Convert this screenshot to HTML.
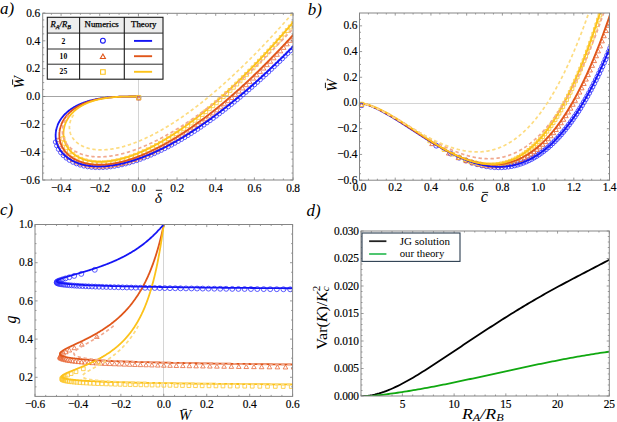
<!DOCTYPE html>
<html><head><meta charset="utf-8"><style>html,body{margin:0;padding:0;background:#fff;overflow:hidden}svg{display:block}</style></head><body>
<svg width="617" height="422" viewBox="0 0 617 422">
<rect width="617" height="422" fill="#fff"/>
<defs>
<clipPath id="ca"><rect x="42.7" y="13.3" width="250.3" height="166.7"/></clipPath>
<clipPath id="cb"><rect x="359.5" y="13" width="250" height="167.2"/></clipPath>
<clipPath id="cc"><rect x="35" y="224.5" width="257.6" height="171.9"/></clipPath>
<clipPath id="cd"><rect x="361" y="231" width="248.3" height="165"/></clipPath>
</defs>
<g clip-path="url(#ca)">
<path d="M42.7,96.5H293" stroke="#a4a4a4" stroke-width="1"/>
<path d="M138.5,13.3V180" stroke="#d4d4d4" stroke-width="1"/>
<path d="M53.28,142.02a2.1,2.1 0 1,0 4.2,0a2.1,2.1 0 1,0 -4.2,0M54.53,145.77a2.1,2.1 0 1,0 4.2,0a2.1,2.1 0 1,0 -4.2,0M56.3,149.3a2.1,2.1 0 1,0 4.2,0a2.1,2.1 0 1,0 -4.2,0M58.54,152.55a2.1,2.1 0 1,0 4.2,0a2.1,2.1 0 1,0 -4.2,0M61.16,155.48a2.1,2.1 0 1,0 4.2,0a2.1,2.1 0 1,0 -4.2,0M64.12,158.07a2.1,2.1 0 1,0 4.2,0a2.1,2.1 0 1,0 -4.2,0M67.33,160.3a2.1,2.1 0 1,0 4.2,0a2.1,2.1 0 1,0 -4.2,0M70.75,162.2a2.1,2.1 0 1,0 4.2,0a2.1,2.1 0 1,0 -4.2,0M74.31,163.77a2.1,2.1 0 1,0 4.2,0a2.1,2.1 0 1,0 -4.2,0M77.99,165.03a2.1,2.1 0 1,0 4.2,0a2.1,2.1 0 1,0 -4.2,0M81.74,166.01a2.1,2.1 0 1,0 4.2,0a2.1,2.1 0 1,0 -4.2,0M85.54,166.73a2.1,2.1 0 1,0 4.2,0a2.1,2.1 0 1,0 -4.2,0M89.37,167.22a2.1,2.1 0 1,0 4.2,0a2.1,2.1 0 1,0 -4.2,0M93.22,167.49a2.1,2.1 0 1,0 4.2,0a2.1,2.1 0 1,0 -4.2,0M97.08,167.57a2.1,2.1 0 1,0 4.2,0a2.1,2.1 0 1,0 -4.2,0M100.92,167.46a2.1,2.1 0 1,0 4.2,0a2.1,2.1 0 1,0 -4.2,0M104.76,167.2a2.1,2.1 0 1,0 4.2,0a2.1,2.1 0 1,0 -4.2,0M108.58,166.78a2.1,2.1 0 1,0 4.2,0a2.1,2.1 0 1,0 -4.2,0M112.37,166.22a2.1,2.1 0 1,0 4.2,0a2.1,2.1 0 1,0 -4.2,0M116.15,165.54a2.1,2.1 0 1,0 4.2,0a2.1,2.1 0 1,0 -4.2,0M119.9,164.74a2.1,2.1 0 1,0 4.2,0a2.1,2.1 0 1,0 -4.2,0M123.62,163.84a2.1,2.1 0 1,0 4.2,0a2.1,2.1 0 1,0 -4.2,0M127.31,162.83a2.1,2.1 0 1,0 4.2,0a2.1,2.1 0 1,0 -4.2,0M130.98,161.73a2.1,2.1 0 1,0 4.2,0a2.1,2.1 0 1,0 -4.2,0M134.62,160.55a2.1,2.1 0 1,0 4.2,0a2.1,2.1 0 1,0 -4.2,0M138.23,159.29a2.1,2.1 0 1,0 4.2,0a2.1,2.1 0 1,0 -4.2,0M141.81,157.95a2.1,2.1 0 1,0 4.2,0a2.1,2.1 0 1,0 -4.2,0M145.36,156.54a2.1,2.1 0 1,0 4.2,0a2.1,2.1 0 1,0 -4.2,0M148.88,155.06a2.1,2.1 0 1,0 4.2,0a2.1,2.1 0 1,0 -4.2,0M152.38,153.53a2.1,2.1 0 1,0 4.2,0a2.1,2.1 0 1,0 -4.2,0M155.85,151.93a2.1,2.1 0 1,0 4.2,0a2.1,2.1 0 1,0 -4.2,0M159.29,150.28a2.1,2.1 0 1,0 4.2,0a2.1,2.1 0 1,0 -4.2,0M162.71,148.58a2.1,2.1 0 1,0 4.2,0a2.1,2.1 0 1,0 -4.2,0M166.1,146.83a2.1,2.1 0 1,0 4.2,0a2.1,2.1 0 1,0 -4.2,0M169.46,145.03a2.1,2.1 0 1,0 4.2,0a2.1,2.1 0 1,0 -4.2,0M172.8,143.19a2.1,2.1 0 1,0 4.2,0a2.1,2.1 0 1,0 -4.2,0M176.12,141.31a2.1,2.1 0 1,0 4.2,0a2.1,2.1 0 1,0 -4.2,0M179.41,139.39a2.1,2.1 0 1,0 4.2,0a2.1,2.1 0 1,0 -4.2,0M182.68,137.43a2.1,2.1 0 1,0 4.2,0a2.1,2.1 0 1,0 -4.2,0M185.93,135.43a2.1,2.1 0 1,0 4.2,0a2.1,2.1 0 1,0 -4.2,0M189.15,133.4a2.1,2.1 0 1,0 4.2,0a2.1,2.1 0 1,0 -4.2,0M192.35,131.33a2.1,2.1 0 1,0 4.2,0a2.1,2.1 0 1,0 -4.2,0M195.54,129.23a2.1,2.1 0 1,0 4.2,0a2.1,2.1 0 1,0 -4.2,0M198.7,127.1a2.1,2.1 0 1,0 4.2,0a2.1,2.1 0 1,0 -4.2,0M201.84,124.95a2.1,2.1 0 1,0 4.2,0a2.1,2.1 0 1,0 -4.2,0M204.96,122.76a2.1,2.1 0 1,0 4.2,0a2.1,2.1 0 1,0 -4.2,0M208.06,120.55a2.1,2.1 0 1,0 4.2,0a2.1,2.1 0 1,0 -4.2,0M211.14,118.31a2.1,2.1 0 1,0 4.2,0a2.1,2.1 0 1,0 -4.2,0M214.21,116.05a2.1,2.1 0 1,0 4.2,0a2.1,2.1 0 1,0 -4.2,0M217.25,113.76a2.1,2.1 0 1,0 4.2,0a2.1,2.1 0 1,0 -4.2,0M220.28,111.46a2.1,2.1 0 1,0 4.2,0a2.1,2.1 0 1,0 -4.2,0M223.29,109.12a2.1,2.1 0 1,0 4.2,0a2.1,2.1 0 1,0 -4.2,0M226.28,106.77a2.1,2.1 0 1,0 4.2,0a2.1,2.1 0 1,0 -4.2,0M229.26,104.4a2.1,2.1 0 1,0 4.2,0a2.1,2.1 0 1,0 -4.2,0M232.22,102a2.1,2.1 0 1,0 4.2,0a2.1,2.1 0 1,0 -4.2,0M235.17,99.59a2.1,2.1 0 1,0 4.2,0a2.1,2.1 0 1,0 -4.2,0M238.09,97.16a2.1,2.1 0 1,0 4.2,0a2.1,2.1 0 1,0 -4.2,0M241.01,94.7a2.1,2.1 0 1,0 4.2,0a2.1,2.1 0 1,0 -4.2,0M243.9,92.24a2.1,2.1 0 1,0 4.2,0a2.1,2.1 0 1,0 -4.2,0M246.79,89.75a2.1,2.1 0 1,0 4.2,0a2.1,2.1 0 1,0 -4.2,0M249.66,87.25a2.1,2.1 0 1,0 4.2,0a2.1,2.1 0 1,0 -4.2,0M252.51,84.73a2.1,2.1 0 1,0 4.2,0a2.1,2.1 0 1,0 -4.2,0M255.35,82.2a2.1,2.1 0 1,0 4.2,0a2.1,2.1 0 1,0 -4.2,0M258.18,79.65a2.1,2.1 0 1,0 4.2,0a2.1,2.1 0 1,0 -4.2,0M260.99,77.08a2.1,2.1 0 1,0 4.2,0a2.1,2.1 0 1,0 -4.2,0M263.79,74.51a2.1,2.1 0 1,0 4.2,0a2.1,2.1 0 1,0 -4.2,0M266.58,71.92a2.1,2.1 0 1,0 4.2,0a2.1,2.1 0 1,0 -4.2,0M269.35,69.31a2.1,2.1 0 1,0 4.2,0a2.1,2.1 0 1,0 -4.2,0M272.11,66.69a2.1,2.1 0 1,0 4.2,0a2.1,2.1 0 1,0 -4.2,0M274.86,64.06a2.1,2.1 0 1,0 4.2,0a2.1,2.1 0 1,0 -4.2,0M277.59,61.42a2.1,2.1 0 1,0 4.2,0a2.1,2.1 0 1,0 -4.2,0M280.32,58.76a2.1,2.1 0 1,0 4.2,0a2.1,2.1 0 1,0 -4.2,0M283.03,56.09a2.1,2.1 0 1,0 4.2,0a2.1,2.1 0 1,0 -4.2,0M285.73,53.41a2.1,2.1 0 1,0 4.2,0a2.1,2.1 0 1,0 -4.2,0M288.42,50.72a2.1,2.1 0 1,0 4.2,0a2.1,2.1 0 1,0 -4.2,0M291.1,48.02a2.1,2.1 0 1,0 4.2,0a2.1,2.1 0 1,0 -4.2,0M293.77,45.31a2.1,2.1 0 1,0 4.2,0a2.1,2.1 0 1,0 -4.2,0" fill="none" stroke="#3434ff" stroke-width="0.8"/>
<path d="M58.15,137.73L60.46,141.78L55.84,141.78ZM59.58,142.64L61.89,146.68L57.27,146.68ZM61.87,147.19L64.18,151.23L59.56,151.23ZM64.92,151.26L67.23,155.3L62.61,155.3ZM68.58,154.76L70.89,158.81L66.27,158.81ZM72.7,157.66L75.01,161.7L70.39,161.7ZM77.16,159.96L79.47,164L74.85,164ZM81.83,161.7L84.14,165.74L79.52,165.74ZM86.64,162.93L88.95,166.97L84.33,166.97ZM91.53,163.71L93.84,167.75L89.22,167.75ZM96.44,164.09L98.75,168.14L94.13,168.14ZM101.35,164.12L103.66,168.17L99.04,168.17ZM106.24,163.84L108.55,167.88L103.93,167.88ZM111.1,163.29L113.41,167.33L108.79,167.33ZM115.92,162.49L118.23,166.54L113.61,166.54ZM120.68,161.48L122.99,165.52L118.37,165.52ZM125.4,160.28L127.71,164.32L123.09,164.32ZM130.06,158.9L132.37,162.95L127.75,162.95ZM134.67,157.37L136.98,161.41L132.36,161.41ZM139.22,155.7L141.53,159.74L136.91,159.74ZM143.72,153.9L146.03,157.94L141.41,157.94ZM148.17,151.98L150.48,156.03L145.86,156.03ZM152.56,149.96L154.87,154L150.25,154ZM156.91,147.84L159.22,151.88L154.6,151.88ZM161.21,145.62L163.52,149.66L158.9,149.66ZM165.46,143.32L167.77,147.37L163.15,147.37ZM169.67,140.95L171.98,144.99L167.36,144.99ZM173.83,138.5L176.14,142.54L171.52,142.54ZM177.95,135.98L180.26,140.03L175.64,140.03ZM182.03,133.4L184.34,137.45L179.72,137.45ZM186.07,130.76L188.38,134.81L183.76,134.81ZM190.07,128.07L192.38,132.11L187.76,132.11ZM194.03,125.32L196.34,129.36L191.72,129.36ZM197.95,122.52L200.26,126.57L195.64,126.57ZM201.85,119.68L204.16,123.72L199.54,123.72ZM205.7,116.79L208.01,120.83L203.39,120.83ZM209.53,113.86L211.84,117.9L207.22,117.9ZM213.32,110.89L215.63,114.93L211.01,114.93ZM217.08,107.88L219.39,111.92L214.77,111.92ZM220.81,104.84L223.12,108.88L218.5,108.88ZM224.52,101.76L226.83,105.8L222.21,105.8ZM228.19,98.65L230.5,102.69L225.88,102.69ZM231.84,95.5L234.15,99.54L229.53,99.54ZM235.46,92.33L237.77,96.37L233.15,96.37ZM239.05,89.13L241.36,93.17L236.74,93.17ZM242.62,85.9L244.93,89.94L240.31,89.94ZM246.16,82.64L248.47,86.68L243.85,86.68ZM249.68,79.36L251.99,83.4L247.37,83.4ZM253.18,76.05L255.49,80.09L250.87,80.09ZM256.65,72.72L258.96,76.76L254.34,76.76ZM260.1,69.37L262.41,73.41L257.79,73.41ZM263.53,66L265.84,70.04L261.22,70.04ZM266.94,62.6L269.25,66.64L264.63,66.64ZM270.33,59.18L272.64,63.23L268.02,63.23ZM273.69,55.75L276,59.79L271.38,59.79ZM277.04,52.29L279.35,56.34L274.73,56.34ZM280.37,48.82L282.68,52.86L278.06,52.86ZM283.67,45.33L285.98,49.37L281.36,49.37ZM286.96,41.82L289.27,45.87L284.65,45.87ZM290.24,38.3L292.55,42.34L287.93,42.34ZM293.49,34.76L295.8,38.8L291.18,38.8Z" fill="none" stroke="#e86a3a" stroke-width="0.8"/>
<path d="M61.12,136.76h3.86v3.86h-3.86ZM62.47,141.32h3.86v3.86h-3.86ZM64.62,145.56h3.86v3.86h-3.86ZM67.48,149.36h3.86v3.86h-3.86ZM70.92,152.61h3.86v3.86h-3.86ZM74.82,155.29h3.86v3.86h-3.86ZM79.04,157.39h3.86v3.86h-3.86ZM83.48,158.94h3.86v3.86h-3.86ZM88.05,160.01h3.86v3.86h-3.86ZM92.68,160.63h3.86v3.86h-3.86ZM97.35,160.87h3.86v3.86h-3.86ZM102.01,160.77h3.86v3.86h-3.86ZM106.64,160.36h3.86v3.86h-3.86ZM111.24,159.7h3.86v3.86h-3.86ZM115.8,158.8h3.86v3.86h-3.86ZM120.3,157.7h3.86v3.86h-3.86ZM124.76,156.41h3.86v3.86h-3.86ZM129.16,154.96h3.86v3.86h-3.86ZM133.5,153.37h3.86v3.86h-3.86ZM137.79,151.64h3.86v3.86h-3.86ZM142.03,149.79h3.86v3.86h-3.86ZM146.22,147.83h3.86v3.86h-3.86ZM150.35,145.77h3.86v3.86h-3.86ZM154.44,143.62h3.86v3.86h-3.86ZM158.48,141.38h3.86v3.86h-3.86ZM162.48,139.07h3.86v3.86h-3.86ZM166.43,136.68h3.86v3.86h-3.86ZM170.33,134.22h3.86v3.86h-3.86ZM174.2,131.71h3.86v3.86h-3.86ZM178.03,129.13h3.86v3.86h-3.86ZM181.82,126.5h3.86v3.86h-3.86ZM185.57,123.81h3.86v3.86h-3.86ZM189.28,121.08h3.86v3.86h-3.86ZM192.96,118.3h3.86v3.86h-3.86ZM196.61,115.48h3.86v3.86h-3.86ZM200.22,112.62h3.86v3.86h-3.86ZM203.8,109.72h3.86v3.86h-3.86ZM207.36,106.78h3.86v3.86h-3.86ZM210.88,103.81h3.86v3.86h-3.86ZM214.37,100.8h3.86v3.86h-3.86ZM217.84,97.76h3.86v3.86h-3.86ZM221.27,94.7h3.86v3.86h-3.86ZM224.69,91.6h3.86v3.86h-3.86ZM228.07,88.48h3.86v3.86h-3.86ZM231.43,85.33h3.86v3.86h-3.86ZM234.77,82.15h3.86v3.86h-3.86ZM238.08,78.95h3.86v3.86h-3.86ZM241.38,75.73h3.86v3.86h-3.86ZM244.64,72.48h3.86v3.86h-3.86ZM247.89,69.21h3.86v3.86h-3.86ZM251.12,65.93h3.86v3.86h-3.86ZM254.32,62.62h3.86v3.86h-3.86ZM257.5,59.29h3.86v3.86h-3.86ZM260.67,55.95h3.86v3.86h-3.86ZM263.82,52.58h3.86v3.86h-3.86ZM266.94,49.2h3.86v3.86h-3.86ZM270.05,45.81h3.86v3.86h-3.86ZM273.14,42.39h3.86v3.86h-3.86ZM276.21,38.96h3.86v3.86h-3.86ZM279.27,35.52h3.86v3.86h-3.86ZM282.31,32.06h3.86v3.86h-3.86ZM285.33,28.59h3.86v3.86h-3.86ZM288.34,25.1h3.86v3.86h-3.86ZM291.33,21.6h3.86v3.86h-3.86Z" fill="none" stroke="#fcc830" stroke-width="0.8"/>
<path d="M138.4,96.5 L130.41,96.52 L127.1,96.55 L124.57,96.59 L122.43,96.64 L120.55,96.7 L118.86,96.76 L117.3,96.83 L115.85,96.9 L114.49,96.98 L113.21,97.06 L111.99,97.14 L110.83,97.23 L109.72,97.33 L108.65,97.42 L107.62,97.52 L106.63,97.63 L105.67,97.73 L104.75,97.84 L103.84,97.96 L102.97,98.07 L102.12,98.19 L101.29,98.31 L100.48,98.44 L99.69,98.56 L98.92,98.69 L98.17,98.82 L97.43,98.96 L96.71,99.09 L96.01,99.23 L95.32,99.37 L94.64,99.52 L93.98,99.66 L93.32,99.81 L92.69,99.96 L92.06,100.11 L91.44,100.27 L90.83,100.42 L90.24,100.58 L89.65,100.74 L89.08,100.9 L88.51,101.06 L87.95,101.23 L87.41,101.4 L86.87,101.56 L86.33,101.73 L85.81,101.91 L85.3,102.08 L84.79,102.26 L84.29,102.43 L83.8,102.61 L83.31,102.79 L82.83,102.97 L82.36,103.15 L81.89,103.34 L81.44,103.52 L80.98,103.71 L80.54,103.9 L80.1,104.09 L79.67,104.28 L79.24,104.47 L78.82,104.67 L78.4,104.86 L77.99,105.06 L77.58,105.26 L77.18,105.46 L76.79,105.66 L76.4,105.86 L76.02,106.06 L75.64,106.27 L75.26,106.47 L74.9,106.68 L74.53,106.88 L74.17,107.09 L73.82,107.3 L73.47,107.51 L73.12,107.72 L72.78,107.93 L72.45,108.15 L72.11,108.36 L71.79,108.58 L71.46,108.79 L71.14,109.01 L70.83,109.23 L70.52,109.45 L70.21,109.67 L69.91,109.89 L69.61,110.11 L69.32,110.33 L69.03,110.56 L68.74,110.78 L68.46,111 L68.18,111.23 L67.9,111.46 L67.63,111.68 L67.36,111.91 L67.1,112.14 L66.84,112.37 L66.58,112.6 L66.33,112.83 L66.08,113.06 L65.83,113.29 L65.59,113.53 L65.35,113.76 L65.12,113.99 L64.88,114.23 L64.66,114.46 L64.43,114.7 L64.21,114.93 L63.99,115.17 L63.77,115.41 L63.56,115.65 L63.35,115.88 L63.15,116.12 L62.94,116.36 L62.74,116.6 L62.55,116.84 L62.35,117.08 L62.16,117.32 L61.98,117.57 L61.79,117.81 L61.61,118.05 L61.43,118.29 L61.26,118.54 L61.08,118.78 L60.92,119.02 L60.75,119.27 L60.59,119.51 L60.43,119.76 L60.27,120 L60.11,120.25 L59.96,120.49 L59.81,120.74 L59.67,120.99 L59.52,121.23 L59.38,121.48 L59.24,121.73 L59.11,121.98 L58.98,122.22 L58.85,122.47 L58.72,122.72 L58.6,122.97 L58.48,123.22 L58.36,123.46 L58.24,123.71 L58.13,123.96 L58.02,124.21 L57.91,124.46 L57.81,124.71 L57.7,124.96 L57.6,125.21 L57.51,125.46 L57.41,125.71 L57.32,125.96 L57.23,126.21 L57.14,126.45 L57.06,126.7 L56.97,126.95 L56.9,127.2 L56.82,127.45 L56.74,127.7 L56.67,127.95 L56.6,128.2 L56.54,128.45 L56.47,128.7 L56.41,128.95 L56.35,129.2 L56.29,129.45 L56.24,129.7 L56.19,129.95 L56.14,130.2 L56.09,130.45 L56.04,130.69 L56,130.94 L55.96,131.19 L55.92,131.44 L55.89,131.69 L55.86,131.94 L55.82,132.18 L55.8,132.43 L55.77,132.68 L55.75,132.93 L55.73,133.17 L55.71,133.42 L55.69,133.67 L55.68,133.91 L55.66,134.16 L55.65,134.4 L55.65,134.65 L55.64,134.89 L55.64,135.14 L55.64,135.38 L55.64,135.63 L55.64,135.87 L55.65,136.11 L55.66,136.36 L55.67,136.6 L55.68,136.84 L55.7,137.08 L55.72,137.33 L55.74,137.57 L55.76,137.81 L55.78,138.05 L55.81,138.29 L55.84,138.53 L55.87,138.77 L55.9,139.01 L55.94,139.24 L55.97,139.48 L56.01,139.72 L56.05,139.96 L56.1,140.19 L56.14,140.43 L56.19,140.66 L56.24,140.9 L56.3,141.13 L56.35,141.37 L56.41,141.6 L56.47,141.83 L56.53,142.06 L56.59,142.29 L56.66,142.53 L56.72,142.76 L56.79,142.99 L56.86,143.21 L56.94,143.44 L57.01,143.67 L57.09,143.9 L57.17,144.13 L57.25,144.35 L57.34,144.58 L57.43,144.8 L57.51,145.02 L57.61,145.25 L57.7,145.47 L57.79,145.69 L57.89,145.91 L57.99,146.13 L58.09,146.35 L58.19,146.57 L58.3,146.79 L58.4,147.01 L58.51,147.23 L58.63,147.44 L58.74,147.66 L58.85,147.87 L58.97,148.08 L59.09,148.3 L59.21,148.51 L59.34,148.72 L59.46,148.93 L59.59,149.14 L59.72,149.35 L59.85,149.56 L59.98,149.76 L60.12,149.97 L60.26,150.17 L60.4,150.38 L60.54,150.58 L60.68,150.78 L60.83,150.99 L60.97,151.19 L61.12,151.39 L61.28,151.59 L61.43,151.78 L61.58,151.98 L61.74,152.18 L61.9,152.37 L62.06,152.57 L62.23,152.76 L62.39,152.95 L62.56,153.14 L62.73,153.33 L62.9,153.52 L63.07,153.71 L63.25,153.9 L63.43,154.08 L63.6,154.27 L63.79,154.45 L63.97,154.63 L64.15,154.81 L64.34,154.99 L64.53,155.17 L64.72,155.35 L64.91,155.53 L65.11,155.71 L65.3,155.88 L65.5,156.05 L65.7,156.23 L65.91,156.4 L66.11,156.57 L66.32,156.74 L66.52,156.91 L66.73,157.07 L66.95,157.24 L67.16,157.4 L67.38,157.57 L67.59,157.73 L67.81,157.89 L68.03,158.05 L68.26,158.21 L68.48,158.37 L68.71,158.52 L68.94,158.68 L69.17,158.83 L69.4,158.98 L69.64,159.13 L69.88,159.28 L70.11,159.43 L70.35,159.58 L70.6,159.72 L70.84,159.87 L71.09,160.01 L71.34,160.15 L71.59,160.29 L71.84,160.43 L72.09,160.57 L72.35,160.7 L72.6,160.84 L72.86,160.97 L73.12,161.11 L73.39,161.24 L73.65,161.37 L73.92,161.49 L74.19,161.62 L74.46,161.74 L74.73,161.87 L75,161.99 L75.28,162.11 L75.56,162.23 L75.84,162.35 L76.12,162.46 L76.4,162.58 L76.69,162.69 L76.97,162.8 L77.26,162.91 L77.55,163.02 L77.85,163.13 L78.14,163.23 L78.44,163.34 L78.74,163.44 L79.04,163.54 L79.34,163.64 L79.64,163.74 L79.95,163.84 L80.25,163.93 L80.56,164.02 L80.87,164.11 L81.19,164.2 L81.5,164.29 L81.82,164.38 L82.14,164.46 L82.46,164.55 L82.78,164.63 L83.1,164.71 L83.43,164.79 L83.75,164.86 L84.08,164.94 L84.41,165.01 L84.75,165.08 L85.08,165.15 L85.42,165.22 L85.76,165.29 L86.1,165.35 L86.44,165.42 L86.78,165.48 L87.13,165.54 L87.47,165.59 L87.82,165.65 L88.17,165.7 L88.53,165.76 L88.88,165.81 L89.24,165.86 L89.59,165.9 L89.95,165.95 L90.32,165.99 L90.68,166.03 L91.04,166.07 L91.41,166.11 L91.78,166.15 L92.15,166.18 L92.52,166.21 L92.9,166.24 L93.27,166.27 L93.65,166.3 L94.03,166.32 L94.41,166.35 L94.79,166.37 L95.18,166.39 L95.57,166.4 L95.95,166.42 L96.34,166.43 L96.74,166.44 L97.13,166.45 L97.53,166.46 L97.92,166.46 L98.32,166.47 L98.72,166.47 L99.13,166.47 L99.53,166.47 L99.94,166.46 L100.34,166.45 L100.75,166.45 L101.16,166.44 L101.58,166.42 L101.99,166.41 L102.41,166.39 L102.83,166.37 L103.25,166.35 L103.67,166.33 L104.09,166.3 L104.52,166.28 L104.95,166.25 L105.37,166.22 L105.81,166.18 L106.24,166.15 L106.67,166.11 L107.11,166.07 L107.55,166.03 L107.99,165.98 L108.43,165.94 L108.87,165.89 L109.31,165.84 L109.76,165.78 L110.21,165.73 L110.66,165.67 L111.11,165.61 L111.56,165.55 L112.02,165.49 L112.48,165.42 L112.93,165.35 L113.4,165.28 L113.86,165.21 L114.32,165.13 L114.79,165.06 L115.25,164.98 L115.72,164.89 L116.19,164.81 L116.67,164.72 L117.14,164.63 L117.62,164.54 L118.1,164.45 L118.57,164.35 L119.06,164.26 L119.54,164.16 L120.02,164.05 L120.51,163.95 L121,163.84 L121.49,163.73 L121.98,163.62 L122.47,163.5 L122.97,163.39 L123.46,163.27 L123.96,163.15 L124.46,163.02 L124.97,162.89 L125.47,162.77 L125.97,162.63 L126.48,162.5 L126.99,162.36 L127.5,162.23 L128.01,162.08 L128.53,161.94 L129.04,161.79 L129.56,161.65 L130.08,161.49 L130.6,161.34 L131.12,161.18 L131.65,161.03 L132.17,160.86 L132.7,160.7 L133.23,160.53 L133.76,160.36 L134.3,160.19 L134.83,160.02 L135.37,159.84 L135.9,159.66 L136.44,159.48 L136.99,159.3 L137.53,159.11 L138.07,158.92 L138.62,158.73 L139.17,158.53 L139.72,158.34 L140.27,158.14 L140.82,157.93 L141.38,157.73 L141.93,157.52 L142.49,157.31 L143.05,157.1 L143.62,156.88 L144.18,156.66 L144.74,156.44 L145.31,156.22 L145.88,155.99 L146.45,155.76 L147.02,155.53 L147.6,155.29 L148.17,155.06 L148.75,154.82 L149.33,154.57 L149.91,154.33 L150.49,154.08 L151.07,153.83 L151.66,153.57 L152.25,153.32 L152.84,153.06 L153.43,152.79 L154.02,152.53 L154.61,152.26 L155.21,151.99 L155.81,151.72 L156.41,151.44 L157.01,151.16 L157.61,150.88 L158.21,150.59 L158.82,150.3 L159.43,150.01 L160.04,149.72 L160.65,149.42 L161.26,149.12 L161.87,148.82 L162.49,148.51 L163.11,148.21 L163.73,147.89 L164.35,147.58 L164.97,147.26 L165.6,146.94 L166.22,146.62 L166.85,146.29 L167.48,145.97 L168.11,145.63 L168.74,145.3 L169.38,144.96 L170.01,144.62 L170.65,144.28 L171.29,143.93 L171.93,143.58 L172.58,143.23 L173.22,142.87 L173.87,142.51 L174.52,142.15 L175.17,141.78 L175.82,141.42 L176.47,141.04 L177.12,140.67 L177.78,140.29 L178.44,139.91 L179.1,139.53 L179.76,139.14 L180.42,138.75 L181.09,138.36 L181.75,137.96 L182.42,137.56 L183.09,137.16 L183.76,136.76 L184.44,136.35 L185.11,135.94 L185.79,135.52 L186.47,135.1 L187.14,134.68 L187.83,134.26 L188.51,133.83 L189.19,133.4 L189.88,132.96 L190.57,132.53 L191.26,132.09 L191.95,131.64 L192.64,131.19 L193.34,130.74 L194.03,130.29 L194.73,129.83 L195.43,129.37 L196.13,128.91 L196.84,128.44 L197.54,127.97 L198.25,127.5 L198.96,127.02 L199.66,126.54 L200.38,126.06 L201.09,125.57 L201.8,125.08 L202.52,124.59 L203.24,124.09 L203.96,123.59 L204.68,123.09 L205.4,122.58 L206.13,122.07 L206.85,121.56 L207.58,121.04 L208.31,120.52 L209.04,120 L209.77,119.47 L210.51,118.94 L211.25,118.41 L211.98,117.87 L212.72,117.33 L213.46,116.79 L214.21,116.24 L214.95,115.69 L215.7,115.13 L216.45,114.57 L217.19,114.01 L217.95,113.45 L218.7,112.88 L219.45,112.31 L220.21,111.73 L220.97,111.15 L221.73,110.57 L222.49,109.98 L223.25,109.39 L224.01,108.8 L224.78,108.2 L225.55,107.6 L226.32,107 L227.09,106.39 L227.86,105.78 L228.63,105.17 L229.41,104.55 L230.19,103.93 L230.97,103.3 L231.75,102.67 L232.53,102.04 L233.31,101.4 L234.1,100.76 L234.89,100.12 L235.68,99.47 L236.47,98.82 L237.26,98.17 L238.05,97.51 L238.85,96.85 L239.65,96.18 L240.44,95.51 L241.25,94.84 L242.05,94.16 L242.85,93.48 L243.66,92.8 L244.46,92.11 L245.27,91.42 L246.08,90.72 L246.89,90.02 L247.71,89.32 L248.52,88.61 L249.34,87.9 L250.16,87.19 L250.98,86.47 L251.8,85.75 L252.62,85.02 L253.45,84.29 L254.28,83.56 L255.1,82.82 L255.93,82.08 L256.77,81.33 L257.6,80.58 L258.43,79.83 L259.27,79.08 L260.11,78.31 L260.95,77.55 L261.79,76.78 L262.63,76.01 L263.48,75.23 L264.32,74.45 L265.17,73.67 L266.02,72.88 L266.87,72.09 L267.73,71.3 L268.58,70.5 L269.44,69.69 L270.3,68.89 L271.15,68.07 L272.02,67.26 L272.88,66.44 L273.74,65.62 L274.61,64.79 L275.48,63.96 L276.35,63.12 L277.22,62.28 L278.09,61.44 L278.96,60.59 L279.84,59.74 L280.72,58.89 L281.6,58.03 L282.48,57.16 L283.36,56.3 L284.24,55.42 L285.13,54.55 L286.01,53.67 L286.9,52.79 L287.79,51.9 L288.69,51.01 L289.58,50.11 L290.48,49.21 L291.37,48.3 L292.27,47.4 L293.17,46.48 L294.07,45.57 L294.98,44.65 L295.88,43.72 L296.79,42.79 L297.7,41.86 L298.61,40.92 L299.52,39.98 L300.43,39.03" fill="none" stroke="#1414f5" stroke-width="1.8"/>
<path d="M138.4,96.5 L130.73,96.52 L127.55,96.55 L125.11,96.59 L123.06,96.64 L121.26,96.7 L119.63,96.76 L118.13,96.83 L116.74,96.9 L115.44,96.98 L114.21,97.06 L113.04,97.15 L111.92,97.24 L110.85,97.33 L109.83,97.43 L108.84,97.53 L107.89,97.63 L106.97,97.74 L106.08,97.85 L105.22,97.96 L104.38,98.08 L103.56,98.2 L102.76,98.32 L101.99,98.44 L101.23,98.57 L100.49,98.7 L99.77,98.83 L99.06,98.97 L98.37,99.1 L97.69,99.24 L97.03,99.39 L96.38,99.53 L95.75,99.68 L95.12,99.82 L94.51,99.97 L93.9,100.13 L93.31,100.28 L92.73,100.44 L92.16,100.6 L91.6,100.76 L91.05,100.92 L90.5,101.08 L89.97,101.25 L89.44,101.41 L88.93,101.58 L88.42,101.75 L87.92,101.93 L87.42,102.1 L86.94,102.28 L86.46,102.45 L85.98,102.63 L85.52,102.81 L85.06,102.99 L84.61,103.18 L84.16,103.36 L83.72,103.55 L83.29,103.74 L82.87,103.93 L82.44,104.12 L82.03,104.31 L81.62,104.5 L81.22,104.7 L80.82,104.89 L80.43,105.09 L80.04,105.29 L79.66,105.49 L79.28,105.69 L78.91,105.89 L78.54,106.09 L78.18,106.3 L77.82,106.5 L77.47,106.71 L77.12,106.92 L76.78,107.12 L76.44,107.33 L76.1,107.54 L75.77,107.76 L75.45,107.97 L75.13,108.18 L74.81,108.4 L74.5,108.61 L74.19,108.83 L73.88,109.05 L73.58,109.26 L73.29,109.48 L73,109.7 L72.71,109.92 L72.42,110.15 L72.14,110.37 L71.86,110.59 L71.59,110.82 L71.32,111.04 L71.06,111.27 L70.79,111.49 L70.54,111.72 L70.28,111.95 L70.03,112.18 L69.78,112.41 L69.54,112.64 L69.3,112.87 L69.06,113.1 L68.83,113.33 L68.6,113.56 L68.37,113.8 L68.14,114.03 L67.92,114.26 L67.71,114.5 L67.49,114.74 L67.28,114.97 L67.07,115.21 L66.87,115.44 L66.67,115.68 L66.47,115.92 L66.27,116.16 L66.08,116.4 L65.89,116.64 L65.71,116.88 L65.52,117.12 L65.34,117.36 L65.17,117.6 L64.99,117.84 L64.82,118.08 L64.65,118.33 L64.49,118.57 L64.33,118.81 L64.17,119.06 L64.01,119.3 L63.86,119.54 L63.71,119.79 L63.56,120.03 L63.41,120.28 L63.27,120.52 L63.13,120.77 L62.99,121.01 L62.86,121.26 L62.73,121.51 L62.6,121.75 L62.47,122 L62.35,122.25 L62.23,122.49 L62.11,122.74 L61.99,122.99 L61.88,123.23 L61.77,123.48 L61.66,123.73 L61.56,123.98 L61.45,124.23 L61.35,124.47 L61.26,124.72 L61.16,124.97 L61.07,125.22 L60.98,125.47 L60.89,125.71 L60.81,125.96 L60.72,126.21 L60.64,126.46 L60.57,126.71 L60.49,126.96 L60.42,127.2 L60.35,127.45 L60.28,127.7 L60.22,127.95 L60.15,128.2 L60.09,128.45 L60.03,128.69 L59.98,128.94 L59.93,129.19 L59.88,129.44 L59.83,129.68 L59.78,129.93 L59.74,130.18 L59.7,130.43 L59.66,130.67 L59.62,130.92 L59.59,131.17 L59.55,131.41 L59.52,131.66 L59.5,131.9 L59.47,132.15 L59.45,132.4 L59.43,132.64 L59.41,132.89 L59.39,133.13 L59.38,133.37 L59.37,133.62 L59.36,133.86 L59.35,134.11 L59.35,134.35 L59.34,134.59 L59.34,134.83 L59.35,135.08 L59.35,135.32 L59.36,135.56 L59.36,135.8 L59.38,136.04 L59.39,136.28 L59.4,136.52 L59.42,136.76 L59.44,137 L59.46,137.24 L59.49,137.48 L59.51,137.72 L59.54,137.95 L59.57,138.19 L59.6,138.43 L59.64,138.66 L59.67,138.9 L59.71,139.13 L59.75,139.37 L59.8,139.6 L59.84,139.84 L59.89,140.07 L59.94,140.3 L59.99,140.53 L60.04,140.76 L60.1,140.99 L60.16,141.22 L60.22,141.45 L60.28,141.68 L60.34,141.91 L60.41,142.14 L60.48,142.37 L60.55,142.59 L60.62,142.82 L60.69,143.04 L60.77,143.27 L60.85,143.49 L60.93,143.71 L61.01,143.94 L61.09,144.16 L61.18,144.38 L61.27,144.6 L61.36,144.82 L61.45,145.04 L61.55,145.26 L61.64,145.47 L61.74,145.69 L61.84,145.91 L61.95,146.12 L62.05,146.34 L62.16,146.55 L62.27,146.76 L62.38,146.97 L62.49,147.19 L62.61,147.4 L62.72,147.6 L62.84,147.81 L62.96,148.02 L63.08,148.23 L63.21,148.43 L63.33,148.64 L63.46,148.84 L63.59,149.05 L63.73,149.25 L63.86,149.45 L64,149.65 L64.14,149.85 L64.28,150.05 L64.42,150.25 L64.56,150.44 L64.71,150.64 L64.86,150.83 L65.01,151.03 L65.16,151.22 L65.31,151.41 L65.47,151.6 L65.63,151.79 L65.78,151.98 L65.95,152.17 L66.11,152.36 L66.28,152.54 L66.44,152.73 L66.61,152.91 L66.78,153.09 L66.96,153.27 L67.13,153.45 L67.31,153.63 L67.49,153.81 L67.67,153.99 L67.85,154.16 L68.03,154.34 L68.22,154.51 L68.41,154.68 L68.6,154.86 L68.79,155.03 L68.98,155.19 L69.18,155.36 L69.38,155.53 L69.58,155.69 L69.78,155.86 L69.98,156.02 L70.19,156.18 L70.39,156.34 L70.6,156.5 L70.81,156.66 L71.02,156.82 L71.24,156.97 L71.46,157.13 L71.67,157.28 L71.89,157.43 L72.12,157.58 L72.34,157.73 L72.56,157.88 L72.79,158.02 L73.02,158.17 L73.25,158.31 L73.49,158.45 L73.72,158.6 L73.96,158.74 L74.19,158.87 L74.43,159.01 L74.68,159.15 L74.92,159.28 L75.17,159.41 L75.41,159.54 L75.66,159.67 L75.91,159.8 L76.17,159.93 L76.42,160.05 L76.68,160.18 L76.94,160.3 L77.2,160.42 L77.46,160.54 L77.72,160.66 L77.99,160.78 L78.26,160.89 L78.53,161 L78.8,161.12 L79.07,161.23 L79.35,161.34 L79.62,161.44 L79.9,161.55 L80.18,161.65 L80.46,161.76 L80.75,161.86 L81.03,161.96 L81.32,162.05 L81.61,162.15 L81.9,162.25 L82.19,162.34 L82.49,162.43 L82.78,162.52 L83.08,162.61 L83.38,162.69 L83.68,162.78 L83.99,162.86 L84.29,162.94 L84.6,163.02 L84.91,163.1 L85.22,163.18 L85.53,163.25 L85.84,163.33 L86.16,163.4 L86.48,163.47 L86.8,163.54 L87.12,163.6 L87.44,163.67 L87.77,163.73 L88.09,163.79 L88.42,163.85 L88.75,163.91 L89.08,163.96 L89.42,164.02 L89.75,164.07 L90.09,164.12 L90.43,164.17 L90.77,164.21 L91.11,164.26 L91.45,164.3 L91.8,164.34 L92.15,164.38 L92.5,164.42 L92.85,164.45 L93.2,164.49 L93.55,164.52 L93.91,164.55 L94.27,164.58 L94.63,164.6 L94.99,164.63 L95.35,164.65 L95.72,164.67 L96.09,164.69 L96.45,164.7 L96.82,164.72 L97.2,164.73 L97.57,164.74 L97.95,164.75 L98.32,164.75 L98.7,164.76 L99.08,164.76 L99.46,164.76 L99.85,164.76 L100.23,164.75 L100.62,164.75 L101.01,164.74 L101.4,164.73 L101.79,164.72 L102.19,164.7 L102.59,164.69 L102.98,164.67 L103.38,164.65 L103.78,164.63 L104.19,164.6 L104.59,164.58 L105,164.55 L105.41,164.52 L105.82,164.48 L106.23,164.45 L106.64,164.41 L107.06,164.37 L107.47,164.33 L107.89,164.28 L108.31,164.24 L108.73,164.19 L109.16,164.14 L109.58,164.09 L110.01,164.03 L110.44,163.97 L110.87,163.91 L111.3,163.85 L111.74,163.79 L112.17,163.72 L112.61,163.65 L113.05,163.58 L113.49,163.51 L113.93,163.43 L114.37,163.36 L114.82,163.28 L115.27,163.2 L115.72,163.11 L116.17,163.02 L116.62,162.93 L117.08,162.84 L117.53,162.75 L117.99,162.65 L118.45,162.55 L118.91,162.45 L119.37,162.35 L119.84,162.24 L120.3,162.14 L120.77,162.02 L121.24,161.91 L121.71,161.8 L122.18,161.68 L122.66,161.56 L123.13,161.44 L123.61,161.31 L124.09,161.18 L124.57,161.05 L125.06,160.92 L125.54,160.78 L126.03,160.65 L126.52,160.51 L127.01,160.36 L127.5,160.22 L127.99,160.07 L128.48,159.92 L128.98,159.77 L129.48,159.61 L129.98,159.46 L130.48,159.3 L130.98,159.13 L131.49,158.97 L131.99,158.8 L132.5,158.63 L133.01,158.46 L133.52,158.28 L134.04,158.1 L134.55,157.92 L135.07,157.74 L135.59,157.55 L136.11,157.36 L136.63,157.17 L137.15,156.98 L137.68,156.78 L138.2,156.58 L138.73,156.38 L139.26,156.17 L139.79,155.96 L140.33,155.75 L140.86,155.54 L141.4,155.32 L141.94,155.11 L142.48,154.89 L143.02,154.66 L143.56,154.43 L144.1,154.21 L144.65,153.97 L145.2,153.74 L145.75,153.5 L146.3,153.26 L146.85,153.02 L147.41,152.77 L147.96,152.52 L148.52,152.27 L149.08,152.01 L149.64,151.76 L150.21,151.5 L150.77,151.23 L151.34,150.97 L151.91,150.7 L152.48,150.43 L153.05,150.15 L153.62,149.88 L154.19,149.6 L154.77,149.31 L155.35,149.03 L155.93,148.74 L156.51,148.44 L157.09,148.15 L157.68,147.85 L158.26,147.55 L158.85,147.25 L159.44,146.94 L160.03,146.63 L160.62,146.32 L161.22,146 L161.81,145.68 L162.41,145.36 L163.01,145.04 L163.61,144.71 L164.22,144.38 L164.82,144.05 L165.43,143.71 L166.03,143.37 L166.64,143.03 L167.25,142.68 L167.87,142.33 L168.48,141.98 L169.1,141.63 L169.71,141.27 L170.33,140.91 L170.95,140.54 L171.57,140.17 L172.2,139.8 L172.82,139.43 L173.45,139.05 L174.08,138.67 L174.71,138.29 L175.34,137.9 L175.98,137.52 L176.61,137.12 L177.25,136.73 L177.89,136.33 L178.53,135.93 L179.17,135.52 L179.81,135.11 L180.46,134.7 L181.11,134.29 L181.75,133.87 L182.4,133.45 L183.06,133.02 L183.71,132.59 L184.36,132.16 L185.02,131.73 L185.68,131.29 L186.34,130.85 L187,130.41 L187.66,129.96 L188.33,129.51 L188.99,129.05 L189.66,128.6 L190.33,128.13 L191,127.67 L191.68,127.2 L192.35,126.73 L193.03,126.26 L193.7,125.78 L194.38,125.3 L195.06,124.82 L195.75,124.33 L196.43,123.84 L197.12,123.34 L197.8,122.84 L198.49,122.34 L199.18,121.84 L199.88,121.33 L200.57,120.82 L201.27,120.3 L201.96,119.79 L202.66,119.26 L203.36,118.74 L204.06,118.21 L204.77,117.68 L205.47,117.14 L206.18,116.6 L206.89,116.06 L207.6,115.51 L208.31,114.96 L209.02,114.41 L209.74,113.85 L210.45,113.29 L211.17,112.73 L211.89,112.16 L212.61,111.59 L213.34,111.02 L214.06,110.44 L214.79,109.86 L215.52,109.27 L216.24,108.68 L216.98,108.09 L217.71,107.49 L218.44,106.89 L219.18,106.29 L219.92,105.68 L220.66,105.07 L221.4,104.46 L222.14,103.84 L222.88,103.22 L223.63,102.59 L224.38,101.97 L225.12,101.33 L225.87,100.7 L226.63,100.06 L227.38,99.41 L228.14,98.76 L228.89,98.11 L229.65,97.46 L230.41,96.8 L231.17,96.14 L231.94,95.47 L232.7,94.8 L233.47,94.13 L234.23,93.45 L235,92.77 L235.78,92.08 L236.55,91.4 L237.32,90.7 L238.1,90.01 L238.88,89.31 L239.66,88.6 L240.44,87.89 L241.22,87.18 L242,86.47 L242.79,85.75 L243.58,85.02 L244.37,84.3 L245.16,83.57 L245.95,82.83 L246.74,82.09 L247.54,81.35 L248.33,80.6 L249.13,79.85 L249.93,79.1 L250.73,78.34 L251.54,77.58 L252.34,76.81 L253.15,76.04 L253.96,75.27 L254.77,74.49 L255.58,73.71 L256.39,72.92 L257.21,72.13 L258.02,71.34 L258.84,70.54 L259.66,69.74 L260.48,68.93 L261.3,68.12 L262.13,67.3 L262.95,66.49 L263.78,65.66 L264.61,64.84 L265.44,64.01 L266.27,63.17 L267.1,62.33 L267.94,61.49 L268.78,60.65 L269.61,59.79 L270.45,58.94 L271.29,58.08 L272.14,57.22 L272.98,56.35 L273.83,55.48 L274.68,54.6 L275.53,53.72 L276.38,52.84 L277.23,51.95 L278.08,51.06 L278.94,50.16 L279.8,49.26 L280.66,48.36 L281.52,47.45 L282.38,46.54 L283.24,45.62 L284.11,44.7 L284.98,43.77 L285.84,42.84 L286.72,41.91 L287.59,40.97 L288.46,40.03 L289.34,39.08 L290.21,38.13 L291.09,37.17 L291.97,36.21 L292.85,35.25 L293.73,34.28 L294.62,33.31 L295.5,32.33 L296.39,31.35 L297.28,30.36 L298.17,29.37 L299.06,28.38 L299.96,27.38 L300.85,26.38" fill="none" stroke="#e0561a" stroke-width="1.8"/>
<path d="M138.4,96.5 L130.99,96.52 L127.92,96.55 L125.57,96.59 L123.59,96.65 L121.85,96.7 L120.27,96.77 L118.83,96.84 L117.48,96.91 L116.23,96.99 L115.04,97.08 L113.91,97.16 L112.83,97.26 L111.8,97.35 L110.82,97.45 L109.86,97.55 L108.95,97.66 L108.06,97.77 L107.2,97.88 L106.37,98 L105.56,98.12 L104.77,98.24 L104,98.37 L103.25,98.5 L102.53,98.63 L101.81,98.76 L101.12,98.89 L100.44,99.03 L99.77,99.17 L99.12,99.32 L98.48,99.46 L97.86,99.61 L97.25,99.76 L96.65,99.91 L96.06,100.06 L95.48,100.22 L94.91,100.38 L94.35,100.54 L93.8,100.7 L93.26,100.86 L92.73,101.03 L92.21,101.2 L91.7,101.37 L91.2,101.54 L90.7,101.71 L90.21,101.89 L89.73,102.06 L89.26,102.24 L88.79,102.42 L88.33,102.6 L87.88,102.79 L87.44,102.97 L87,103.16 L86.57,103.34 L86.14,103.53 L85.72,103.72 L85.31,103.92 L84.9,104.11 L84.5,104.3 L84.1,104.5 L83.71,104.7 L83.33,104.9 L82.95,105.1 L82.57,105.3 L82.2,105.5 L81.84,105.7 L81.48,105.91 L81.13,106.11 L80.78,106.32 L80.43,106.53 L80.09,106.74 L79.76,106.95 L79.43,107.16 L79.1,107.38 L78.78,107.59 L78.46,107.8 L78.15,108.02 L77.84,108.24 L77.54,108.45 L77.24,108.67 L76.95,108.89 L76.65,109.11 L76.37,109.34 L76.08,109.56 L75.8,109.78 L75.53,110 L75.26,110.23 L74.99,110.46 L74.73,110.68 L74.47,110.91 L74.21,111.14 L73.96,111.37 L73.71,111.6 L73.46,111.83 L73.22,112.06 L72.98,112.29 L72.75,112.52 L72.52,112.76 L72.29,112.99 L72.06,113.22 L71.84,113.46 L71.63,113.69 L71.41,113.93 L71.2,114.17 L70.99,114.4 L70.79,114.64 L70.59,114.88 L70.39,115.12 L70.19,115.36 L70,115.6 L69.81,115.84 L69.63,116.08 L69.45,116.32 L69.27,116.56 L69.09,116.81 L68.92,117.05 L68.75,117.29 L68.58,117.53 L68.41,117.78 L68.25,118.02 L68.1,118.27 L67.94,118.51 L67.79,118.76 L67.64,119 L67.49,119.25 L67.35,119.49 L67.21,119.74 L67.07,119.99 L66.93,120.23 L66.8,120.48 L66.67,120.73 L66.54,120.98 L66.42,121.22 L66.3,121.47 L66.18,121.72 L66.06,121.97 L65.95,122.22 L65.84,122.46 L65.73,122.71 L65.62,122.96 L65.52,123.21 L65.42,123.46 L65.32,123.71 L65.23,123.96 L65.14,124.21 L65.05,124.46 L64.96,124.7 L64.87,124.95 L64.79,125.2 L64.71,125.45 L64.64,125.7 L64.56,125.95 L64.49,126.2 L64.42,126.45 L64.35,126.7 L64.29,126.95 L64.23,127.2 L64.17,127.44 L64.11,127.69 L64.06,127.94 L64,128.19 L63.95,128.44 L63.91,128.69 L63.86,128.93 L63.82,129.18 L63.78,129.43 L63.74,129.68 L63.7,129.92 L63.67,130.17 L63.64,130.42 L63.61,130.66 L63.59,130.91 L63.56,131.16 L63.54,131.4 L63.52,131.65 L63.51,131.89 L63.49,132.14 L63.48,132.38 L63.47,132.63 L63.46,132.87 L63.46,133.11 L63.45,133.36 L63.45,133.6 L63.46,133.84 L63.46,134.08 L63.47,134.33 L63.47,134.57 L63.48,134.81 L63.5,135.05 L63.51,135.29 L63.53,135.53 L63.55,135.77 L63.57,136.01 L63.6,136.24 L63.62,136.48 L63.65,136.72 L63.68,136.96 L63.71,137.19 L63.75,137.43 L63.79,137.66 L63.82,137.9 L63.87,138.13 L63.91,138.37 L63.96,138.6 L64,138.83 L64.05,139.06 L64.11,139.29 L64.16,139.52 L64.22,139.75 L64.28,139.98 L64.34,140.21 L64.4,140.44 L64.46,140.67 L64.53,140.89 L64.6,141.12 L64.67,141.34 L64.74,141.57 L64.82,141.79 L64.9,142.01 L64.98,142.24 L65.06,142.46 L65.14,142.68 L65.23,142.9 L65.32,143.12 L65.41,143.34 L65.5,143.55 L65.59,143.77 L65.69,143.99 L65.79,144.2 L65.89,144.42 L65.99,144.63 L66.1,144.84 L66.2,145.06 L66.31,145.27 L66.42,145.48 L66.53,145.69 L66.65,145.89 L66.76,146.1 L66.88,146.31 L67,146.51 L67.13,146.72 L67.25,146.92 L67.38,147.12 L67.51,147.33 L67.64,147.53 L67.77,147.73 L67.91,147.93 L68.04,148.12 L68.18,148.32 L68.32,148.52 L68.46,148.71 L68.61,148.9 L68.76,149.1 L68.9,149.29 L69.05,149.48 L69.21,149.67 L69.36,149.86 L69.52,150.04 L69.68,150.23 L69.84,150.41 L70,150.6 L70.16,150.78 L70.33,150.96 L70.5,151.14 L70.67,151.32 L70.84,151.5 L71.01,151.68 L71.19,151.85 L71.37,152.03 L71.55,152.2 L71.73,152.37 L71.91,152.54 L72.1,152.71 L72.29,152.88 L72.48,153.05 L72.67,153.22 L72.86,153.38 L73.06,153.54 L73.25,153.71 L73.45,153.87 L73.65,154.03 L73.86,154.18 L74.06,154.34 L74.27,154.5 L74.48,154.65 L74.69,154.8 L74.9,154.96 L75.11,155.11 L75.33,155.25 L75.55,155.4 L75.77,155.55 L75.99,155.69 L76.21,155.83 L76.44,155.98 L76.67,156.12 L76.9,156.26 L77.13,156.39 L77.36,156.53 L77.6,156.66 L77.83,156.8 L78.07,156.93 L78.31,157.06 L78.55,157.19 L78.8,157.31 L79.04,157.44 L79.29,157.56 L79.54,157.68 L79.79,157.81 L80.05,157.92 L80.3,158.04 L80.56,158.16 L80.82,158.27 L81.08,158.39 L81.34,158.5 L81.61,158.61 L81.88,158.71 L82.14,158.82 L82.41,158.93 L82.69,159.03 L82.96,159.13 L83.24,159.23 L83.51,159.33 L83.79,159.42 L84.07,159.52 L84.36,159.61 L84.64,159.7 L84.93,159.79 L85.22,159.88 L85.51,159.97 L85.8,160.05 L86.09,160.13 L86.39,160.22 L86.69,160.29 L86.99,160.37 L87.29,160.45 L87.59,160.52 L87.9,160.59 L88.2,160.66 L88.51,160.73 L88.82,160.8 L89.14,160.86 L89.45,160.93 L89.77,160.99 L90.08,161.05 L90.4,161.1 L90.72,161.16 L91.05,161.21 L91.37,161.26 L91.7,161.31 L92.03,161.36 L92.36,161.41 L92.69,161.45 L93.02,161.49 L93.36,161.53 L93.7,161.57 L94.04,161.61 L94.38,161.64 L94.72,161.67 L95.06,161.7 L95.41,161.73 L95.76,161.76 L96.11,161.78 L96.46,161.8 L96.81,161.82 L97.17,161.84 L97.53,161.86 L97.88,161.87 L98.25,161.88 L98.61,161.89 L98.97,161.9 L99.34,161.9 L99.71,161.91 L100.08,161.91 L100.45,161.91 L100.82,161.9 L101.19,161.9 L101.57,161.89 L101.95,161.88 L102.33,161.87 L102.71,161.86 L103.09,161.84 L103.48,161.82 L103.87,161.8 L104.26,161.78 L104.65,161.75 L105.04,161.73 L105.43,161.7 L105.83,161.67 L106.23,161.63 L106.63,161.6 L107.03,161.56 L107.43,161.52 L107.84,161.47 L108.24,161.43 L108.65,161.38 L109.06,161.33 L109.47,161.28 L109.89,161.22 L110.3,161.17 L110.72,161.11 L111.14,161.05 L111.56,160.98 L111.98,160.92 L112.4,160.85 L112.83,160.78 L113.26,160.7 L113.68,160.63 L114.12,160.55 L114.55,160.47 L114.98,160.39 L115.42,160.3 L115.86,160.21 L116.3,160.12 L116.74,160.03 L117.18,159.93 L117.63,159.83 L118.07,159.73 L118.52,159.63 L118.97,159.53 L119.42,159.42 L119.87,159.31 L120.33,159.19 L120.79,159.08 L121.25,158.96 L121.71,158.84 L122.17,158.72 L122.63,158.59 L123.1,158.46 L123.56,158.33 L124.03,158.2 L124.5,158.06 L124.98,157.92 L125.45,157.78 L125.93,157.64 L126.4,157.49 L126.88,157.34 L127.36,157.19 L127.85,157.04 L128.33,156.88 L128.82,156.72 L129.3,156.56 L129.79,156.39 L130.29,156.22 L130.78,156.05 L131.27,155.88 L131.77,155.7 L132.27,155.52 L132.77,155.34 L133.27,155.16 L133.77,154.97 L134.28,154.78 L134.78,154.59 L135.29,154.39 L135.8,154.19 L136.31,153.99 L136.83,153.79 L137.34,153.58 L137.86,153.37 L138.38,153.16 L138.9,152.94 L139.42,152.72 L139.94,152.5 L140.47,152.28 L141,152.05 L141.52,151.82 L142.06,151.59 L142.59,151.35 L143.12,151.11 L143.66,150.87 L144.19,150.63 L144.73,150.38 L145.27,150.13 L145.82,149.88 L146.36,149.62 L146.91,149.36 L147.45,149.1 L148,148.83 L148.55,148.57 L149.11,148.29 L149.66,148.02 L150.21,147.74 L150.77,147.46 L151.33,147.18 L151.89,146.89 L152.46,146.6 L153.02,146.31 L153.59,146.01 L154.15,145.72 L154.72,145.41 L155.29,145.11 L155.87,144.8 L156.44,144.49 L157.02,144.18 L157.59,143.86 L158.17,143.54 L158.75,143.21 L159.34,142.89 L159.92,142.56 L160.51,142.22 L161.1,141.89 L161.69,141.55 L162.28,141.21 L162.87,140.86 L163.46,140.51 L164.06,140.16 L164.66,139.8 L165.26,139.44 L165.86,139.08 L166.46,138.72 L167.07,138.35 L167.67,137.98 L168.28,137.6 L168.89,137.22 L169.5,136.84 L170.11,136.46 L170.73,136.07 L171.35,135.68 L171.96,135.28 L172.58,134.88 L173.2,134.48 L173.83,134.08 L174.45,133.67 L175.08,133.26 L175.71,132.84 L176.34,132.42 L176.97,132 L177.6,131.57 L178.23,131.15 L178.87,130.71 L179.51,130.28 L180.15,129.84 L180.79,129.4 L181.43,128.95 L182.08,128.5 L182.72,128.05 L183.37,127.59 L184.02,127.13 L184.67,126.67 L185.33,126.2 L185.98,125.73 L186.64,125.26 L187.29,124.78 L187.95,124.3 L188.62,123.82 L189.28,123.33 L189.94,122.84 L190.61,122.34 L191.28,121.84 L191.95,121.34 L192.62,120.83 L193.29,120.32 L193.96,119.81 L194.64,119.29 L195.32,118.77 L196,118.25 L196.68,117.72 L197.36,117.19 L198.05,116.66 L198.73,116.12 L199.42,115.58 L200.11,115.03 L200.8,114.48 L201.49,113.93 L202.19,113.37 L202.88,112.81 L203.58,112.24 L204.28,111.68 L204.98,111.1 L205.68,110.53 L206.39,109.95 L207.09,109.37 L207.8,108.78 L208.51,108.19 L209.22,107.59 L209.93,107 L210.65,106.39 L211.36,105.79 L212.08,105.18 L212.8,104.56 L213.52,103.95 L214.24,103.33 L214.97,102.7 L215.69,102.07 L216.42,101.44 L217.15,100.8 L217.88,100.16 L218.61,99.52 L219.35,98.87 L220.08,98.22 L220.82,97.56 L221.56,96.9 L222.3,96.24 L223.04,95.57 L223.78,94.9 L224.53,94.22 L225.28,93.54 L226.02,92.86 L226.77,92.17 L227.53,91.48 L228.28,90.78 L229.04,90.08 L229.79,89.38 L230.55,88.67 L231.31,87.96 L232.07,87.24 L232.84,86.52 L233.6,85.8 L234.37,85.07 L235.14,84.34 L235.91,83.6 L236.68,82.86 L237.45,82.12 L238.22,81.37 L239,80.61 L239.78,79.86 L240.56,79.1 L241.34,78.33 L242.12,77.56 L242.91,76.79 L243.69,76.01 L244.48,75.23 L245.27,74.44 L246.06,73.65 L246.86,72.86 L247.65,72.06 L248.45,71.26 L249.24,70.45 L250.04,69.64 L250.84,68.83 L251.65,68.01 L252.45,67.18 L253.26,66.35 L254.06,65.52 L254.87,64.68 L255.68,63.84 L256.5,63 L257.31,62.15 L258.13,61.3 L258.94,60.44 L259.76,59.58 L260.58,58.71 L261.4,57.84 L262.23,56.96 L263.05,56.08 L263.88,55.2 L264.71,54.31 L265.54,53.42 L266.37,52.52 L267.2,51.62 L268.04,50.71 L268.88,49.8 L269.71,48.89 L270.55,47.97 L271.4,47.04 L272.24,46.12 L273.08,45.18 L273.93,44.25 L274.78,43.3 L275.63,42.36 L276.48,41.41 L277.33,40.45 L278.19,39.49 L279.04,38.53 L279.9,37.56 L280.76,36.59 L281.62,35.61 L282.48,34.63 L283.35,33.64 L284.21,32.65 L285.08,31.66 L285.95,30.66 L286.82,29.65 L287.69,28.64 L288.57,27.63 L289.44,26.61 L290.32,25.58 L291.2,24.56 L292.08,23.52 L292.96,22.49 L293.85,21.45 L294.73,20.4 L295.62,19.35 L296.51,18.29 L297.4,17.23 L298.29,16.17 L299.18,15.1 L300.08,14.02" fill="none" stroke="#fcc21a" stroke-width="1.8"/>
<path d="M68.63,114.7 L68.42,114.95 L68.22,115.2 L68.02,115.45 L67.83,115.7 L67.63,115.96 L67.45,116.21 L67.26,116.46 L67.08,116.72 L66.91,116.97 L66.74,117.23 L66.57,117.48 L66.4,117.74 L66.24,118 L66.08,118.25 L65.93,118.51 L65.78,118.77 L65.63,119.02 L65.49,119.28 L65.35,119.54 L65.21,119.8 L65.08,120.06 L64.95,120.31 L64.82,120.57 L64.7,120.83 L64.58,121.09 L64.46,121.35 L64.35,121.61 L64.24,121.87 L64.14,122.13 L64.03,122.38 L63.93,122.64 L63.84,122.9 L63.74,123.16 L63.65,123.42 L63.57,123.68 L63.49,123.94 L63.41,124.2 L63.33,124.46 L63.25,124.72 L63.18,124.98 L63.12,125.23 L63.05,125.49 L62.99,125.75 L62.93,126.01 L62.88,126.27 L62.83,126.53 L62.78,126.78 L62.73,127.04 L62.69,127.3 L62.65,127.55 L62.61,127.81 L62.58,128.07 L62.55,128.32 L62.52,128.58 L62.5,128.83 L62.48,129.09 L62.46,129.34 L62.44,129.6 L62.43,129.85 L62.42,130.11 L62.41,130.36 L62.41,130.61 L62.41,130.87 L62.41,131.12 L62.42,131.37 L62.42,131.62 L62.44,131.87 L62.45,132.12 L62.47,132.37 L62.48,132.62 L62.51,132.87 L62.53,133.12 L62.56,133.36 L62.59,133.61 L62.62,133.86 L62.66,134.1 L62.7,134.35 L62.74,134.59 L62.78,134.84 L62.83,135.08 L62.88,135.32 L62.94,135.56 L62.99,135.8 L63.05,136.04 L63.11,136.28 L63.17,136.52 L63.24,136.76 L63.31,137 L63.38,137.23 L63.46,137.47 L63.53,137.7 L63.61,137.94 L63.7,138.17 L63.78,138.4 L63.87,138.64 L63.96,138.87 L64.05,139.1 L64.15,139.33 L64.25,139.55 L64.35,139.78 L64.45,140.01 L64.56,140.23 L64.67,140.46 L64.78,140.68 L64.9,140.9 L65.01,141.12 L65.13,141.34 L65.26,141.56 L65.38,141.78 L65.51,142 L65.64,142.22 L65.77,142.43 L65.91,142.64 L66.05,142.86 L66.19,143.07 L66.33,143.28 L66.48,143.49 L66.62,143.7 L66.77,143.91 L66.93,144.11 L67.08,144.32 L67.24,144.52 L67.4,144.72 L67.57,144.92 L67.73,145.12 L67.9,145.32 L68.07,145.52 L68.25,145.72 L68.42,145.91 L68.6,146.11 L68.78,146.3 L68.97,146.49 L69.15,146.68 L69.34,146.87 L69.53,147.06 L69.73,147.24 L69.92,147.43 L70.12,147.61 L70.32,147.79 L70.53,147.97 L70.73,148.15 L70.94,148.33 L71.15,148.5 L71.36,148.68 L71.58,148.85 L71.8,149.02 L72.02,149.19 L72.24,149.36 L72.47,149.53 L72.7,149.69 L72.93,149.85 L73.16,150.02 L73.4,150.18 L73.63,150.34 L73.87,150.49 L74.12,150.65 L74.36,150.8 L74.61,150.96 L74.86,151.11 L75.11,151.26 L75.37,151.4 L75.62,151.55 L75.88,151.7 L76.15,151.84 L76.41,151.98 L76.68,152.12 L76.95,152.26 L77.22,152.39 L77.49,152.52 L77.77,152.66 L78.05,152.79 L78.33,152.92 L78.61,153.04 L78.9,153.17 L79.19,153.29 L79.48,153.41 L79.77,153.53 L80.07,153.65 L80.37,153.76 L80.67,153.88 L80.97,153.99 L81.27,154.1 L81.58,154.21 L81.89,154.31 L82.2,154.42 L82.52,154.52 L82.83,154.62 L83.15,154.72 L83.47,154.81 L83.8,154.91 L84.12,155 L84.45,155.09 L84.78,155.18 L85.12,155.27 L85.45,155.35 L85.79,155.43 L86.13,155.51 L86.47,155.59 L86.82,155.66 L87.16,155.74 L87.51,155.81 L87.86,155.88 L88.22,155.95 L88.58,156.01 L88.93,156.07 L89.29,156.13 L89.66,156.19 L90.02,156.25 L90.39,156.3 L90.76,156.35 L91.13,156.4 L91.51,156.45 L91.89,156.5 L92.27,156.54 L92.65,156.58 L93.03,156.62 L93.42,156.65 L93.81,156.69 L94.2,156.72 L94.59,156.74 L94.99,156.77 L95.38,156.79 L95.78,156.82 L96.19,156.84 L96.59,156.85 L97,156.87 L97.41,156.88 L97.82,156.89 L98.23,156.89 L98.65,156.9 L99.06,156.9 L99.49,156.9 L99.91,156.9 L100.33,156.89 L100.76,156.88 L101.19,156.87 L101.62,156.86 L102.06,156.85 L102.49,156.83 L102.93,156.81 L103.37,156.78 L103.81,156.76 L104.26,156.73 L104.71,156.7 L105.16,156.66 L105.61,156.63 L106.06,156.59 L106.52,156.55 L106.98,156.5 L107.44,156.45 L107.9,156.4 L108.37,156.35 L108.84,156.3 L109.31,156.24 L109.78,156.18 L110.25,156.11 L110.73,156.05 L111.21,155.98 L111.69,155.91 L112.17,155.83 L112.66,155.76 L113.15,155.67 L113.64,155.59 L114.13,155.51 L114.62,155.42 L115.12,155.33 L115.62,155.23 L116.12,155.13 L116.62,155.03 L117.13,154.93 L117.64,154.82 L118.15,154.71 L118.66,154.6 L119.17,154.49 L119.69,154.37 L120.21,154.25 L120.73,154.12 L121.25,154 L121.78,153.87 L122.31,153.73 L122.84,153.6 L123.37,153.46 L123.9,153.32 L124.44,153.17 L124.98,153.02 L125.52,152.87 L126.06,152.72 L126.61,152.56 L127.15,152.4 L127.7,152.23 L128.26,152.07 L128.81,151.9 L129.37,151.72 L129.92,151.55 L130.49,151.37 L131.05,151.18 L131.61,151 L132.18,150.81 L132.75,150.62 L133.32,150.42 L133.9,150.22 L134.47,150.02 L135.05,149.81 L135.63,149.6 L136.21,149.39 L136.8,149.18 L137.38,148.96 L137.97,148.73 L138.56,148.51 L139.16,148.28 L139.75,148.05 L140.35,147.81 L140.95,147.57 L141.55,147.33 L142.16,147.08 L142.76,146.84 L143.37,146.58 L143.98,146.33 L144.6,146.07 L145.21,145.8 L145.83,145.54 L146.45,145.27 L147.07,144.99 L147.69,144.72 L148.32,144.44 L148.95,144.15 L149.58,143.86 L150.21,143.57 L150.84,143.28 L151.48,142.98 L152.12,142.68 L152.76,142.37 L153.4,142.06 L154.05,141.75 L154.7,141.43 L155.35,141.11 L156,140.79 L156.65,140.46 L157.31,140.13 L157.97,139.8 L158.63,139.46 L159.29,139.12 L159.95,138.77 L160.62,138.42 L161.29,138.07 L161.96,137.71 L162.64,137.35 L163.31,136.99 L163.99,136.62 L164.67,136.25 L165.35,135.87 L166.03,135.49 L166.72,135.11 L167.41,134.72 L168.1,134.33 L168.79,133.93 L169.49,133.53 L170.18,133.13 L170.88,132.72 L171.58,132.31 L172.29,131.9 L172.99,131.48 L173.7,131.06 L174.41,130.63 L175.12,130.2 L175.84,129.77 L176.55,129.33 L177.27,128.89 L177.99,128.44 L178.71,127.99 L179.44,127.54 L180.17,127.08 L180.89,126.62 L181.63,126.15 L182.36,125.68 L183.09,125.2 L183.83,124.73 L184.57,124.24 L185.31,123.76 L186.06,123.27 L186.8,122.77 L187.55,122.27 L188.3,121.77 L189.05,121.26 L189.81,120.75 L190.56,120.23 L191.32,119.71 L192.08,119.19 L192.85,118.66 L193.61,118.13 L194.38,117.59 L195.15,117.05 L195.92,116.5 L196.69,115.95 L197.47,115.4 L198.25,114.84 L199.03,114.28 L199.81,113.71 L200.59,113.14 L201.38,112.57 L202.17,111.99 L202.96,111.4 L203.75,110.81 L204.54,110.22 L205.34,109.62 L206.14,109.02 L206.94,108.42 L207.74,107.81 L208.55,107.19 L209.36,106.57 L210.17,105.95 L210.98,105.32 L211.79,104.69 L212.61,104.05 L213.42,103.41 L214.24,102.76 L215.07,102.11 L215.89,101.45 L216.72,100.79 L217.55,100.13 L218.38,99.46 L219.21,98.79 L220.04,98.11 L220.88,97.43 L221.72,96.74 L222.56,96.05 L223.4,95.35 L224.25,94.65 L225.1,93.94 L225.95,93.23 L226.8,92.52 L227.65,91.8 L228.51,91.08 L229.36,90.35 L230.22,89.61 L231.09,88.87 L231.95,88.13 L232.82,87.38 L233.68,86.63 L234.55,85.87 L235.43,85.11 L236.3,84.34 L237.18,83.57 L238.06,82.79 L238.94,82.01 L239.82,81.23 L240.71,80.44 L241.59,79.64 L242.48,78.84 L243.37,78.03 L244.27,77.22 L245.16,76.41 L246.06,75.59 L246.96,74.76 L247.86,73.93 L248.77,73.1 L249.67,72.26 L250.58,71.41 L251.49,70.56 L252.4,69.71 L253.32,68.85 L254.23,67.98 L255.15,67.11 L256.07,66.24 L256.99,65.36 L257.92,64.47 L258.85,63.58 L259.77,62.69 L260.7,61.79 L261.64,60.88 L262.57,59.97 L263.51,59.05 L264.45,58.13 L265.39,57.21 L266.33,56.28 L267.28,55.34 L268.23,54.4 L269.18,53.45 L270.13,52.5 L271.08,51.55 L272.04,50.58 L273,49.62 L273.96,48.65 L274.92,47.67 L275.88,46.69 L276.85,45.7 L277.82,44.7 L278.79,43.71 L279.76,42.7 L280.73,41.69 L281.71,40.68 L282.69,39.66 L283.67,38.63 L284.65,37.6 L285.64,36.57 L286.63,35.53 L287.61,34.48 L288.61,33.43 L289.6,32.37 L290.59,31.31 L291.59,30.24 L292.59,29.17 L293.59,28.09 L294.6,27.01 L295.6,25.92 L296.61,24.82 L297.62,23.72 L298.63,22.61 L299.65,21.5 L300.66,20.38" fill="none" stroke="#f1a98f" stroke-width="1.7" stroke-dasharray="3.4,2.6"/>
<path d="M73.62,114.74 L73.47,114.96 L73.32,115.18 L73.17,115.41 L73.03,115.63 L72.88,115.85 L72.75,116.07 L72.61,116.3 L72.48,116.52 L72.35,116.74 L72.22,116.96 L72.1,117.19 L71.98,117.41 L71.86,117.63 L71.75,117.86 L71.64,118.08 L71.53,118.31 L71.42,118.53 L71.32,118.75 L71.22,118.98 L71.12,119.2 L71.03,119.43 L70.94,119.65 L70.85,119.87 L70.76,120.1 L70.68,120.32 L70.6,120.55 L70.52,120.77 L70.45,120.99 L70.38,121.22 L70.31,121.44 L70.24,121.67 L70.18,121.89 L70.12,122.11 L70.06,122.34 L70,122.56 L69.95,122.78 L69.9,123.01 L69.85,123.23 L69.8,123.45 L69.76,123.68 L69.72,123.9 L69.68,124.12 L69.65,124.34 L69.62,124.56 L69.59,124.78 L69.56,125.01 L69.53,125.23 L69.51,125.45 L69.49,125.67 L69.47,125.89 L69.46,126.11 L69.45,126.33 L69.44,126.54 L69.43,126.76 L69.43,126.98 L69.42,127.2 L69.42,127.42 L69.43,127.63 L69.43,127.85 L69.44,128.07 L69.45,128.28 L69.46,128.5 L69.48,128.71 L69.49,128.93 L69.51,129.14 L69.53,129.35 L69.56,129.57 L69.59,129.78 L69.62,129.99 L69.65,130.2 L69.68,130.41 L69.72,130.62 L69.76,130.83 L69.8,131.04 L69.84,131.25 L69.89,131.46 L69.93,131.66 L69.98,131.87 L70.04,132.08 L70.09,132.28 L70.15,132.49 L70.21,132.69 L70.27,132.89 L70.34,133.1 L70.4,133.3 L70.47,133.5 L70.54,133.7 L70.62,133.9 L70.69,134.1 L70.77,134.3 L70.85,134.49 L70.93,134.69 L71.02,134.89 L71.1,135.08 L71.19,135.28 L71.28,135.47 L71.38,135.66 L71.47,135.85 L71.57,136.04 L71.67,136.23 L71.77,136.42 L71.88,136.61 L71.99,136.8 L72.1,136.99 L72.21,137.17 L72.32,137.36 L72.44,137.54 L72.55,137.72 L72.67,137.9 L72.8,138.09 L72.92,138.27 L73.05,138.44 L73.18,138.62 L73.31,138.8 L73.44,138.98 L73.58,139.15 L73.71,139.32 L73.85,139.5 L74,139.67 L74.14,139.84 L74.29,140.01 L74.43,140.18 L74.59,140.35 L74.74,140.51 L74.89,140.68 L75.05,140.84 L75.21,141 L75.37,141.17 L75.53,141.33 L75.7,141.49 L75.87,141.64 L76.04,141.8 L76.21,141.96 L76.38,142.11 L76.56,142.26 L76.74,142.42 L76.92,142.57 L77.1,142.72 L77.28,142.87 L77.47,143.01 L77.66,143.16 L77.85,143.3 L78.04,143.45 L78.23,143.59 L78.43,143.73 L78.63,143.87 L78.83,144.01 L79.03,144.14 L79.24,144.28 L79.45,144.41 L79.66,144.55 L79.87,144.68 L80.08,144.81 L80.3,144.94 L80.51,145.06 L80.73,145.19 L80.95,145.31 L81.18,145.44 L81.4,145.56 L81.63,145.68 L81.86,145.8 L82.09,145.91 L82.33,146.03 L82.56,146.14 L82.8,146.25 L83.04,146.36 L83.28,146.47 L83.53,146.58 L83.77,146.69 L84.02,146.79 L84.27,146.89 L84.52,147 L84.78,147.1 L85.03,147.19 L85.29,147.29 L85.55,147.39 L85.81,147.48 L86.08,147.57 L86.34,147.66 L86.61,147.75 L86.88,147.84 L87.15,147.92 L87.43,148 L87.7,148.09 L87.98,148.17 L88.26,148.24 L88.54,148.32 L88.83,148.4 L89.11,148.47 L89.4,148.54 L89.69,148.61 L89.98,148.68 L90.28,148.74 L90.57,148.81 L90.87,148.87 L91.17,148.93 L91.47,148.99 L91.78,149.05 L92.08,149.1 L92.39,149.15 L92.7,149.21 L93.01,149.26 L93.32,149.3 L93.64,149.35 L93.96,149.39 L94.28,149.43 L94.6,149.47 L94.92,149.51 L95.25,149.55 L95.57,149.58 L95.9,149.61 L96.23,149.65 L96.57,149.67 L96.9,149.7 L97.24,149.72 L97.58,149.75 L97.92,149.77 L98.26,149.78 L98.61,149.8 L98.95,149.82 L99.3,149.83 L99.65,149.84 L100,149.85 L100.36,149.85 L100.72,149.86 L101.07,149.86 L101.43,149.86 L101.8,149.85 L102.16,149.85 L102.53,149.84 L102.89,149.83 L103.26,149.82 L103.64,149.81 L104.01,149.79 L104.38,149.78 L104.76,149.76 L105.14,149.73 L105.52,149.71 L105.91,149.68 L106.29,149.66 L106.68,149.62 L107.07,149.59 L107.46,149.56 L107.85,149.52 L108.25,149.48 L108.64,149.44 L109.04,149.39 L109.44,149.35 L109.84,149.3 L110.25,149.24 L110.65,149.19 L111.06,149.13 L111.47,149.08 L111.88,149.02 L112.3,148.95 L112.71,148.89 L113.13,148.82 L113.55,148.75 L113.97,148.68 L114.39,148.6 L114.82,148.52 L115.25,148.44 L115.68,148.36 L116.11,148.28 L116.54,148.19 L116.97,148.1 L117.41,148.01 L117.85,147.91 L118.29,147.81 L118.73,147.71 L119.17,147.61 L119.62,147.51 L120.07,147.4 L120.52,147.29 L120.97,147.18 L121.42,147.06 L121.88,146.94 L122.33,146.82 L122.79,146.7 L123.25,146.58 L123.72,146.45 L124.18,146.32 L124.65,146.18 L125.12,146.05 L125.59,145.91 L126.06,145.77 L126.53,145.62 L127.01,145.48 L127.48,145.33 L127.96,145.18 L128.45,145.02 L128.93,144.87 L129.41,144.71 L129.9,144.54 L130.39,144.38 L130.88,144.21 L131.37,144.04 L131.87,143.86 L132.36,143.69 L132.86,143.51 L133.36,143.33 L133.86,143.14 L134.37,142.95 L134.87,142.76 L135.38,142.57 L135.89,142.37 L136.4,142.17 L136.91,141.97 L137.43,141.77 L137.94,141.56 L138.46,141.35 L138.98,141.14 L139.5,140.92 L140.03,140.7 L140.55,140.48 L141.08,140.25 L141.61,140.03 L142.14,139.8 L142.67,139.56 L143.21,139.32 L143.75,139.08 L144.28,138.84 L144.83,138.6 L145.37,138.35 L145.91,138.1 L146.46,137.84 L147.01,137.58 L147.56,137.32 L148.11,137.06 L148.66,136.79 L149.22,136.52 L149.77,136.25 L150.33,135.97 L150.89,135.69 L151.45,135.41 L152.02,135.12 L152.58,134.84 L153.15,134.54 L153.72,134.25 L154.29,133.95 L154.87,133.65 L155.44,133.35 L156.02,133.04 L156.6,132.73 L157.18,132.41 L157.76,132.1 L158.35,131.78 L158.93,131.45 L159.52,131.13 L160.11,130.8 L160.7,130.46 L161.3,130.13 L161.89,129.79 L162.49,129.44 L163.09,129.1 L163.69,128.75 L164.29,128.4 L164.89,128.04 L165.5,127.68 L166.11,127.32 L166.72,126.95 L167.33,126.58 L167.94,126.21 L168.56,125.83 L169.18,125.45 L169.79,125.07 L170.42,124.68 L171.04,124.29 L171.66,123.9 L172.29,123.5 L172.92,123.1 L173.55,122.7 L174.18,122.29 L174.81,121.88 L175.45,121.47 L176.08,121.05 L176.72,120.63 L177.36,120.21 L178.01,119.78 L178.65,119.35 L179.3,118.91 L179.94,118.48 L180.59,118.03 L181.24,117.59 L181.9,117.14 L182.55,116.69 L183.21,116.23 L183.87,115.77 L184.53,115.31 L185.19,114.84 L185.85,114.37 L186.52,113.9 L187.19,113.42 L187.86,112.94 L188.53,112.46 L189.2,111.97 L189.88,111.47 L190.55,110.98 L191.23,110.48 L191.91,109.98 L192.59,109.47 L193.28,108.96 L193.96,108.45 L194.65,107.93 L195.34,107.41 L196.03,106.88 L196.72,106.35 L197.42,105.82 L198.11,105.28 L198.81,104.74 L199.51,104.2 L200.21,103.65 L200.92,103.1 L201.62,102.54 L202.33,101.98 L203.04,101.42 L203.75,100.85 L204.46,100.28 L205.18,99.71 L205.89,99.13 L206.61,98.55 L207.33,97.96 L208.05,97.37 L208.77,96.77 L209.5,96.18 L210.23,95.57 L210.95,94.97 L211.68,94.36 L212.42,93.74 L213.15,93.13 L213.89,92.51 L214.62,91.88 L215.36,91.25 L216.1,90.62 L216.85,89.98 L217.59,89.34 L218.34,88.69 L219.08,88.04 L219.83,87.39 L220.59,86.73 L221.34,86.07 L222.09,85.4 L222.85,84.73 L223.61,84.06 L224.37,83.38 L225.13,82.7 L225.9,82.01 L226.66,81.32 L227.43,80.63 L228.2,79.93 L228.97,79.23 L229.74,78.52 L230.52,77.81 L231.3,77.1 L232.07,76.38 L232.85,75.65 L233.64,74.92 L234.42,74.19 L235.2,73.46 L235.99,72.72 L236.78,71.97 L237.57,71.22 L238.36,70.47 L239.16,69.71 L239.95,68.95 L240.75,68.19 L241.55,67.42 L242.35,66.64 L243.16,65.86 L243.96,65.08 L244.77,64.29 L245.57,63.5 L246.38,62.71 L247.2,61.91 L248.01,61.1 L248.83,60.29 L249.64,59.48 L250.46,58.66 L251.28,57.84 L252.11,57.01 L252.93,56.18 L253.76,55.35 L254.58,54.51 L255.41,53.66 L256.24,52.82 L257.08,51.96 L257.91,51.11 L258.75,50.24 L259.59,49.38 L260.43,48.51 L261.27,47.63 L262.11,46.75 L262.96,45.87 L263.8,44.98 L264.65,44.09 L265.5,43.19 L266.36,42.28 L267.21,41.38 L268.07,40.47 L268.92,39.55 L269.78,38.63 L270.65,37.7 L271.51,36.78 L272.37,35.84 L273.24,34.9 L274.11,33.96 L274.98,33.01 L275.85,32.06 L276.72,31.1 L277.6,30.14 L278.48,29.17 L279.35,28.2 L280.23,27.22 L281.12,26.24 L282,25.26 L282.89,24.27 L283.77,23.27 L284.66,22.27 L285.55,21.27 L286.45,20.26 L287.34,19.24 L288.24,18.23 L289.14,17.2 L290.04,16.17 L290.94,15.14 L291.84,14.1 L292.75,13.06 L293.65,12.01 L294.56,10.96 L295.47,9.9 L296.38,8.84 L297.3,7.78 L298.21,6.7 L299.13,5.63 L300.05,4.55" fill="none" stroke="#fddc80" stroke-width="1.7" stroke-dasharray="3.4,2.6"/>
</g>
<path d="M136.5,97.8a2.2,2.2 0 1,0 4.4,0a2.2,2.2 0 1,0 -4.4,0" fill="none" stroke="#3434ff" stroke-width="0.9"/>
<path d="M138.7,95.89L141.01,99.93L136.39,99.93Z" fill="none" stroke="#e86a3a" stroke-width="0.9"/>
<path d="M136.58,95.48h4.23v4.23h-4.23Z" fill="none" stroke="#fcc830" stroke-width="0.9"/>
<path d="M61.08,180v-2.6M61.08,13.3v2.6" stroke="#707070" stroke-width="0.7"/>
<path d="M99.74,180v-2.6M99.74,13.3v2.6" stroke="#707070" stroke-width="0.7"/>
<path d="M138.4,180v-2.6M138.4,13.3v2.6" stroke="#707070" stroke-width="0.7"/>
<path d="M177.06,180v-2.6M177.06,13.3v2.6" stroke="#707070" stroke-width="0.7"/>
<path d="M215.72,180v-2.6M215.72,13.3v2.6" stroke="#707070" stroke-width="0.7"/>
<path d="M254.38,180v-2.6M254.38,13.3v2.6" stroke="#707070" stroke-width="0.7"/>
<path d="M293.04,180v-2.6M293.04,13.3v2.6" stroke="#707070" stroke-width="0.7"/>
<path d="M51.41,180v-1.5M51.41,13.3v1.5" stroke="#707070" stroke-width="0.7"/>
<path d="M70.75,180v-1.5M70.75,13.3v1.5" stroke="#707070" stroke-width="0.7"/>
<path d="M80.41,180v-1.5M80.41,13.3v1.5" stroke="#707070" stroke-width="0.7"/>
<path d="M90.08,180v-1.5M90.08,13.3v1.5" stroke="#707070" stroke-width="0.7"/>
<path d="M109.41,180v-1.5M109.41,13.3v1.5" stroke="#707070" stroke-width="0.7"/>
<path d="M119.07,180v-1.5M119.07,13.3v1.5" stroke="#707070" stroke-width="0.7"/>
<path d="M128.74,180v-1.5M128.74,13.3v1.5" stroke="#707070" stroke-width="0.7"/>
<path d="M148.06,180v-1.5M148.06,13.3v1.5" stroke="#707070" stroke-width="0.7"/>
<path d="M157.73,180v-1.5M157.73,13.3v1.5" stroke="#707070" stroke-width="0.7"/>
<path d="M167.4,180v-1.5M167.4,13.3v1.5" stroke="#707070" stroke-width="0.7"/>
<path d="M186.73,180v-1.5M186.73,13.3v1.5" stroke="#707070" stroke-width="0.7"/>
<path d="M196.39,180v-1.5M196.39,13.3v1.5" stroke="#707070" stroke-width="0.7"/>
<path d="M206.06,180v-1.5M206.06,13.3v1.5" stroke="#707070" stroke-width="0.7"/>
<path d="M225.39,180v-1.5M225.39,13.3v1.5" stroke="#707070" stroke-width="0.7"/>
<path d="M235.05,180v-1.5M235.05,13.3v1.5" stroke="#707070" stroke-width="0.7"/>
<path d="M244.72,180v-1.5M244.72,13.3v1.5" stroke="#707070" stroke-width="0.7"/>
<path d="M264.05,180v-1.5M264.05,13.3v1.5" stroke="#707070" stroke-width="0.7"/>
<path d="M273.71,180v-1.5M273.71,13.3v1.5" stroke="#707070" stroke-width="0.7"/>
<path d="M283.38,180v-1.5M283.38,13.3v1.5" stroke="#707070" stroke-width="0.7"/>
<path d="M42.7,180.02h2.6M293,180.02h-2.6" stroke="#707070" stroke-width="0.7"/>
<path d="M42.7,152.18h2.6M293,152.18h-2.6" stroke="#707070" stroke-width="0.7"/>
<path d="M42.7,124.34h2.6M293,124.34h-2.6" stroke="#707070" stroke-width="0.7"/>
<path d="M42.7,96.5h2.6M293,96.5h-2.6" stroke="#707070" stroke-width="0.7"/>
<path d="M42.7,68.66h2.6M293,68.66h-2.6" stroke="#707070" stroke-width="0.7"/>
<path d="M42.7,40.82h2.6M293,40.82h-2.6" stroke="#707070" stroke-width="0.7"/>
<path d="M42.7,12.98h2.6M293,12.98h-2.6" stroke="#707070" stroke-width="0.7"/>
<path d="M42.7,173.06h1.5M293,173.06h-1.5" stroke="#707070" stroke-width="0.7"/>
<path d="M42.7,166.1h1.5M293,166.1h-1.5" stroke="#707070" stroke-width="0.7"/>
<path d="M42.7,159.14h1.5M293,159.14h-1.5" stroke="#707070" stroke-width="0.7"/>
<path d="M42.7,145.22h1.5M293,145.22h-1.5" stroke="#707070" stroke-width="0.7"/>
<path d="M42.7,138.26h1.5M293,138.26h-1.5" stroke="#707070" stroke-width="0.7"/>
<path d="M42.7,131.3h1.5M293,131.3h-1.5" stroke="#707070" stroke-width="0.7"/>
<path d="M42.7,117.38h1.5M293,117.38h-1.5" stroke="#707070" stroke-width="0.7"/>
<path d="M42.7,110.42h1.5M293,110.42h-1.5" stroke="#707070" stroke-width="0.7"/>
<path d="M42.7,103.46h1.5M293,103.46h-1.5" stroke="#707070" stroke-width="0.7"/>
<path d="M42.7,89.54h1.5M293,89.54h-1.5" stroke="#707070" stroke-width="0.7"/>
<path d="M42.7,82.58h1.5M293,82.58h-1.5" stroke="#707070" stroke-width="0.7"/>
<path d="M42.7,75.62h1.5M293,75.62h-1.5" stroke="#707070" stroke-width="0.7"/>
<path d="M42.7,61.7h1.5M293,61.7h-1.5" stroke="#707070" stroke-width="0.7"/>
<path d="M42.7,54.74h1.5M293,54.74h-1.5" stroke="#707070" stroke-width="0.7"/>
<path d="M42.7,47.78h1.5M293,47.78h-1.5" stroke="#707070" stroke-width="0.7"/>
<path d="M42.7,33.86h1.5M293,33.86h-1.5" stroke="#707070" stroke-width="0.7"/>
<path d="M42.7,26.9h1.5M293,26.9h-1.5" stroke="#707070" stroke-width="0.7"/>
<path d="M42.7,19.94h1.5M293,19.94h-1.5" stroke="#707070" stroke-width="0.7"/>
<rect x="42.7" y="13.3" width="250.3" height="166.7" fill="none" stroke="#858585" stroke-width="1.0"/>
<text transform="translate(61.08,191.6) scale(0.92,1)" font-size="12.4" text-anchor="middle" font-family="Liberation Serif" letter-spacing="-0.2" stroke="#000" stroke-width="0.18">−0.4</text>
<text transform="translate(99.74,191.6) scale(0.92,1)" font-size="12.4" text-anchor="middle" font-family="Liberation Serif" letter-spacing="-0.2" stroke="#000" stroke-width="0.18">−0.2</text>
<text transform="translate(138.4,191.6) scale(0.92,1)" font-size="12.4" text-anchor="middle" font-family="Liberation Serif" letter-spacing="-0.2" stroke="#000" stroke-width="0.18">0.0</text>
<text transform="translate(177.06,191.6) scale(0.92,1)" font-size="12.4" text-anchor="middle" font-family="Liberation Serif" letter-spacing="-0.2" stroke="#000" stroke-width="0.18">0.2</text>
<text transform="translate(215.72,191.6) scale(0.92,1)" font-size="12.4" text-anchor="middle" font-family="Liberation Serif" letter-spacing="-0.2" stroke="#000" stroke-width="0.18">0.4</text>
<text transform="translate(254.38,191.6) scale(0.92,1)" font-size="12.4" text-anchor="middle" font-family="Liberation Serif" letter-spacing="-0.2" stroke="#000" stroke-width="0.18">0.6</text>
<text transform="translate(293.04,191.6) scale(0.92,1)" font-size="12.4" text-anchor="middle" font-family="Liberation Serif" letter-spacing="-0.2" stroke="#000" stroke-width="0.18">0.8</text>
<text transform="translate(39.9,183.72) scale(0.92,1)" font-size="12.4" text-anchor="end" font-family="Liberation Serif" letter-spacing="-0.2" stroke="#000" stroke-width="0.18">−0.6</text>
<text transform="translate(39.9,155.88) scale(0.92,1)" font-size="12.4" text-anchor="end" font-family="Liberation Serif" letter-spacing="-0.2" stroke="#000" stroke-width="0.18">−0.4</text>
<text transform="translate(39.9,128.04) scale(0.92,1)" font-size="12.4" text-anchor="end" font-family="Liberation Serif" letter-spacing="-0.2" stroke="#000" stroke-width="0.18">−0.2</text>
<text transform="translate(39.9,100.2) scale(0.92,1)" font-size="12.4" text-anchor="end" font-family="Liberation Serif" letter-spacing="-0.2" stroke="#000" stroke-width="0.18">0.0</text>
<text transform="translate(39.9,72.36) scale(0.92,1)" font-size="12.4" text-anchor="end" font-family="Liberation Serif" letter-spacing="-0.2" stroke="#000" stroke-width="0.18">0.2</text>
<text transform="translate(39.9,44.52) scale(0.92,1)" font-size="12.4" text-anchor="end" font-family="Liberation Serif" letter-spacing="-0.2" stroke="#000" stroke-width="0.18">0.4</text>
<text transform="translate(39.9,16.68) scale(0.92,1)" font-size="12.4" text-anchor="end" font-family="Liberation Serif" letter-spacing="-0.2" stroke="#000" stroke-width="0.18">0.6</text>
<rect x="47.3" y="17.3" width="115.7" height="15.8" fill="#ededed"/>
<rect x="47.3" y="33.1" width="115.7" height="46.1" fill="#fff"/>
<rect x="47.3" y="17.3" width="115.7" height="61.9" fill="none" stroke="#1a1a1a" stroke-width="1.1"/>
<path d="M47.3,33.1H163" stroke="#2a2a2a" stroke-width="1"/>
<path d="M47.3,49H163" stroke="#2a2a2a" stroke-width="1"/>
<path d="M47.3,64.2H163" stroke="#2a2a2a" stroke-width="1"/>
<path d="M79.6,17.3V79.2" stroke="#1a1a1a" stroke-width="1.1"/>
<path d="M124.3,17.3V79.2" stroke="#1a1a1a" stroke-width="1.1"/>
<text x="50.6" y="27" font-size="8.6" font-family="Liberation Serif" font-style="italic" stroke="#000" stroke-width="0.25">R<tspan font-size="6" dy="1.8">A</tspan><tspan dy="-1.8">/R</tspan><tspan font-size="6" dy="1.8">B</tspan></text>
<text x="84.6" y="27" font-size="8.2" font-family="Liberation Serif" textLength="34.2" lengthAdjust="spacingAndGlyphs" stroke="#000" stroke-width="0.25">Numerics</text>
<text x="131" y="27" font-size="8.2" font-family="Liberation Serif" textLength="25.5" lengthAdjust="spacingAndGlyphs" stroke="#000" stroke-width="0.25">Theory</text>
<text x="63.45" y="44" font-size="7.6" text-anchor="middle" font-family="Liberation Serif" letter-spacing="0.2" font-weight="bold">2</text>
<text x="63.45" y="58.9" font-size="7.6" text-anchor="middle" font-family="Liberation Serif" letter-spacing="0.2" font-weight="bold">10</text>
<text x="63.45" y="74.3" font-size="7.6" text-anchor="middle" font-family="Liberation Serif" letter-spacing="0.2" font-weight="bold">25</text>
<path d="M100.5,40.7a2.4,2.4 0 1,0 4.8,0a2.4,2.4 0 1,0 -4.8,0" fill="none" stroke="#1414f5" stroke-width="1.1"/>
<path d="M102.9,54.07L105.43,58.5L100.37,58.5Z" fill="none" stroke="#e0561a" stroke-width="1.1"/>
<path d="M100.6,69.7h4.6v4.6h-4.6Z" fill="none" stroke="#fcc21a" stroke-width="1.1"/>
<path d="M134,40.9H152.1" stroke="#1414f5" stroke-width="1.9"/>
<path d="M134,56.2H152.1" stroke="#e0561a" stroke-width="1.9"/>
<path d="M134,71.8H152.1" stroke="#fcc21a" stroke-width="1.9"/>
<text x="158.4" y="203.2" font-size="15.5" text-anchor="middle" font-family="Liberation Serif" font-style="italic">δ</text>
<path d="M155.8,190.3H161.8" stroke="#000" stroke-width="0.9"/>
<g transform="translate(23.8,82.2) rotate(-90)"><text x="0" y="0" font-size="15" text-anchor="middle" font-family="Liberation Serif" font-style="italic">W</text><path d="M-2.6,-11.2H2.8" stroke="#000" stroke-width="0.9"/></g>
<text x="0" y="14" font-size="17" text-anchor="start" font-family="Liberation Serif" letter-spacing="0" font-style="italic">a)</text>
<g clip-path="url(#cb)">
<path d="M359.5,103.5H609.5" stroke="#d4d4d4" stroke-width="1"/>
<path d="M433.78,145.62a2.5,2.5 0 1,0 5,0a2.5,2.5 0 1,0 -5,0M448.02,153.5a2.5,2.5 0 1,0 5,0a2.5,2.5 0 1,0 -5,0M456.64,157.63a2.5,2.5 0 1,0 5,0a2.5,2.5 0 1,0 -5,0M463.5,160.48a2.5,2.5 0 1,0 5,0a2.5,2.5 0 1,0 -5,0M469.39,162.58a2.5,2.5 0 1,0 5,0a2.5,2.5 0 1,0 -5,0M474.65,164.16a2.5,2.5 0 1,0 5,0a2.5,2.5 0 1,0 -5,0M479.44,165.33a2.5,2.5 0 1,0 5,0a2.5,2.5 0 1,0 -5,0M483.88,166.18a2.5,2.5 0 1,0 5,0a2.5,2.5 0 1,0 -5,0M488.04,166.76a2.5,2.5 0 1,0 5,0a2.5,2.5 0 1,0 -5,0M491.96,167.1a2.5,2.5 0 1,0 5,0a2.5,2.5 0 1,0 -5,0M495.69,167.23a2.5,2.5 0 1,0 5,0a2.5,2.5 0 1,0 -5,0M499.25,167.17a2.5,2.5 0 1,0 5,0a2.5,2.5 0 1,0 -5,0M502.67,166.94a2.5,2.5 0 1,0 5,0a2.5,2.5 0 1,0 -5,0M505.95,166.56a2.5,2.5 0 1,0 5,0a2.5,2.5 0 1,0 -5,0M509.12,166.04a2.5,2.5 0 1,0 5,0a2.5,2.5 0 1,0 -5,0M512.18,165.38a2.5,2.5 0 1,0 5,0a2.5,2.5 0 1,0 -5,0M515.15,164.59a2.5,2.5 0 1,0 5,0a2.5,2.5 0 1,0 -5,0M518.04,163.69a2.5,2.5 0 1,0 5,0a2.5,2.5 0 1,0 -5,0M520.84,162.67a2.5,2.5 0 1,0 5,0a2.5,2.5 0 1,0 -5,0M523.58,161.55a2.5,2.5 0 1,0 5,0a2.5,2.5 0 1,0 -5,0M526.24,160.32a2.5,2.5 0 1,0 5,0a2.5,2.5 0 1,0 -5,0M528.85,159a2.5,2.5 0 1,0 5,0a2.5,2.5 0 1,0 -5,0M531.4,157.59a2.5,2.5 0 1,0 5,0a2.5,2.5 0 1,0 -5,0M533.89,156.09a2.5,2.5 0 1,0 5,0a2.5,2.5 0 1,0 -5,0M536.33,154.5a2.5,2.5 0 1,0 5,0a2.5,2.5 0 1,0 -5,0M538.72,152.83a2.5,2.5 0 1,0 5,0a2.5,2.5 0 1,0 -5,0M541.07,151.08a2.5,2.5 0 1,0 5,0a2.5,2.5 0 1,0 -5,0M543.38,149.26a2.5,2.5 0 1,0 5,0a2.5,2.5 0 1,0 -5,0M545.64,147.36a2.5,2.5 0 1,0 5,0a2.5,2.5 0 1,0 -5,0M547.87,145.38a2.5,2.5 0 1,0 5,0a2.5,2.5 0 1,0 -5,0M550.06,143.34a2.5,2.5 0 1,0 5,0a2.5,2.5 0 1,0 -5,0M552.22,141.23a2.5,2.5 0 1,0 5,0a2.5,2.5 0 1,0 -5,0M554.34,139.05a2.5,2.5 0 1,0 5,0a2.5,2.5 0 1,0 -5,0M556.44,136.8a2.5,2.5 0 1,0 5,0a2.5,2.5 0 1,0 -5,0M558.5,134.5a2.5,2.5 0 1,0 5,0a2.5,2.5 0 1,0 -5,0M560.53,132.12a2.5,2.5 0 1,0 5,0a2.5,2.5 0 1,0 -5,0M562.54,129.69a2.5,2.5 0 1,0 5,0a2.5,2.5 0 1,0 -5,0M564.52,127.2a2.5,2.5 0 1,0 5,0a2.5,2.5 0 1,0 -5,0M566.48,124.65a2.5,2.5 0 1,0 5,0a2.5,2.5 0 1,0 -5,0M568.41,122.05a2.5,2.5 0 1,0 5,0a2.5,2.5 0 1,0 -5,0M570.31,119.38a2.5,2.5 0 1,0 5,0a2.5,2.5 0 1,0 -5,0M572.2,116.66a2.5,2.5 0 1,0 5,0a2.5,2.5 0 1,0 -5,0M574.06,113.89a2.5,2.5 0 1,0 5,0a2.5,2.5 0 1,0 -5,0M575.9,111.07a2.5,2.5 0 1,0 5,0a2.5,2.5 0 1,0 -5,0M577.73,108.19a2.5,2.5 0 1,0 5,0a2.5,2.5 0 1,0 -5,0M579.53,105.26a2.5,2.5 0 1,0 5,0a2.5,2.5 0 1,0 -5,0M581.31,102.28a2.5,2.5 0 1,0 5,0a2.5,2.5 0 1,0 -5,0M583.08,99.25a2.5,2.5 0 1,0 5,0a2.5,2.5 0 1,0 -5,0M584.82,96.17a2.5,2.5 0 1,0 5,0a2.5,2.5 0 1,0 -5,0M586.55,93.05a2.5,2.5 0 1,0 5,0a2.5,2.5 0 1,0 -5,0M588.27,89.87a2.5,2.5 0 1,0 5,0a2.5,2.5 0 1,0 -5,0M589.96,86.65a2.5,2.5 0 1,0 5,0a2.5,2.5 0 1,0 -5,0M591.64,83.38a2.5,2.5 0 1,0 5,0a2.5,2.5 0 1,0 -5,0M593.31,80.07a2.5,2.5 0 1,0 5,0a2.5,2.5 0 1,0 -5,0M594.96,76.71a2.5,2.5 0 1,0 5,0a2.5,2.5 0 1,0 -5,0M596.6,73.3a2.5,2.5 0 1,0 5,0a2.5,2.5 0 1,0 -5,0M598.22,69.86a2.5,2.5 0 1,0 5,0a2.5,2.5 0 1,0 -5,0M599.83,66.37a2.5,2.5 0 1,0 5,0a2.5,2.5 0 1,0 -5,0M601.42,62.83a2.5,2.5 0 1,0 5,0a2.5,2.5 0 1,0 -5,0M603,59.26a2.5,2.5 0 1,0 5,0a2.5,2.5 0 1,0 -5,0M604.57,55.64a2.5,2.5 0 1,0 5,0a2.5,2.5 0 1,0 -5,0M606.13,51.98a2.5,2.5 0 1,0 5,0a2.5,2.5 0 1,0 -5,0M607.68,48.28a2.5,2.5 0 1,0 5,0a2.5,2.5 0 1,0 -5,0M609.21,44.54a2.5,2.5 0 1,0 5,0a2.5,2.5 0 1,0 -5,0M610.73,40.75a2.5,2.5 0 1,0 5,0a2.5,2.5 0 1,0 -5,0M612.24,36.93a2.5,2.5 0 1,0 5,0a2.5,2.5 0 1,0 -5,0" fill="none" stroke="#3434ff" stroke-width="0.85"/>
<path d="M431.96,141.8L434.16,145.65L429.76,145.65ZM448.61,151.19L450.81,155.04L446.41,155.04ZM458.35,155.79L460.55,159.64L456.15,159.64ZM466.08,158.83L468.28,162.68L463.88,162.68ZM472.73,160.94L474.93,164.79L470.53,164.79ZM478.66,162.39L480.86,166.24L476.46,166.24ZM484.08,163.32L486.28,167.17L481.88,167.17ZM489.1,163.83L491.3,167.68L486.9,167.68ZM493.81,163.98L496.01,167.83L491.61,167.83ZM498.26,163.81L500.46,167.66L496.06,167.66ZM502.48,163.36L504.68,167.21L500.28,167.21ZM506.52,162.66L508.72,166.51L504.32,166.51ZM510.38,161.72L512.58,165.57L508.18,165.57ZM514.1,160.56L516.3,164.41L511.9,164.41ZM517.68,159.21L519.88,163.06L515.48,163.06ZM521.15,157.67L523.35,161.52L518.95,161.52ZM524.5,155.95L526.7,159.8L522.3,159.8ZM527.75,154.06L529.95,157.91L525.55,157.91ZM530.91,152.02L533.11,155.87L528.71,155.87ZM533.98,149.84L536.18,153.69L531.78,153.69ZM536.98,147.5L539.18,151.35L534.78,151.35ZM539.9,145.04L542.1,148.89L537.7,148.89ZM542.75,142.44L544.95,146.29L540.55,146.29ZM545.54,139.71L547.74,143.56L543.34,143.56ZM548.27,136.87L550.47,140.72L546.07,140.72ZM550.94,133.9L553.14,137.75L548.74,137.75ZM553.56,130.82L555.76,134.67L551.36,134.67ZM556.14,127.63L558.34,131.48L553.94,131.48ZM558.66,124.34L560.86,128.19L556.46,128.19ZM561.15,120.93L563.35,124.78L558.95,124.78ZM563.59,117.43L565.79,121.28L561.39,121.28ZM565.99,113.82L568.19,117.67L563.79,117.67ZM568.35,110.12L570.55,113.97L566.15,113.97ZM570.68,106.32L572.88,110.17L568.48,110.17ZM572.97,102.43L575.17,106.28L570.77,106.28ZM575.23,98.45L577.43,102.3L573.03,102.3ZM577.46,94.38L579.66,98.23L575.26,98.23ZM579.66,90.21L581.86,94.06L577.46,94.06ZM581.84,85.97L584.04,89.82L579.64,89.82ZM583.98,81.63L586.18,85.48L581.78,85.48ZM586.1,77.22L588.3,81.07L583.9,81.07ZM588.19,72.72L590.39,76.57L585.99,76.57ZM590.26,68.14L592.46,71.99L588.06,71.99ZM592.3,63.48L594.5,67.33L590.1,67.33ZM594.32,58.74L596.52,62.59L592.12,62.59ZM596.32,53.92L598.52,57.77L594.12,57.77ZM598.3,49.03L600.5,52.88L596.1,52.88ZM600.26,44.06L602.46,47.91L598.06,47.91ZM602.19,39.02L604.39,42.87L599.99,42.87ZM604.11,33.9L606.31,37.75L601.91,37.75ZM606.01,28.72L608.21,32.57L603.81,32.57ZM607.89,23.46L610.09,27.31L605.69,27.31ZM609.76,18.13L611.96,21.98L607.56,21.98ZM611.6,12.73L613.8,16.58L609.4,16.58ZM613.43,7.26L615.63,11.11L611.23,11.11Z" fill="none" stroke="#e86a3a" stroke-width="0.85"/>
<path d="M427.86,139.08h3.68v3.68h-3.68ZM442.19,147.81h3.68v3.68h-3.68ZM450.72,152.38h3.68v3.68h-3.68ZM457.5,155.56h3.68v3.68h-3.68ZM463.32,157.91h3.68v3.68h-3.68ZM468.5,159.67h3.68v3.68h-3.68ZM473.24,160.98h3.68v3.68h-3.68ZM477.63,161.92h3.68v3.68h-3.68ZM481.73,162.54h3.68v3.68h-3.68ZM485.61,162.89h3.68v3.68h-3.68ZM489.3,162.98h3.68v3.68h-3.68ZM492.82,162.85h3.68v3.68h-3.68ZM496.2,162.52h3.68v3.68h-3.68ZM499.44,161.99h3.68v3.68h-3.68ZM502.57,161.3h3.68v3.68h-3.68ZM505.6,160.43h3.68v3.68h-3.68ZM508.54,159.41h3.68v3.68h-3.68ZM511.39,158.24h3.68v3.68h-3.68ZM514.16,156.93h3.68v3.68h-3.68ZM516.86,155.49h3.68v3.68h-3.68ZM519.49,153.93h3.68v3.68h-3.68ZM522.06,152.24h3.68v3.68h-3.68ZM524.57,150.43h3.68v3.68h-3.68ZM527.03,148.51h3.68v3.68h-3.68ZM529.44,146.48h3.68v3.68h-3.68ZM531.8,144.34h3.68v3.68h-3.68ZM534.11,142.1h3.68v3.68h-3.68ZM536.38,139.76h3.68v3.68h-3.68ZM538.61,137.32h3.68v3.68h-3.68ZM540.8,134.79h3.68v3.68h-3.68ZM542.96,132.17h3.68v3.68h-3.68ZM545.08,129.46h3.68v3.68h-3.68ZM547.17,126.66h3.68v3.68h-3.68ZM549.23,123.77h3.68v3.68h-3.68ZM551.26,120.8h3.68v3.68h-3.68ZM553.26,117.75h3.68v3.68h-3.68ZM555.24,114.61h3.68v3.68h-3.68ZM557.18,111.4h3.68v3.68h-3.68ZM559.1,108.11h3.68v3.68h-3.68ZM561,104.74h3.68v3.68h-3.68ZM562.88,101.29h3.68v3.68h-3.68ZM564.73,97.78h3.68v3.68h-3.68ZM566.56,94.18h3.68v3.68h-3.68ZM568.37,90.52h3.68v3.68h-3.68ZM570.16,86.79h3.68v3.68h-3.68ZM571.94,82.98h3.68v3.68h-3.68ZM573.69,79.11h3.68v3.68h-3.68ZM575.42,75.17h3.68v3.68h-3.68ZM577.14,71.17h3.68v3.68h-3.68ZM578.84,67.09h3.68v3.68h-3.68ZM580.52,62.96h3.68v3.68h-3.68ZM582.19,58.75h3.68v3.68h-3.68ZM583.84,54.49h3.68v3.68h-3.68ZM585.48,50.16h3.68v3.68h-3.68ZM587.1,45.77h3.68v3.68h-3.68ZM588.71,41.32h3.68v3.68h-3.68ZM590.3,36.8h3.68v3.68h-3.68ZM591.88,32.23h3.68v3.68h-3.68ZM593.45,27.6h3.68v3.68h-3.68ZM595.01,22.91h3.68v3.68h-3.68ZM596.55,18.16h3.68v3.68h-3.68ZM598.08,13.35h3.68v3.68h-3.68ZM599.6,8.49h3.68v3.68h-3.68Z" fill="none" stroke="#fcc830" stroke-width="0.85"/>
<path d="M359.5,103 L359.95,103.03 L360.39,103.07 L360.84,103.13 L361.29,103.21 L361.74,103.29 L362.18,103.38 L362.63,103.47 L363.08,103.58 L363.53,103.69 L363.97,103.8 L364.42,103.92 L364.87,104.05 L365.31,104.18 L365.76,104.32 L366.21,104.46 L366.66,104.61 L367.1,104.75 L367.55,104.91 L368,105.07 L368.44,105.23 L368.89,105.39 L369.34,105.56 L369.79,105.73 L370.23,105.91 L370.68,106.09 L371.13,106.27 L371.58,106.46 L372.02,106.64 L372.47,106.83 L372.92,107.03 L373.36,107.23 L373.81,107.42 L374.26,107.63 L374.71,107.83 L375.15,108.04 L375.6,108.25 L376.05,108.46 L376.5,108.67 L376.94,108.89 L377.39,109.11 L377.84,109.33 L378.28,109.55 L378.73,109.77 L379.18,110 L379.63,110.23 L380.07,110.46 L380.52,110.69 L380.97,110.93 L381.42,111.16 L381.86,111.4 L382.31,111.64 L382.76,111.88 L383.2,112.13 L383.65,112.37 L384.1,112.62 L384.55,112.86 L384.99,113.11 L385.44,113.36 L385.89,113.62 L386.33,113.87 L386.78,114.12 L387.23,114.38 L387.68,114.64 L388.12,114.9 L388.57,115.16 L389.02,115.42 L389.47,115.68 L389.91,115.94 L390.36,116.21 L390.81,116.47 L391.25,116.74 L391.7,117.01 L392.15,117.28 L392.6,117.55 L393.04,117.82 L393.49,118.09 L393.94,118.36 L394.39,118.64 L394.83,118.91 L395.28,119.18 L395.73,119.46 L396.17,119.74 L396.62,120.02 L397.07,120.29 L397.52,120.57 L397.96,120.85 L398.41,121.13 L398.86,121.41 L399.3,121.7 L399.75,121.98 L400.2,122.26 L400.65,122.54 L401.09,122.83 L401.54,123.11 L401.99,123.4 L402.44,123.68 L402.88,123.97 L403.33,124.25 L403.78,124.54 L404.22,124.83 L404.67,125.11 L405.12,125.4 L405.57,125.69 L406.01,125.98 L406.46,126.27 L406.91,126.55 L407.36,126.84 L407.8,127.13 L408.25,127.42 L408.7,127.71 L409.14,128 L409.59,128.29 L410.04,128.58 L410.49,128.87 L410.93,129.16 L411.38,129.45 L411.83,129.74 L412.27,130.03 L412.72,130.32 L413.17,130.61 L413.62,130.9 L414.06,131.19 L414.51,131.48 L414.96,131.77 L415.41,132.06 L415.85,132.35 L416.3,132.64 L416.75,132.93 L417.19,133.22 L417.64,133.51 L418.09,133.8 L418.54,134.09 L418.98,134.37 L419.43,134.66 L419.88,134.95 L420.33,135.24 L420.77,135.52 L421.22,135.81 L421.67,136.1 L422.11,136.38 L422.56,136.67 L423.01,136.95 L423.46,137.24 L423.9,137.52 L424.35,137.81 L424.8,138.09 L425.25,138.37 L425.69,138.65 L426.14,138.94 L426.59,139.22 L427.03,139.5 L427.48,139.78 L427.93,140.06 L428.38,140.34 L428.82,140.62 L429.27,140.89 L429.72,141.17 L430.16,141.45 L430.61,141.72 L431.06,142 L431.51,142.27 L431.95,142.55 L432.4,142.82 L432.85,143.09 L433.3,143.36 L433.74,143.63 L434.19,143.9 L434.64,144.17 L435.08,144.44 L435.53,144.71 L435.98,144.97 L436.43,145.24 L436.87,145.5 L437.32,145.76 L437.77,146.03 L438.22,146.29 L438.66,146.55 L439.11,146.81 L439.56,147.07 L440,147.33 L440.45,147.58 L440.9,147.84 L441.35,148.09 L441.79,148.35 L442.24,148.6 L442.69,148.85 L443.13,149.1 L443.58,149.35 L444.03,149.6 L444.48,149.84 L444.92,150.09 L445.37,150.33 L445.82,150.58 L446.27,150.82 L446.71,151.06 L447.16,151.3 L447.61,151.53 L448.05,151.77 L448.5,152.01 L448.95,152.24 L449.4,152.47 L449.84,152.71 L450.29,152.94 L450.74,153.16 L451.19,153.39 L451.63,153.62 L452.08,153.84 L452.53,154.07 L452.97,154.29 L453.42,154.51 L453.87,154.73 L454.32,154.94 L454.76,155.16 L455.21,155.37 L455.66,155.59 L456.11,155.8 L456.55,156.01 L457,156.22 L457.45,156.42 L457.89,156.63 L458.34,156.83 L458.79,157.03 L459.24,157.23 L459.68,157.43 L460.13,157.63 L460.58,157.82 L461.02,158.02 L461.47,158.21 L461.92,158.4 L462.37,158.59 L462.81,158.77 L463.26,158.96 L463.71,159.14 L464.16,159.32 L464.6,159.5 L465.05,159.68 L465.5,159.86 L465.94,160.03 L466.39,160.2 L466.84,160.37 L467.29,160.54 L467.73,160.71 L468.18,160.87 L468.63,161.03 L469.08,161.19 L469.52,161.35 L469.97,161.51 L470.42,161.66 L470.86,161.82 L471.31,161.97 L471.76,162.12 L472.21,162.26 L472.65,162.41 L473.1,162.55 L473.55,162.69 L473.99,162.83 L474.44,162.96 L474.89,163.1 L475.34,163.23 L475.78,163.36 L476.23,163.49 L476.68,163.61 L477.13,163.74 L477.57,163.86 L478.02,163.98 L478.47,164.09 L478.91,164.21 L479.36,164.32 L479.81,164.43 L480.26,164.54 L480.7,164.64 L481.15,164.75 L481.6,164.85 L482.05,164.95 L482.49,165.04 L482.94,165.14 L483.39,165.23 L483.83,165.32 L484.28,165.4 L484.73,165.49 L485.18,165.57 L485.62,165.65 L486.07,165.72 L486.52,165.8 L486.96,165.87 L487.41,165.94 L487.86,166.01 L488.31,166.07 L488.75,166.13 L489.2,166.19 L489.65,166.25 L490.1,166.3 L490.54,166.36 L490.99,166.4 L491.44,166.45 L491.88,166.5 L492.33,166.54 L492.78,166.58 L493.23,166.61 L493.67,166.64 L494.12,166.67 L494.57,166.7 L495.02,166.73 L495.46,166.75 L495.91,166.77 L496.36,166.79 L496.8,166.8 L497.25,166.81 L497.7,166.82 L498.15,166.83 L498.59,166.83 L499.04,166.83 L499.49,166.83 L499.94,166.82 L500.38,166.81 L500.83,166.8 L501.28,166.79 L501.72,166.77 L502.17,166.75 L502.62,166.73 L503.07,166.7 L503.51,166.68 L503.96,166.64 L504.41,166.61 L504.85,166.57 L505.3,166.53 L505.75,166.49 L506.2,166.44 L506.64,166.39 L507.09,166.34 L507.54,166.28 L507.99,166.22 L508.43,166.16 L508.88,166.1 L509.33,166.03 L509.77,165.96 L510.22,165.88 L510.67,165.8 L511.12,165.72 L511.56,165.64 L512.01,165.55 L512.46,165.46 L512.91,165.37 L513.35,165.27 L513.8,165.17 L514.25,165.07 L514.69,164.96 L515.14,164.85 L515.59,164.74 L516.04,164.62 L516.48,164.5 L516.93,164.38 L517.38,164.25 L517.82,164.12 L518.27,163.99 L518.72,163.85 L519.17,163.71 L519.61,163.57 L520.06,163.42 L520.51,163.27 L520.96,163.12 L521.4,162.96 L521.85,162.8 L522.3,162.64 L522.74,162.47 L523.19,162.3 L523.64,162.12 L524.09,161.95 L524.53,161.77 L524.98,161.58 L525.43,161.39 L525.88,161.2 L526.32,161 L526.77,160.8 L527.22,160.6 L527.66,160.39 L528.11,160.18 L528.56,159.97 L529.01,159.75 L529.45,159.53 L529.9,159.3 L530.35,159.08 L530.79,158.84 L531.24,158.61 L531.69,158.37 L532.14,158.12 L532.58,157.88 L533.03,157.63 L533.48,157.37 L533.93,157.11 L534.37,156.85 L534.82,156.58 L535.27,156.31 L535.71,156.04 L536.16,155.76 L536.61,155.48 L537.06,155.19 L537.5,154.9 L537.95,154.61 L538.4,154.31 L538.85,154.01 L539.29,153.7 L539.74,153.39 L540.19,153.08 L540.63,152.76 L541.08,152.44 L541.53,152.12 L541.98,151.79 L542.42,151.45 L542.87,151.12 L543.32,150.78 L543.77,150.43 L544.21,150.08 L544.66,149.73 L545.11,149.37 L545.55,149.01 L546,148.64 L546.45,148.27 L546.9,147.9 L547.34,147.52 L547.79,147.14 L548.24,146.75 L548.68,146.36 L549.13,145.96 L549.58,145.56 L550.03,145.16 L550.47,144.75 L550.92,144.34 L551.37,143.92 L551.82,143.5 L552.26,143.08 L552.71,142.65 L553.16,142.21 L553.6,141.77 L554.05,141.33 L554.5,140.88 L554.95,140.43 L555.39,139.98 L555.84,139.52 L556.29,139.05 L556.74,138.58 L557.18,138.11 L557.63,137.63 L558.08,137.15 L558.52,136.66 L558.97,136.17 L559.42,135.68 L559.87,135.18 L560.31,134.67 L560.76,134.16 L561.21,133.65 L561.65,133.13 L562.1,132.61 L562.55,132.08 L563,131.55 L563.44,131.01 L563.89,130.47 L564.34,129.92 L564.79,129.37 L565.23,128.82 L565.68,128.26 L566.13,127.69 L566.57,127.13 L567.02,126.55 L567.47,125.97 L567.92,125.39 L568.36,124.8 L568.81,124.21 L569.26,123.61 L569.71,123.01 L570.15,122.4 L570.6,121.79 L571.05,121.17 L571.49,120.55 L571.94,119.92 L572.39,119.29 L572.84,118.66 L573.28,118.02 L573.73,117.37 L574.18,116.72 L574.63,116.06 L575.07,115.4 L575.52,114.74 L575.97,114.07 L576.41,113.39 L576.86,112.71 L577.31,112.03 L577.76,111.34 L578.2,110.64 L578.65,109.94 L579.1,109.24 L579.54,108.52 L579.99,107.81 L580.44,107.09 L580.89,106.36 L581.33,105.63 L581.78,104.9 L582.23,104.16 L582.68,103.41 L583.12,102.66 L583.57,101.9 L584.02,101.14 L584.46,100.37 L584.91,99.6 L585.36,98.83 L585.81,98.04 L586.25,97.26 L586.7,96.46 L587.15,95.67 L587.6,94.86 L588.04,94.06 L588.49,93.24 L588.94,92.42 L589.38,91.6 L589.83,90.77 L590.28,89.93 L590.73,89.09 L591.17,88.25 L591.62,87.4 L592.07,86.54 L592.51,85.68 L592.96,84.81 L593.41,83.94 L593.86,83.06 L594.3,82.18 L594.75,81.29 L595.2,80.4 L595.65,79.5 L596.09,78.59 L596.54,77.68 L596.99,76.77 L597.43,75.85 L597.88,74.92 L598.33,73.99 L598.78,73.05 L599.22,72.1 L599.67,71.15 L600.12,70.2 L600.57,69.24 L601.01,68.27 L601.46,67.3 L601.91,66.32 L602.35,65.34 L602.8,64.35 L603.25,63.36 L603.7,62.36 L604.14,61.35 L604.59,60.34 L605.04,59.33 L605.48,58.3 L605.93,57.27 L606.38,56.24 L606.83,55.2 L607.27,54.15 L607.72,53.1 L608.17,52.05 L608.62,50.98 L609.06,49.91 L609.51,48.84 L609.96,47.76 L610.4,46.67 L610.85,45.58 L611.3,44.48 L611.75,43.38 L612.19,42.27 L612.64,41.15 L613.09,40.03 L613.54,38.9 L613.98,37.77 L614.43,36.63 L614.88,35.48 L615.32,34.33 L615.77,33.18 L616.22,32.01 L616.67,30.84 L617.11,29.67 L617.56,28.49 L618.01,27.3 L618.46,26.1 L618.9,24.9 L619.35,23.7 L619.8,22.49 L620.24,21.27" fill="none" stroke="#1414f5" stroke-width="1.8"/>
<path d="M359.5,103 L359.95,103.02 L360.39,103.07 L360.84,103.12 L361.29,103.19 L361.74,103.26 L362.18,103.34 L362.63,103.43 L363.08,103.53 L363.53,103.63 L363.97,103.74 L364.42,103.85 L364.87,103.97 L365.31,104.09 L365.76,104.22 L366.21,104.35 L366.66,104.49 L367.1,104.63 L367.55,104.78 L368,104.93 L368.44,105.08 L368.89,105.24 L369.34,105.4 L369.79,105.56 L370.23,105.73 L370.68,105.9 L371.13,106.07 L371.58,106.25 L372.02,106.43 L372.47,106.61 L372.92,106.8 L373.36,106.99 L373.81,107.18 L374.26,107.37 L374.71,107.57 L375.15,107.77 L375.6,107.97 L376.05,108.18 L376.5,108.38 L376.94,108.59 L377.39,108.8 L377.84,109.02 L378.28,109.23 L378.73,109.45 L379.18,109.67 L379.63,109.9 L380.07,110.12 L380.52,110.35 L380.97,110.58 L381.42,110.81 L381.86,111.04 L382.31,111.27 L382.76,111.51 L383.2,111.75 L383.65,111.99 L384.1,112.23 L384.55,112.47 L384.99,112.72 L385.44,112.96 L385.89,113.21 L386.33,113.46 L386.78,113.71 L387.23,113.96 L387.68,114.21 L388.12,114.47 L388.57,114.73 L389.02,114.98 L389.47,115.24 L389.91,115.5 L390.36,115.77 L390.81,116.03 L391.25,116.29 L391.7,116.56 L392.15,116.82 L392.6,117.09 L393.04,117.36 L393.49,117.63 L393.94,117.9 L394.39,118.17 L394.83,118.44 L395.28,118.72 L395.73,118.99 L396.17,119.27 L396.62,119.54 L397.07,119.82 L397.52,120.1 L397.96,120.37 L398.41,120.65 L398.86,120.93 L399.3,121.21 L399.75,121.5 L400.2,121.78 L400.65,122.06 L401.09,122.34 L401.54,122.63 L401.99,122.91 L402.44,123.2 L402.88,123.48 L403.33,123.77 L403.78,124.05 L404.22,124.34 L404.67,124.63 L405.12,124.92 L405.57,125.2 L406.01,125.49 L406.46,125.78 L406.91,126.07 L407.36,126.36 L407.8,126.65 L408.25,126.94 L408.7,127.23 L409.14,127.52 L409.59,127.81 L410.04,128.1 L410.49,128.39 L410.93,128.68 L411.38,128.97 L411.83,129.27 L412.27,129.56 L412.72,129.85 L413.17,130.14 L413.62,130.43 L414.06,130.72 L414.51,131.01 L414.96,131.3 L415.41,131.59 L415.85,131.89 L416.3,132.18 L416.75,132.47 L417.19,132.76 L417.64,133.05 L418.09,133.34 L418.54,133.63 L418.98,133.92 L419.43,134.21 L419.88,134.5 L420.33,134.78 L420.77,135.07 L421.22,135.36 L421.67,135.65 L422.11,135.94 L422.56,136.22 L423.01,136.51 L423.46,136.79 L423.9,137.08 L424.35,137.37 L424.8,137.65 L425.25,137.93 L425.69,138.22 L426.14,138.5 L426.59,138.78 L427.03,139.06 L427.48,139.35 L427.93,139.63 L428.38,139.91 L428.82,140.19 L429.27,140.46 L429.72,140.74 L430.16,141.02 L430.61,141.3 L431.06,141.57 L431.51,141.85 L431.95,142.12 L432.4,142.39 L432.85,142.67 L433.3,142.94 L433.74,143.21 L434.19,143.48 L434.64,143.75 L435.08,144.01 L435.53,144.28 L435.98,144.55 L436.43,144.81 L436.87,145.08 L437.32,145.34 L437.77,145.6 L438.22,145.86 L438.66,146.12 L439.11,146.38 L439.56,146.64 L440,146.9 L440.45,147.15 L440.9,147.41 L441.35,147.66 L441.79,147.91 L442.24,148.16 L442.69,148.41 L443.13,148.66 L443.58,148.91 L444.03,149.15 L444.48,149.4 L444.92,149.64 L445.37,149.88 L445.82,150.12 L446.27,150.36 L446.71,150.6 L447.16,150.84 L447.61,151.07 L448.05,151.3 L448.5,151.54 L448.95,151.77 L449.4,152 L449.84,152.22 L450.29,152.45 L450.74,152.68 L451.19,152.9 L451.63,153.12 L452.08,153.34 L452.53,153.56 L452.97,153.77 L453.42,153.99 L453.87,154.2 L454.32,154.41 L454.76,154.62 L455.21,154.83 L455.66,155.04 L456.11,155.24 L456.55,155.45 L457,155.65 L457.45,155.85 L457.89,156.05 L458.34,156.24 L458.79,156.44 L459.24,156.63 L459.68,156.82 L460.13,157.01 L460.58,157.19 L461.02,157.38 L461.47,157.56 L461.92,157.74 L462.37,157.92 L462.81,158.1 L463.26,158.27 L463.71,158.45 L464.16,158.62 L464.6,158.79 L465.05,158.95 L465.5,159.12 L465.94,159.28 L466.39,159.44 L466.84,159.6 L467.29,159.75 L467.73,159.91 L468.18,160.06 L468.63,160.21 L469.08,160.36 L469.52,160.5 L469.97,160.64 L470.42,160.79 L470.86,160.92 L471.31,161.06 L471.76,161.19 L472.21,161.32 L472.65,161.45 L473.1,161.58 L473.55,161.7 L473.99,161.83 L474.44,161.95 L474.89,162.06 L475.34,162.18 L475.78,162.29 L476.23,162.4 L476.68,162.51 L477.13,162.61 L477.57,162.71 L478.02,162.81 L478.47,162.91 L478.91,163.01 L479.36,163.1 L479.81,163.19 L480.26,163.27 L480.7,163.36 L481.15,163.44 L481.6,163.52 L482.05,163.59 L482.49,163.67 L482.94,163.74 L483.39,163.81 L483.83,163.87 L484.28,163.93 L484.73,163.99 L485.18,164.05 L485.62,164.11 L486.07,164.16 L486.52,164.2 L486.96,164.25 L487.41,164.29 L487.86,164.33 L488.31,164.37 L488.75,164.4 L489.2,164.44 L489.65,164.46 L490.1,164.49 L490.54,164.51 L490.99,164.53 L491.44,164.55 L491.88,164.56 L492.33,164.57 L492.78,164.58 L493.23,164.58 L493.67,164.58 L494.12,164.58 L494.57,164.57 L495.02,164.57 L495.46,164.55 L495.91,164.54 L496.36,164.52 L496.8,164.5 L497.25,164.48 L497.7,164.45 L498.15,164.42 L498.59,164.38 L499.04,164.35 L499.49,164.31 L499.94,164.26 L500.38,164.21 L500.83,164.16 L501.28,164.11 L501.72,164.05 L502.17,163.99 L502.62,163.93 L503.07,163.86 L503.51,163.79 L503.96,163.72 L504.41,163.64 L504.85,163.56 L505.3,163.47 L505.75,163.38 L506.2,163.29 L506.64,163.2 L507.09,163.1 L507.54,162.99 L507.99,162.89 L508.43,162.78 L508.88,162.66 L509.33,162.55 L509.77,162.43 L510.22,162.3 L510.67,162.18 L511.12,162.04 L511.56,161.91 L512.01,161.77 L512.46,161.63 L512.91,161.48 L513.35,161.33 L513.8,161.18 L514.25,161.02 L514.69,160.86 L515.14,160.69 L515.59,160.52 L516.04,160.35 L516.48,160.17 L516.93,159.99 L517.38,159.8 L517.82,159.61 L518.27,159.42 L518.72,159.23 L519.17,159.02 L519.61,158.82 L520.06,158.61 L520.51,158.4 L520.96,158.18 L521.4,157.96 L521.85,157.74 L522.3,157.51 L522.74,157.27 L523.19,157.04 L523.64,156.8 L524.09,156.55 L524.53,156.3 L524.98,156.05 L525.43,155.79 L525.88,155.53 L526.32,155.26 L526.77,154.99 L527.22,154.71 L527.66,154.44 L528.11,154.15 L528.56,153.86 L529.01,153.57 L529.45,153.28 L529.9,152.98 L530.35,152.67 L530.79,152.36 L531.24,152.05 L531.69,151.73 L532.14,151.41 L532.58,151.08 L533.03,150.75 L533.48,150.41 L533.93,150.07 L534.37,149.73 L534.82,149.38 L535.27,149.02 L535.71,148.67 L536.16,148.3 L536.61,147.94 L537.06,147.56 L537.5,147.19 L537.95,146.81 L538.4,146.42 L538.85,146.03 L539.29,145.64 L539.74,145.24 L540.19,144.83 L540.63,144.42 L541.08,144.01 L541.53,143.59 L541.98,143.17 L542.42,142.74 L542.87,142.31 L543.32,141.87 L543.77,141.43 L544.21,140.98 L544.66,140.53 L545.11,140.07 L545.55,139.61 L546,139.14 L546.45,138.67 L546.9,138.19 L547.34,137.71 L547.79,137.22 L548.24,136.73 L548.68,136.24 L549.13,135.74 L549.58,135.23 L550.03,134.72 L550.47,134.2 L550.92,133.68 L551.37,133.15 L551.82,132.62 L552.26,132.09 L552.71,131.54 L553.16,131 L553.6,130.45 L554.05,129.89 L554.5,129.33 L554.95,128.76 L555.39,128.19 L555.84,127.61 L556.29,127.03 L556.74,126.44 L557.18,125.85 L557.63,125.25 L558.08,124.64 L558.52,124.03 L558.97,123.42 L559.42,122.8 L559.87,122.17 L560.31,121.54 L560.76,120.91 L561.21,120.27 L561.65,119.62 L562.1,118.97 L562.55,118.31 L563,117.65 L563.44,116.98 L563.89,116.3 L564.34,115.62 L564.79,114.94 L565.23,114.25 L565.68,113.55 L566.13,112.85 L566.57,112.14 L567.02,111.43 L567.47,110.71 L567.92,109.99 L568.36,109.26 L568.81,108.52 L569.26,107.78 L569.71,107.04 L570.15,106.28 L570.6,105.53 L571.05,104.76 L571.49,103.99 L571.94,103.22 L572.39,102.44 L572.84,101.65 L573.28,100.86 L573.73,100.06 L574.18,99.26 L574.63,98.45 L575.07,97.63 L575.52,96.81 L575.97,95.98 L576.41,95.15 L576.86,94.31 L577.31,93.47 L577.76,92.61 L578.2,91.76 L578.65,90.89 L579.1,90.03 L579.54,89.15 L579.99,88.27 L580.44,87.38 L580.89,86.49 L581.33,85.59 L581.78,84.69 L582.23,83.77 L582.68,82.86 L583.12,81.93 L583.57,81 L584.02,80.07 L584.46,79.13 L584.91,78.18 L585.36,77.23 L585.81,76.27 L586.25,75.3 L586.7,74.33 L587.15,73.35 L587.6,72.36 L588.04,71.37 L588.49,70.37 L588.94,69.37 L589.38,68.36 L589.83,67.34 L590.28,66.32 L590.73,65.29 L591.17,64.25 L591.62,63.21 L592.07,62.16 L592.51,61.11 L592.96,60.05 L593.41,58.98 L593.86,57.9 L594.3,56.82 L594.75,55.73 L595.2,54.64 L595.65,53.54 L596.09,52.43 L596.54,51.32 L596.99,50.2 L597.43,49.07 L597.88,47.94 L598.33,46.8 L598.78,45.65 L599.22,44.5 L599.67,43.34 L600.12,42.17 L600.57,41 L601.01,39.82 L601.46,38.64 L601.91,37.44 L602.35,36.24 L602.8,35.04 L603.25,33.82 L603.7,32.6 L604.14,31.37 L604.59,30.14 L605.04,28.9 L605.48,27.65 L605.93,26.4 L606.38,25.14 L606.83,23.87 L607.27,22.59 L607.72,21.31 L608.17,20.02 L608.62,18.73 L609.06,17.42 L609.51,16.11 L609.96,14.8 L610.4,13.47 L610.85,12.14 L611.3,10.8 L611.75,9.46 L612.19,8.11 L612.64,6.75 L613.09,5.38 L613.54,4.01 L613.98,2.63 L614.43,1.24 L614.88,-0.15" fill="none" stroke="#e0561a" stroke-width="1.8"/>
<path d="M359.5,103 L359.95,103.02 L360.39,103.05 L360.84,103.1 L361.29,103.15 L361.74,103.21 L362.18,103.28 L362.63,103.35 L363.08,103.44 L363.53,103.52 L363.97,103.61 L364.42,103.71 L364.87,103.81 L365.31,103.92 L365.76,104.03 L366.21,104.15 L366.66,104.27 L367.1,104.39 L367.55,104.52 L368,104.65 L368.44,104.79 L368.89,104.93 L369.34,105.07 L369.79,105.22 L370.23,105.37 L370.68,105.52 L371.13,105.68 L371.58,105.84 L372.02,106.01 L372.47,106.17 L372.92,106.34 L373.36,106.52 L373.81,106.69 L374.26,106.87 L374.71,107.05 L375.15,107.24 L375.6,107.43 L376.05,107.62 L376.5,107.81 L376.94,108.01 L377.39,108.2 L377.84,108.41 L378.28,108.61 L378.73,108.81 L379.18,109.02 L379.63,109.23 L380.07,109.45 L380.52,109.66 L380.97,109.88 L381.42,110.1 L381.86,110.32 L382.31,110.54 L382.76,110.77 L383.2,111 L383.65,111.23 L384.1,111.46 L384.55,111.69 L384.99,111.93 L385.44,112.16 L385.89,112.4 L386.33,112.64 L386.78,112.89 L387.23,113.13 L387.68,113.38 L388.12,113.63 L388.57,113.88 L389.02,114.13 L389.47,114.38 L389.91,114.63 L390.36,114.89 L390.81,115.15 L391.25,115.41 L391.7,115.67 L392.15,115.93 L392.6,116.19 L393.04,116.46 L393.49,116.72 L393.94,116.99 L394.39,117.26 L394.83,117.53 L395.28,117.8 L395.73,118.07 L396.17,118.34 L396.62,118.62 L397.07,118.89 L397.52,119.17 L397.96,119.44 L398.41,119.72 L398.86,120 L399.3,120.28 L399.75,120.56 L400.2,120.85 L400.65,121.13 L401.09,121.41 L401.54,121.7 L401.99,121.98 L402.44,122.27 L402.88,122.56 L403.33,122.84 L403.78,123.13 L404.22,123.42 L404.67,123.71 L405.12,124 L405.57,124.29 L406.01,124.58 L406.46,124.87 L406.91,125.17 L407.36,125.46 L407.8,125.75 L408.25,126.05 L408.7,126.34 L409.14,126.64 L409.59,126.93 L410.04,127.23 L410.49,127.52 L410.93,127.82 L411.38,128.12 L411.83,128.41 L412.27,128.71 L412.72,129.01 L413.17,129.3 L413.62,129.6 L414.06,129.9 L414.51,130.2 L414.96,130.49 L415.41,130.79 L415.85,131.09 L416.3,131.39 L416.75,131.69 L417.19,131.98 L417.64,132.28 L418.09,132.58 L418.54,132.88 L418.98,133.17 L419.43,133.47 L419.88,133.77 L420.33,134.07 L420.77,134.36 L421.22,134.66 L421.67,134.95 L422.11,135.25 L422.56,135.55 L423.01,135.84 L423.46,136.14 L423.9,136.43 L424.35,136.73 L424.8,137.02 L425.25,137.31 L425.69,137.61 L426.14,137.9 L426.59,138.19 L427.03,138.48 L427.48,138.77 L427.93,139.06 L428.38,139.35 L428.82,139.64 L429.27,139.93 L429.72,140.22 L430.16,140.51 L430.61,140.79 L431.06,141.08 L431.51,141.36 L431.95,141.65 L432.4,141.93 L432.85,142.21 L433.3,142.5 L433.74,142.78 L434.19,143.06 L434.64,143.34 L435.08,143.61 L435.53,143.89 L435.98,144.17 L436.43,144.44 L436.87,144.72 L437.32,144.99 L437.77,145.26 L438.22,145.54 L438.66,145.81 L439.11,146.07 L439.56,146.34 L440,146.61 L440.45,146.88 L440.9,147.14 L441.35,147.4 L441.79,147.66 L442.24,147.93 L442.69,148.19 L443.13,148.44 L443.58,148.7 L444.03,148.96 L444.48,149.21 L444.92,149.46 L445.37,149.71 L445.82,149.96 L446.27,150.21 L446.71,150.46 L447.16,150.71 L447.61,150.95 L448.05,151.19 L448.5,151.43 L448.95,151.67 L449.4,151.91 L449.84,152.15 L450.29,152.38 L450.74,152.61 L451.19,152.84 L451.63,153.07 L452.08,153.3 L452.53,153.53 L452.97,153.75 L453.42,153.97 L453.87,154.2 L454.32,154.41 L454.76,154.63 L455.21,154.85 L455.66,155.06 L456.11,155.27 L456.55,155.48 L457,155.69 L457.45,155.89 L457.89,156.1 L458.34,156.3 L458.79,156.5 L459.24,156.7 L459.68,156.89 L460.13,157.08 L460.58,157.28 L461.02,157.46 L461.47,157.65 L461.92,157.84 L462.37,158.02 L462.81,158.2 L463.26,158.38 L463.71,158.55 L464.16,158.73 L464.6,158.9 L465.05,159.07 L465.5,159.23 L465.94,159.4 L466.39,159.56 L466.84,159.72 L467.29,159.88 L467.73,160.03 L468.18,160.18 L468.63,160.33 L469.08,160.48 L469.52,160.63 L469.97,160.77 L470.42,160.91 L470.86,161.04 L471.31,161.18 L471.76,161.31 L472.21,161.44 L472.65,161.57 L473.1,161.69 L473.55,161.81 L473.99,161.93 L474.44,162.05 L474.89,162.16 L475.34,162.27 L475.78,162.38 L476.23,162.48 L476.68,162.58 L477.13,162.68 L477.57,162.78 L478.02,162.87 L478.47,162.96 L478.91,163.05 L479.36,163.13 L479.81,163.21 L480.26,163.29 L480.7,163.37 L481.15,163.44 L481.6,163.51 L482.05,163.58 L482.49,163.64 L482.94,163.7 L483.39,163.76 L483.83,163.81 L484.28,163.86 L484.73,163.91 L485.18,163.95 L485.62,163.99 L486.07,164.03 L486.52,164.06 L486.96,164.09 L487.41,164.12 L487.86,164.15 L488.31,164.17 L488.75,164.18 L489.2,164.2 L489.65,164.21 L490.1,164.22 L490.54,164.22 L490.99,164.22 L491.44,164.22 L491.88,164.21 L492.33,164.2 L492.78,164.19 L493.23,164.17 L493.67,164.15 L494.12,164.13 L494.57,164.1 L495.02,164.07 L495.46,164.03 L495.91,163.99 L496.36,163.95 L496.8,163.9 L497.25,163.85 L497.7,163.8 L498.15,163.74 L498.59,163.68 L499.04,163.61 L499.49,163.54 L499.94,163.47 L500.38,163.39 L500.83,163.31 L501.28,163.23 L501.72,163.14 L502.17,163.04 L502.62,162.95 L503.07,162.85 L503.51,162.74 L503.96,162.63 L504.41,162.52 L504.85,162.4 L505.3,162.28 L505.75,162.15 L506.2,162.02 L506.64,161.89 L507.09,161.75 L507.54,161.61 L507.99,161.46 L508.43,161.31 L508.88,161.16 L509.33,161 L509.77,160.84 L510.22,160.67 L510.67,160.5 L511.12,160.32 L511.56,160.14 L512.01,159.95 L512.46,159.76 L512.91,159.57 L513.35,159.37 L513.8,159.17 L514.25,158.96 L514.69,158.75 L515.14,158.53 L515.59,158.31 L516.04,158.09 L516.48,157.85 L516.93,157.62 L517.38,157.38 L517.82,157.14 L518.27,156.89 L518.72,156.63 L519.17,156.38 L519.61,156.11 L520.06,155.84 L520.51,155.57 L520.96,155.29 L521.4,155.01 L521.85,154.73 L522.3,154.43 L522.74,154.14 L523.19,153.83 L523.64,153.53 L524.09,153.22 L524.53,152.9 L524.98,152.58 L525.43,152.25 L525.88,151.92 L526.32,151.58 L526.77,151.24 L527.22,150.9 L527.66,150.55 L528.11,150.19 L528.56,149.83 L529.01,149.46 L529.45,149.09 L529.9,148.71 L530.35,148.33 L530.79,147.94 L531.24,147.55 L531.69,147.15 L532.14,146.75 L532.58,146.34 L533.03,145.92 L533.48,145.5 L533.93,145.08 L534.37,144.65 L534.82,144.21 L535.27,143.77 L535.71,143.32 L536.16,142.87 L536.61,142.42 L537.06,141.95 L537.5,141.48 L537.95,141.01 L538.4,140.53 L538.85,140.05 L539.29,139.56 L539.74,139.06 L540.19,138.56 L540.63,138.05 L541.08,137.54 L541.53,137.02 L541.98,136.49 L542.42,135.96 L542.87,135.43 L543.32,134.89 L543.77,134.34 L544.21,133.79 L544.66,133.23 L545.11,132.66 L545.55,132.09 L546,131.51 L546.45,130.93 L546.9,130.34 L547.34,129.75 L547.79,129.15 L548.24,128.54 L548.68,127.93 L549.13,127.31 L549.58,126.69 L550.03,126.06 L550.47,125.42 L550.92,124.78 L551.37,124.13 L551.82,123.47 L552.26,122.81 L552.71,122.14 L553.16,121.47 L553.6,120.79 L554.05,120.11 L554.5,119.41 L554.95,118.72 L555.39,118.01 L555.84,117.3 L556.29,116.58 L556.74,115.86 L557.18,115.13 L557.63,114.39 L558.08,113.65 L558.52,112.9 L558.97,112.15 L559.42,111.38 L559.87,110.62 L560.31,109.84 L560.76,109.06 L561.21,108.27 L561.65,107.48 L562.1,106.68 L562.55,105.87 L563,105.05 L563.44,104.23 L563.89,103.41 L564.34,102.57 L564.79,101.73 L565.23,100.88 L565.68,100.03 L566.13,99.17 L566.57,98.3 L567.02,97.43 L567.47,96.54 L567.92,95.66 L568.36,94.76 L568.81,93.86 L569.26,92.95 L569.71,92.03 L570.15,91.11 L570.6,90.18 L571.05,89.25 L571.49,88.3 L571.94,87.35 L572.39,86.39 L572.84,85.43 L573.28,84.46 L573.73,83.48 L574.18,82.49 L574.63,81.5 L575.07,80.5 L575.52,79.49 L575.97,78.48 L576.41,77.46 L576.86,76.43 L577.31,75.39 L577.76,74.35 L578.2,73.3 L578.65,72.24 L579.1,71.18 L579.54,70.11 L579.99,69.03 L580.44,67.94 L580.89,66.85 L581.33,65.74 L581.78,64.63 L582.23,63.52 L582.68,62.39 L583.12,61.26 L583.57,60.12 L584.02,58.98 L584.46,57.82 L584.91,56.66 L585.36,55.49 L585.81,54.32 L586.25,53.13 L586.7,51.94 L587.15,50.74 L587.6,49.53 L588.04,48.32 L588.49,47.1 L588.94,45.87 L589.38,44.63 L589.83,43.38 L590.28,42.13 L590.73,40.87 L591.17,39.6 L591.62,38.32 L592.07,37.04 L592.51,35.74 L592.96,34.44 L593.41,33.14 L593.86,31.82 L594.3,30.49 L594.75,29.16 L595.2,27.82 L595.65,26.47 L596.09,25.12 L596.54,23.75 L596.99,22.38 L597.43,21 L597.88,19.61 L598.33,18.21 L598.78,16.81 L599.22,15.4 L599.67,13.98 L600.12,12.55 L600.57,11.11 L601.01,9.66 L601.46,8.21 L601.91,6.75 L602.35,5.28 L602.8,3.8 L603.25,2.31 L603.7,0.81 L604.14,-0.69" fill="none" stroke="#fcc21a" stroke-width="1.8"/>
<path d="M359.5,103 L359.95,103.02 L360.39,103.06 L360.84,103.11 L361.29,103.17 L361.74,103.24 L362.18,103.32 L362.63,103.41 L363.08,103.5 L363.53,103.59 L363.97,103.69 L364.42,103.8 L364.87,103.91 L365.31,104.03 L365.76,104.15 L366.21,104.27 L366.66,104.4 L367.1,104.53 L367.55,104.67 L368,104.81 L368.44,104.96 L368.89,105.1 L369.34,105.26 L369.79,105.41 L370.23,105.57 L370.68,105.73 L371.13,105.89 L371.58,106.06 L372.02,106.23 L372.47,106.4 L372.92,106.58 L373.36,106.76 L373.81,106.94 L374.26,107.12 L374.71,107.31 L375.15,107.5 L375.6,107.69 L376.05,107.88 L376.5,108.08 L376.94,108.28 L377.39,108.48 L377.84,108.68 L378.28,108.88 L378.73,109.09 L379.18,109.3 L379.63,109.51 L380.07,109.72 L380.52,109.94 L380.97,110.15 L381.42,110.37 L381.86,110.59 L382.31,110.81 L382.76,111.04 L383.2,111.26 L383.65,111.49 L384.1,111.72 L384.55,111.95 L384.99,112.18 L385.44,112.41 L385.89,112.65 L386.33,112.88 L386.78,113.12 L387.23,113.36 L387.68,113.6 L388.12,113.84 L388.57,114.08 L389.02,114.33 L389.47,114.57 L389.91,114.82 L390.36,115.07 L390.81,115.32 L391.25,115.57 L391.7,115.82 L392.15,116.07 L392.6,116.32 L393.04,116.58 L393.49,116.83 L393.94,117.09 L394.39,117.34 L394.83,117.6 L395.28,117.86 L395.73,118.12 L396.17,118.38 L396.62,118.64 L397.07,118.9 L397.52,119.17 L397.96,119.43 L398.41,119.69 L398.86,119.96 L399.3,120.22 L399.75,120.49 L400.2,120.76 L400.65,121.02 L401.09,121.29 L401.54,121.56 L401.99,121.83 L402.44,122.1 L402.88,122.37 L403.33,122.64 L403.78,122.91 L404.22,123.18 L404.67,123.45 L405.12,123.72 L405.57,123.99 L406.01,124.26 L406.46,124.54 L406.91,124.81 L407.36,125.08 L407.8,125.35 L408.25,125.63 L408.7,125.9 L409.14,126.17 L409.59,126.45 L410.04,126.72 L410.49,127 L410.93,127.27 L411.38,127.54 L411.83,127.82 L412.27,128.09 L412.72,128.36 L413.17,128.64 L413.62,128.91 L414.06,129.19 L414.51,129.46 L414.96,129.73 L415.41,130.01 L415.85,130.28 L416.3,130.55 L416.75,130.82 L417.19,131.1 L417.64,131.37 L418.09,131.64 L418.54,131.91 L418.98,132.18 L419.43,132.45 L419.88,132.72 L420.33,132.99 L420.77,133.26 L421.22,133.53 L421.67,133.8 L422.11,134.07 L422.56,134.34 L423.01,134.61 L423.46,134.87 L423.9,135.14 L424.35,135.41 L424.8,135.67 L425.25,135.94 L425.69,136.2 L426.14,136.46 L426.59,136.73 L427.03,136.99 L427.48,137.25 L427.93,137.51 L428.38,137.77 L428.82,138.03 L429.27,138.29 L429.72,138.55 L430.16,138.8 L430.61,139.06 L431.06,139.31 L431.51,139.57 L431.95,139.82 L432.4,140.07 L432.85,140.33 L433.3,140.58 L433.74,140.83 L434.19,141.08 L434.64,141.32 L435.08,141.57 L435.53,141.82 L435.98,142.06 L436.43,142.3 L436.87,142.55 L437.32,142.79 L437.77,143.03 L438.22,143.27 L438.66,143.51 L439.11,143.74 L439.56,143.98 L440,144.22 L440.45,144.45 L440.9,144.68 L441.35,144.91 L441.79,145.14 L442.24,145.37 L442.69,145.6 L443.13,145.82 L443.58,146.05 L444.03,146.27 L444.48,146.49 L444.92,146.71 L445.37,146.93 L445.82,147.15 L446.27,147.36 L446.71,147.58 L447.16,147.79 L447.61,148 L448.05,148.21 L448.5,148.42 L448.95,148.63 L449.4,148.84 L449.84,149.04 L450.29,149.24 L450.74,149.44 L451.19,149.64 L451.63,149.84 L452.08,150.03 L452.53,150.23 L452.97,150.42 L453.42,150.61 L453.87,150.8 L454.32,150.99 L454.76,151.17 L455.21,151.35 L455.66,151.54 L456.11,151.72 L456.55,151.89 L457,152.07 L457.45,152.24 L457.89,152.42 L458.34,152.59 L458.79,152.75 L459.24,152.92 L459.68,153.09 L460.13,153.25 L460.58,153.41 L461.02,153.57 L461.47,153.72 L461.92,153.88 L462.37,154.03 L462.81,154.18 L463.26,154.33 L463.71,154.47 L464.16,154.62 L464.6,154.76 L465.05,154.9 L465.5,155.04 L465.94,155.17 L466.39,155.3 L466.84,155.44 L467.29,155.56 L467.73,155.69 L468.18,155.81 L468.63,155.94 L469.08,156.05 L469.52,156.17 L469.97,156.29 L470.42,156.4 L470.86,156.51 L471.31,156.62 L471.76,156.72 L472.21,156.82 L472.65,156.92 L473.1,157.02 L473.55,157.12 L473.99,157.21 L474.44,157.3 L474.89,157.39 L475.34,157.47 L475.78,157.55 L476.23,157.63 L476.68,157.71 L477.13,157.79 L477.57,157.86 L478.02,157.93 L478.47,157.99 L478.91,158.06 L479.36,158.12 L479.81,158.18 L480.26,158.23 L480.7,158.29 L481.15,158.34 L481.6,158.38 L482.05,158.43 L482.49,158.47 L482.94,158.51 L483.39,158.55 L483.83,158.58 L484.28,158.61 L484.73,158.64 L485.18,158.66 L485.62,158.69 L486.07,158.7 L486.52,158.72 L486.96,158.73 L487.41,158.74 L487.86,158.75 L488.31,158.75 L488.75,158.75 L489.2,158.75 L489.65,158.75 L490.1,158.74 L490.54,158.73 L490.99,158.71 L491.44,158.69 L491.88,158.67 L492.33,158.65 L492.78,158.62 L493.23,158.59 L493.67,158.56 L494.12,158.52 L494.57,158.48 L495.02,158.44 L495.46,158.39 L495.91,158.34 L496.36,158.29 L496.8,158.23 L497.25,158.17 L497.7,158.11 L498.15,158.04 L498.59,157.97 L499.04,157.9 L499.49,157.82 L499.94,157.74 L500.38,157.66 L500.83,157.57 L501.28,157.48 L501.72,157.38 L502.17,157.29 L502.62,157.18 L503.07,157.08 L503.51,156.97 L503.96,156.86 L504.41,156.74 L504.85,156.62 L505.3,156.5 L505.75,156.37 L506.2,156.24 L506.64,156.11 L507.09,155.97 L507.54,155.83 L507.99,155.68 L508.43,155.54 L508.88,155.38 L509.33,155.23 L509.77,155.07 L510.22,154.9 L510.67,154.73 L511.12,154.56 L511.56,154.39 L512.01,154.21 L512.46,154.02 L512.91,153.84 L513.35,153.65 L513.8,153.45 L514.25,153.25 L514.69,153.05 L515.14,152.84 L515.59,152.63 L516.04,152.42 L516.48,152.2 L516.93,151.97 L517.38,151.75 L517.82,151.51 L518.27,151.28 L518.72,151.04 L519.17,150.8 L519.61,150.55 L520.06,150.3 L520.51,150.04 L520.96,149.78 L521.4,149.52 L521.85,149.25 L522.3,148.97 L522.74,148.7 L523.19,148.41 L523.64,148.13 L524.09,147.84 L524.53,147.54 L524.98,147.25 L525.43,146.94 L525.88,146.64 L526.32,146.32 L526.77,146.01 L527.22,145.69 L527.66,145.36 L528.11,145.03 L528.56,144.7 L529.01,144.36 L529.45,144.02 L529.9,143.67 L530.35,143.32 L530.79,142.96 L531.24,142.6 L531.69,142.23 L532.14,141.86 L532.58,141.49 L533.03,141.11 L533.48,140.73 L533.93,140.34 L534.37,139.94 L534.82,139.55 L535.27,139.14 L535.71,138.74 L536.16,138.32 L536.61,137.91 L537.06,137.49 L537.5,137.06 L537.95,136.63 L538.4,136.19 L538.85,135.75 L539.29,135.31 L539.74,134.86 L540.19,134.4 L540.63,133.94 L541.08,133.48 L541.53,133.01 L541.98,132.53 L542.42,132.05 L542.87,131.57 L543.32,131.08 L543.77,130.58 L544.21,130.08 L544.66,129.58 L545.11,129.07 L545.55,128.55 L546,128.03 L546.45,127.51 L546.9,126.98 L547.34,126.44 L547.79,125.9 L548.24,125.36 L548.68,124.81 L549.13,124.25 L549.58,123.69 L550.03,123.12 L550.47,122.55 L550.92,121.98 L551.37,121.39 L551.82,120.81 L552.26,120.21 L552.71,119.62 L553.16,119.01 L553.6,118.4 L554.05,117.79 L554.5,117.17 L554.95,116.55 L555.39,115.92 L555.84,115.28 L556.29,114.64 L556.74,114 L557.18,113.34 L557.63,112.69 L558.08,112.03 L558.52,111.36 L558.97,110.68 L559.42,110 L559.87,109.32 L560.31,108.63 L560.76,107.93 L561.21,107.23 L561.65,106.53 L562.1,105.81 L562.55,105.1 L563,104.37 L563.44,103.64 L563.89,102.91 L564.34,102.17 L564.79,101.42 L565.23,100.67 L565.68,99.91 L566.13,99.15 L566.57,98.38 L567.02,97.6 L567.47,96.82 L567.92,96.03 L568.36,95.24 L568.81,94.44 L569.26,93.64 L569.71,92.83 L570.15,92.01 L570.6,91.19 L571.05,90.36 L571.49,89.53 L571.94,88.69 L572.39,87.84 L572.84,86.99 L573.28,86.13 L573.73,85.27 L574.18,84.4 L574.63,83.52 L575.07,82.64 L575.52,81.75 L575.97,80.86 L576.41,79.96 L576.86,79.05 L577.31,78.14 L577.76,77.22 L578.2,76.29 L578.65,75.36 L579.1,74.42 L579.54,73.48 L579.99,72.53 L580.44,71.57 L580.89,70.61 L581.33,69.64 L581.78,68.67 L582.23,67.69 L582.68,66.7 L583.12,65.71 L583.57,64.71 L584.02,63.7 L584.46,62.69 L584.91,61.67 L585.36,60.64 L585.81,59.61 L586.25,58.57 L586.7,57.52 L587.15,56.47 L587.6,55.41 L588.04,54.35 L588.49,53.28 L588.94,52.2 L589.38,51.12 L589.83,50.03 L590.28,48.93 L590.73,47.83 L591.17,46.71 L591.62,45.6 L592.07,44.47 L592.51,43.34 L592.96,42.21 L593.41,41.06 L593.86,39.91 L594.3,38.75 L594.75,37.59 L595.2,36.42 L595.65,35.24 L596.09,34.06 L596.54,32.87 L596.99,31.67 L597.43,30.46 L597.88,29.25 L598.33,28.03 L598.78,26.81 L599.22,25.58 L599.67,24.34 L600.12,23.09 L600.57,21.84 L601.01,20.58 L601.46,19.31 L601.91,18.04 L602.35,16.76 L602.8,15.47 L603.25,14.17 L603.7,12.87 L604.14,11.56 L604.59,10.25 L605.04,8.92 L605.48,7.59 L605.93,6.25 L606.38,4.91 L606.83,3.56 L607.27,2.2 L607.72,0.83 L608.17,-0.54" fill="none" stroke="#f1a98f" stroke-width="1.7" stroke-dasharray="3.4,2.6"/>
<path d="M359.5,103 L359.95,103.02 L360.39,103.07 L360.84,103.13 L361.29,103.2 L361.74,103.28 L362.18,103.36 L362.63,103.46 L363.08,103.56 L363.53,103.66 L363.97,103.77 L364.42,103.89 L364.87,104.01 L365.31,104.14 L365.76,104.27 L366.21,104.41 L366.66,104.55 L367.1,104.7 L367.55,104.84 L368,105 L368.44,105.15 L368.89,105.31 L369.34,105.48 L369.79,105.64 L370.23,105.81 L370.68,105.98 L371.13,106.16 L371.58,106.34 L372.02,106.52 L372.47,106.7 L372.92,106.89 L373.36,107.08 L373.81,107.27 L374.26,107.47 L374.71,107.66 L375.15,107.86 L375.6,108.06 L376.05,108.27 L376.5,108.47 L376.94,108.68 L377.39,108.89 L377.84,109.1 L378.28,109.32 L378.73,109.53 L379.18,109.75 L379.63,109.97 L380.07,110.19 L380.52,110.42 L380.97,110.64 L381.42,110.87 L381.86,111.09 L382.31,111.32 L382.76,111.55 L383.2,111.79 L383.65,112.02 L384.1,112.26 L384.55,112.49 L384.99,112.73 L385.44,112.97 L385.89,113.21 L386.33,113.45 L386.78,113.69 L387.23,113.94 L387.68,114.18 L388.12,114.43 L388.57,114.67 L389.02,114.92 L389.47,115.17 L389.91,115.42 L390.36,115.67 L390.81,115.92 L391.25,116.17 L391.7,116.43 L392.15,116.68 L392.6,116.94 L393.04,117.19 L393.49,117.45 L393.94,117.7 L394.39,117.96 L394.83,118.22 L395.28,118.48 L395.73,118.73 L396.17,118.99 L396.62,119.25 L397.07,119.51 L397.52,119.77 L397.96,120.04 L398.41,120.3 L398.86,120.56 L399.3,120.82 L399.75,121.08 L400.2,121.35 L400.65,121.61 L401.09,121.87 L401.54,122.14 L401.99,122.4 L402.44,122.66 L402.88,122.93 L403.33,123.19 L403.78,123.45 L404.22,123.72 L404.67,123.98 L405.12,124.25 L405.57,124.51 L406.01,124.77 L406.46,125.04 L406.91,125.3 L407.36,125.56 L407.8,125.83 L408.25,126.09 L408.7,126.35 L409.14,126.62 L409.59,126.88 L410.04,127.14 L410.49,127.4 L410.93,127.67 L411.38,127.93 L411.83,128.19 L412.27,128.45 L412.72,128.71 L413.17,128.97 L413.62,129.23 L414.06,129.49 L414.51,129.74 L414.96,130 L415.41,130.26 L415.85,130.52 L416.3,130.77 L416.75,131.03 L417.19,131.28 L417.64,131.54 L418.09,131.79 L418.54,132.05 L418.98,132.3 L419.43,132.55 L419.88,132.8 L420.33,133.05 L420.77,133.3 L421.22,133.55 L421.67,133.8 L422.11,134.04 L422.56,134.29 L423.01,134.53 L423.46,134.78 L423.9,135.02 L424.35,135.26 L424.8,135.51 L425.25,135.75 L425.69,135.99 L426.14,136.22 L426.59,136.46 L427.03,136.7 L427.48,136.93 L427.93,137.17 L428.38,137.4 L428.82,137.63 L429.27,137.86 L429.72,138.09 L430.16,138.32 L430.61,138.55 L431.06,138.77 L431.51,139 L431.95,139.22 L432.4,139.44 L432.85,139.66 L433.3,139.88 L433.74,140.1 L434.19,140.32 L434.64,140.53 L435.08,140.75 L435.53,140.96 L435.98,141.17 L436.43,141.38 L436.87,141.59 L437.32,141.8 L437.77,142 L438.22,142.2 L438.66,142.41 L439.11,142.61 L439.56,142.8 L440,143 L440.45,143.2 L440.9,143.39 L441.35,143.58 L441.79,143.77 L442.24,143.96 L442.69,144.15 L443.13,144.33 L443.58,144.52 L444.03,144.7 L444.48,144.88 L444.92,145.06 L445.37,145.23 L445.82,145.41 L446.27,145.58 L446.71,145.75 L447.16,145.92 L447.61,146.09 L448.05,146.25 L448.5,146.41 L448.95,146.57 L449.4,146.73 L449.84,146.89 L450.29,147.05 L450.74,147.2 L451.19,147.35 L451.63,147.5 L452.08,147.64 L452.53,147.79 L452.97,147.93 L453.42,148.07 L453.87,148.21 L454.32,148.34 L454.76,148.48 L455.21,148.61 L455.66,148.74 L456.11,148.86 L456.55,148.99 L457,149.11 L457.45,149.23 L457.89,149.35 L458.34,149.46 L458.79,149.57 L459.24,149.69 L459.68,149.79 L460.13,149.9 L460.58,150 L461.02,150.1 L461.47,150.2 L461.92,150.3 L462.37,150.39 L462.81,150.48 L463.26,150.57 L463.71,150.65 L464.16,150.74 L464.6,150.82 L465.05,150.89 L465.5,150.97 L465.94,151.04 L466.39,151.11 L466.84,151.18 L467.29,151.24 L467.73,151.3 L468.18,151.36 L468.63,151.42 L469.08,151.47 L469.52,151.52 L469.97,151.57 L470.42,151.61 L470.86,151.65 L471.31,151.69 L471.76,151.73 L472.21,151.76 L472.65,151.79 L473.1,151.82 L473.55,151.85 L473.99,151.87 L474.44,151.89 L474.89,151.9 L475.34,151.91 L475.78,151.92 L476.23,151.93 L476.68,151.93 L477.13,151.93 L477.57,151.93 L478.02,151.93 L478.47,151.92 L478.91,151.9 L479.36,151.89 L479.81,151.87 L480.26,151.85 L480.7,151.82 L481.15,151.8 L481.6,151.76 L482.05,151.73 L482.49,151.69 L482.94,151.65 L483.39,151.61 L483.83,151.56 L484.28,151.51 L484.73,151.45 L485.18,151.39 L485.62,151.33 L486.07,151.27 L486.52,151.2 L486.96,151.13 L487.41,151.05 L487.86,150.97 L488.31,150.89 L488.75,150.81 L489.2,150.72 L489.65,150.62 L490.1,150.53 L490.54,150.43 L490.99,150.33 L491.44,150.22 L491.88,150.11 L492.33,149.99 L492.78,149.87 L493.23,149.75 L493.67,149.63 L494.12,149.5 L494.57,149.37 L495.02,149.23 L495.46,149.09 L495.91,148.94 L496.36,148.8 L496.8,148.65 L497.25,148.49 L497.7,148.33 L498.15,148.17 L498.59,148 L499.04,147.83 L499.49,147.65 L499.94,147.47 L500.38,147.29 L500.83,147.11 L501.28,146.91 L501.72,146.72 L502.17,146.52 L502.62,146.32 L503.07,146.11 L503.51,145.9 L503.96,145.69 L504.41,145.47 L504.85,145.24 L505.3,145.02 L505.75,144.78 L506.2,144.55 L506.64,144.31 L507.09,144.07 L507.54,143.82 L507.99,143.56 L508.43,143.31 L508.88,143.05 L509.33,142.78 L509.77,142.51 L510.22,142.24 L510.67,141.96 L511.12,141.68 L511.56,141.39 L512.01,141.1 L512.46,140.81 L512.91,140.51 L513.35,140.2 L513.8,139.89 L514.25,139.58 L514.69,139.26 L515.14,138.94 L515.59,138.61 L516.04,138.28 L516.48,137.95 L516.93,137.61 L517.38,137.26 L517.82,136.91 L518.27,136.56 L518.72,136.2 L519.17,135.84 L519.61,135.47 L520.06,135.1 L520.51,134.72 L520.96,134.34 L521.4,133.95 L521.85,133.56 L522.3,133.16 L522.74,132.76 L523.19,132.36 L523.64,131.95 L524.09,131.53 L524.53,131.11 L524.98,130.69 L525.43,130.26 L525.88,129.82 L526.32,129.38 L526.77,128.94 L527.22,128.49 L527.66,128.04 L528.11,127.58 L528.56,127.11 L529.01,126.64 L529.45,126.17 L529.9,125.69 L530.35,125.21 L530.79,124.72 L531.24,124.22 L531.69,123.73 L532.14,123.22 L532.58,122.71 L533.03,122.2 L533.48,121.68 L533.93,121.15 L534.37,120.62 L534.82,120.09 L535.27,119.55 L535.71,119 L536.16,118.45 L536.61,117.9 L537.06,117.33 L537.5,116.77 L537.95,116.2 L538.4,115.62 L538.85,115.04 L539.29,114.45 L539.74,113.86 L540.19,113.26 L540.63,112.65 L541.08,112.04 L541.53,111.43 L541.98,110.81 L542.42,110.18 L542.87,109.55 L543.32,108.92 L543.77,108.27 L544.21,107.63 L544.66,106.97 L545.11,106.31 L545.55,105.65 L546,104.98 L546.45,104.3 L546.9,103.62 L547.34,102.94 L547.79,102.24 L548.24,101.55 L548.68,100.84 L549.13,100.13 L549.58,99.42 L550.03,98.7 L550.47,97.97 L550.92,97.24 L551.37,96.5 L551.82,95.76 L552.26,95.01 L552.71,94.25 L553.16,93.49 L553.6,92.72 L554.05,91.95 L554.5,91.17 L554.95,90.39 L555.39,89.6 L555.84,88.8 L556.29,88 L556.74,87.19 L557.18,86.38 L557.63,85.56 L558.08,84.73 L558.52,83.9 L558.97,83.06 L559.42,82.21 L559.87,81.36 L560.31,80.51 L560.76,79.64 L561.21,78.78 L561.65,77.9 L562.1,77.02 L562.55,76.13 L563,75.24 L563.44,74.34 L563.89,73.43 L564.34,72.52 L564.79,71.6 L565.23,70.68 L565.68,69.75 L566.13,68.81 L566.57,67.87 L567.02,66.92 L567.47,65.96 L567.92,65 L568.36,64.03 L568.81,63.05 L569.26,62.07 L569.71,61.08 L570.15,60.09 L570.6,59.09 L571.05,58.08 L571.49,57.07 L571.94,56.05 L572.39,55.02 L572.84,53.99 L573.28,52.95 L573.73,51.9 L574.18,50.85 L574.63,49.79 L575.07,48.72 L575.52,47.65 L575.97,46.57 L576.41,45.49 L576.86,44.39 L577.31,43.29 L577.76,42.19 L578.2,41.08 L578.65,39.96 L579.1,38.83 L579.54,37.7 L579.99,36.56 L580.44,35.41 L580.89,34.26 L581.33,33.1 L581.78,31.93 L582.23,30.76 L582.68,29.58 L583.12,28.39 L583.57,27.19 L584.02,25.99 L584.46,24.78 L584.91,23.57 L585.36,22.35 L585.81,21.12 L586.25,19.88 L586.7,18.64 L587.15,17.39 L587.6,16.13 L588.04,14.87 L588.49,13.6 L588.94,12.32 L589.38,11.03 L589.83,9.74 L590.28,8.44 L590.73,7.13 L591.17,5.82 L591.62,4.5 L592.07,3.17 L592.51,1.84 L592.96,0.49 L593.41,-0.86" fill="none" stroke="#fddc80" stroke-width="1.7" stroke-dasharray="3.4,2.6"/>
</g>
<path d="M361.6,102.89L363.91,106.93L359.29,106.93Z" fill="none" stroke="#e86a3a" stroke-width="0.9"/>
<path d="M359.4,105.4a2.2,2.2 0 1,0 4.4,0a2.2,2.2 0 1,0 -4.4,0" fill="none" stroke="#3434ff" stroke-width="0.9"/>
<path d="M359.28,102.28h4.23v4.23h-4.23Z" fill="none" stroke="#fcc830" stroke-width="0.9"/>
<path d="M359.5,180.2v-2.6M359.5,13v2.6" stroke="#707070" stroke-width="0.7"/>
<path d="M395.22,180.2v-2.6M395.22,13v2.6" stroke="#707070" stroke-width="0.7"/>
<path d="M430.94,180.2v-2.6M430.94,13v2.6" stroke="#707070" stroke-width="0.7"/>
<path d="M466.66,180.2v-2.6M466.66,13v2.6" stroke="#707070" stroke-width="0.7"/>
<path d="M502.38,180.2v-2.6M502.38,13v2.6" stroke="#707070" stroke-width="0.7"/>
<path d="M538.1,180.2v-2.6M538.1,13v2.6" stroke="#707070" stroke-width="0.7"/>
<path d="M573.82,180.2v-2.6M573.82,13v2.6" stroke="#707070" stroke-width="0.7"/>
<path d="M609.54,180.2v-2.6M609.54,13v2.6" stroke="#707070" stroke-width="0.7"/>
<path d="M368.43,180.2v-1.5M368.43,13v1.5" stroke="#707070" stroke-width="0.7"/>
<path d="M377.36,180.2v-1.5M377.36,13v1.5" stroke="#707070" stroke-width="0.7"/>
<path d="M386.29,180.2v-1.5M386.29,13v1.5" stroke="#707070" stroke-width="0.7"/>
<path d="M404.15,180.2v-1.5M404.15,13v1.5" stroke="#707070" stroke-width="0.7"/>
<path d="M413.08,180.2v-1.5M413.08,13v1.5" stroke="#707070" stroke-width="0.7"/>
<path d="M422.01,180.2v-1.5M422.01,13v1.5" stroke="#707070" stroke-width="0.7"/>
<path d="M439.87,180.2v-1.5M439.87,13v1.5" stroke="#707070" stroke-width="0.7"/>
<path d="M448.8,180.2v-1.5M448.8,13v1.5" stroke="#707070" stroke-width="0.7"/>
<path d="M457.73,180.2v-1.5M457.73,13v1.5" stroke="#707070" stroke-width="0.7"/>
<path d="M475.59,180.2v-1.5M475.59,13v1.5" stroke="#707070" stroke-width="0.7"/>
<path d="M484.52,180.2v-1.5M484.52,13v1.5" stroke="#707070" stroke-width="0.7"/>
<path d="M493.45,180.2v-1.5M493.45,13v1.5" stroke="#707070" stroke-width="0.7"/>
<path d="M511.31,180.2v-1.5M511.31,13v1.5" stroke="#707070" stroke-width="0.7"/>
<path d="M520.24,180.2v-1.5M520.24,13v1.5" stroke="#707070" stroke-width="0.7"/>
<path d="M529.17,180.2v-1.5M529.17,13v1.5" stroke="#707070" stroke-width="0.7"/>
<path d="M547.03,180.2v-1.5M547.03,13v1.5" stroke="#707070" stroke-width="0.7"/>
<path d="M555.96,180.2v-1.5M555.96,13v1.5" stroke="#707070" stroke-width="0.7"/>
<path d="M564.89,180.2v-1.5M564.89,13v1.5" stroke="#707070" stroke-width="0.7"/>
<path d="M582.75,180.2v-1.5M582.75,13v1.5" stroke="#707070" stroke-width="0.7"/>
<path d="M591.68,180.2v-1.5M591.68,13v1.5" stroke="#707070" stroke-width="0.7"/>
<path d="M600.61,180.2v-1.5M600.61,13v1.5" stroke="#707070" stroke-width="0.7"/>
<path d="M359.5,180.16h2.6M609.5,180.16h-2.6" stroke="#707070" stroke-width="0.7"/>
<path d="M359.5,154.44h2.6M609.5,154.44h-2.6" stroke="#707070" stroke-width="0.7"/>
<path d="M359.5,128.72h2.6M609.5,128.72h-2.6" stroke="#707070" stroke-width="0.7"/>
<path d="M359.5,103h2.6M609.5,103h-2.6" stroke="#707070" stroke-width="0.7"/>
<path d="M359.5,77.28h2.6M609.5,77.28h-2.6" stroke="#707070" stroke-width="0.7"/>
<path d="M359.5,51.56h2.6M609.5,51.56h-2.6" stroke="#707070" stroke-width="0.7"/>
<path d="M359.5,25.84h2.6M609.5,25.84h-2.6" stroke="#707070" stroke-width="0.7"/>
<path d="M359.5,173.73h1.5M609.5,173.73h-1.5" stroke="#707070" stroke-width="0.7"/>
<path d="M359.5,167.3h1.5M609.5,167.3h-1.5" stroke="#707070" stroke-width="0.7"/>
<path d="M359.5,160.87h1.5M609.5,160.87h-1.5" stroke="#707070" stroke-width="0.7"/>
<path d="M359.5,148.01h1.5M609.5,148.01h-1.5" stroke="#707070" stroke-width="0.7"/>
<path d="M359.5,141.58h1.5M609.5,141.58h-1.5" stroke="#707070" stroke-width="0.7"/>
<path d="M359.5,135.15h1.5M609.5,135.15h-1.5" stroke="#707070" stroke-width="0.7"/>
<path d="M359.5,122.29h1.5M609.5,122.29h-1.5" stroke="#707070" stroke-width="0.7"/>
<path d="M359.5,115.86h1.5M609.5,115.86h-1.5" stroke="#707070" stroke-width="0.7"/>
<path d="M359.5,109.43h1.5M609.5,109.43h-1.5" stroke="#707070" stroke-width="0.7"/>
<path d="M359.5,96.57h1.5M609.5,96.57h-1.5" stroke="#707070" stroke-width="0.7"/>
<path d="M359.5,90.14h1.5M609.5,90.14h-1.5" stroke="#707070" stroke-width="0.7"/>
<path d="M359.5,83.71h1.5M609.5,83.71h-1.5" stroke="#707070" stroke-width="0.7"/>
<path d="M359.5,70.85h1.5M609.5,70.85h-1.5" stroke="#707070" stroke-width="0.7"/>
<path d="M359.5,64.42h1.5M609.5,64.42h-1.5" stroke="#707070" stroke-width="0.7"/>
<path d="M359.5,57.99h1.5M609.5,57.99h-1.5" stroke="#707070" stroke-width="0.7"/>
<path d="M359.5,45.13h1.5M609.5,45.13h-1.5" stroke="#707070" stroke-width="0.7"/>
<path d="M359.5,38.7h1.5M609.5,38.7h-1.5" stroke="#707070" stroke-width="0.7"/>
<path d="M359.5,32.27h1.5M609.5,32.27h-1.5" stroke="#707070" stroke-width="0.7"/>
<path d="M359.5,19.41h1.5M609.5,19.41h-1.5" stroke="#707070" stroke-width="0.7"/>
<rect x="359.5" y="13" width="250" height="167.2" fill="none" stroke="#858585" stroke-width="1.0"/>
<text transform="translate(359.5,191.3) scale(0.92,1)" font-size="12.4" text-anchor="middle" font-family="Liberation Serif" letter-spacing="-0.2" stroke="#000" stroke-width="0.18">0.0</text>
<text transform="translate(395.22,191.3) scale(0.92,1)" font-size="12.4" text-anchor="middle" font-family="Liberation Serif" letter-spacing="-0.2" stroke="#000" stroke-width="0.18">0.2</text>
<text transform="translate(430.94,191.3) scale(0.92,1)" font-size="12.4" text-anchor="middle" font-family="Liberation Serif" letter-spacing="-0.2" stroke="#000" stroke-width="0.18">0.4</text>
<text transform="translate(466.66,191.3) scale(0.92,1)" font-size="12.4" text-anchor="middle" font-family="Liberation Serif" letter-spacing="-0.2" stroke="#000" stroke-width="0.18">0.6</text>
<text transform="translate(502.38,191.3) scale(0.92,1)" font-size="12.4" text-anchor="middle" font-family="Liberation Serif" letter-spacing="-0.2" stroke="#000" stroke-width="0.18">0.8</text>
<text transform="translate(538.1,191.3) scale(0.92,1)" font-size="12.4" text-anchor="middle" font-family="Liberation Serif" letter-spacing="-0.2" stroke="#000" stroke-width="0.18">1.0</text>
<text transform="translate(573.82,191.3) scale(0.92,1)" font-size="12.4" text-anchor="middle" font-family="Liberation Serif" letter-spacing="-0.2" stroke="#000" stroke-width="0.18">1.2</text>
<text transform="translate(609.54,191.3) scale(0.92,1)" font-size="12.4" text-anchor="middle" font-family="Liberation Serif" letter-spacing="-0.2" stroke="#000" stroke-width="0.18">1.4</text>
<text transform="translate(357.2,183.56) scale(0.92,1)" font-size="12.4" text-anchor="end" font-family="Liberation Serif" letter-spacing="-0.2" stroke="#000" stroke-width="0.18">−0.6</text>
<text transform="translate(357.2,157.84) scale(0.92,1)" font-size="12.4" text-anchor="end" font-family="Liberation Serif" letter-spacing="-0.2" stroke="#000" stroke-width="0.18">−0.4</text>
<text transform="translate(357.2,132.12) scale(0.92,1)" font-size="12.4" text-anchor="end" font-family="Liberation Serif" letter-spacing="-0.2" stroke="#000" stroke-width="0.18">−0.2</text>
<text transform="translate(357.2,106.4) scale(0.92,1)" font-size="12.4" text-anchor="end" font-family="Liberation Serif" letter-spacing="-0.2" stroke="#000" stroke-width="0.18">0.0</text>
<text transform="translate(357.2,80.68) scale(0.92,1)" font-size="12.4" text-anchor="end" font-family="Liberation Serif" letter-spacing="-0.2" stroke="#000" stroke-width="0.18">0.2</text>
<text transform="translate(357.2,54.96) scale(0.92,1)" font-size="12.4" text-anchor="end" font-family="Liberation Serif" letter-spacing="-0.2" stroke="#000" stroke-width="0.18">0.4</text>
<text transform="translate(357.2,29.24) scale(0.92,1)" font-size="12.4" text-anchor="end" font-family="Liberation Serif" letter-spacing="-0.2" stroke="#000" stroke-width="0.18">0.6</text>
<text x="484.3" y="202" font-size="16" text-anchor="middle" font-family="Liberation Serif" font-style="italic">c</text>
<path d="M482.2,192.4H488.2" stroke="#000" stroke-width="0.9"/>
<g transform="translate(336.6,85.5) rotate(-90)"><text x="0" y="0" font-size="15" text-anchor="middle" font-family="Liberation Serif" font-style="italic">W</text><path d="M-2.6,-11.2H2.8" stroke="#000" stroke-width="0.9"/></g>
<text x="307.8" y="15" font-size="17" text-anchor="start" font-family="Liberation Serif" letter-spacing="0" font-style="italic">b)</text>
<g clip-path="url(#cc)">
<path d="M163.5,224.5V396.4" stroke="#d4d4d4" stroke-width="1"/>
<path d="M92.32,269.81a2.45,2.45 0 1,0 4.9,0a2.45,2.45 0 1,0 -4.9,0M78.86,273.92a2.45,2.45 0 1,0 4.9,0a2.45,2.45 0 1,0 -4.9,0M71.73,275.93a2.45,2.45 0 1,0 4.9,0a2.45,2.45 0 1,0 -4.9,0M66.76,277.33a2.45,2.45 0 1,0 4.9,0a2.45,2.45 0 1,0 -4.9,0M63.05,278.41a2.45,2.45 0 1,0 4.9,0a2.45,2.45 0 1,0 -4.9,0M60.24,279.29a2.45,2.45 0 1,0 4.9,0a2.45,2.45 0 1,0 -4.9,0M58.1,280.03a2.45,2.45 0 1,0 4.9,0a2.45,2.45 0 1,0 -4.9,0M56.52,280.66a2.45,2.45 0 1,0 4.9,0a2.45,2.45 0 1,0 -4.9,0M55.41,281.22a2.45,2.45 0 1,0 4.9,0a2.45,2.45 0 1,0 -4.9,0M54.69,281.71a2.45,2.45 0 1,0 4.9,0a2.45,2.45 0 1,0 -4.9,0M54.34,282.16a2.45,2.45 0 1,0 4.9,0a2.45,2.45 0 1,0 -4.9,0M54.31,282.56a2.45,2.45 0 1,0 4.9,0a2.45,2.45 0 1,0 -4.9,0M54.56,282.93a2.45,2.45 0 1,0 4.9,0a2.45,2.45 0 1,0 -4.9,0M55.09,283.26a2.45,2.45 0 1,0 4.9,0a2.45,2.45 0 1,0 -4.9,0M55.86,283.57a2.45,2.45 0 1,0 4.9,0a2.45,2.45 0 1,0 -4.9,0M56.86,283.86a2.45,2.45 0 1,0 4.9,0a2.45,2.45 0 1,0 -4.9,0M58.08,284.13a2.45,2.45 0 1,0 4.9,0a2.45,2.45 0 1,0 -4.9,0M59.5,284.38a2.45,2.45 0 1,0 4.9,0a2.45,2.45 0 1,0 -4.9,0M61.12,284.61a2.45,2.45 0 1,0 4.9,0a2.45,2.45 0 1,0 -4.9,0M62.92,284.83a2.45,2.45 0 1,0 4.9,0a2.45,2.45 0 1,0 -4.9,0M64.9,285.04a2.45,2.45 0 1,0 4.9,0a2.45,2.45 0 1,0 -4.9,0M67.04,285.23a2.45,2.45 0 1,0 4.9,0a2.45,2.45 0 1,0 -4.9,0M69.34,285.42a2.45,2.45 0 1,0 4.9,0a2.45,2.45 0 1,0 -4.9,0M71.8,285.59a2.45,2.45 0 1,0 4.9,0a2.45,2.45 0 1,0 -4.9,0M74.41,285.76a2.45,2.45 0 1,0 4.9,0a2.45,2.45 0 1,0 -4.9,0M77.17,285.92a2.45,2.45 0 1,0 4.9,0a2.45,2.45 0 1,0 -4.9,0M80.06,286.07a2.45,2.45 0 1,0 4.9,0a2.45,2.45 0 1,0 -4.9,0M83.09,286.22a2.45,2.45 0 1,0 4.9,0a2.45,2.45 0 1,0 -4.9,0M86.25,286.36a2.45,2.45 0 1,0 4.9,0a2.45,2.45 0 1,0 -4.9,0M89.54,286.49a2.45,2.45 0 1,0 4.9,0a2.45,2.45 0 1,0 -4.9,0M92.95,286.62a2.45,2.45 0 1,0 4.9,0a2.45,2.45 0 1,0 -4.9,0M96.49,286.74a2.45,2.45 0 1,0 4.9,0a2.45,2.45 0 1,0 -4.9,0M100.14,286.86a2.45,2.45 0 1,0 4.9,0a2.45,2.45 0 1,0 -4.9,0M103.91,286.97a2.45,2.45 0 1,0 4.9,0a2.45,2.45 0 1,0 -4.9,0M107.79,287.08a2.45,2.45 0 1,0 4.9,0a2.45,2.45 0 1,0 -4.9,0M111.78,287.18a2.45,2.45 0 1,0 4.9,0a2.45,2.45 0 1,0 -4.9,0M115.88,287.28a2.45,2.45 0 1,0 4.9,0a2.45,2.45 0 1,0 -4.9,0M120.08,287.38a2.45,2.45 0 1,0 4.9,0a2.45,2.45 0 1,0 -4.9,0M124.39,287.48a2.45,2.45 0 1,0 4.9,0a2.45,2.45 0 1,0 -4.9,0M128.8,287.57a2.45,2.45 0 1,0 4.9,0a2.45,2.45 0 1,0 -4.9,0M133.31,287.66a2.45,2.45 0 1,0 4.9,0a2.45,2.45 0 1,0 -4.9,0M137.91,287.74a2.45,2.45 0 1,0 4.9,0a2.45,2.45 0 1,0 -4.9,0M142.62,287.82a2.45,2.45 0 1,0 4.9,0a2.45,2.45 0 1,0 -4.9,0M147.42,287.9a2.45,2.45 0 1,0 4.9,0a2.45,2.45 0 1,0 -4.9,0M152.31,287.98a2.45,2.45 0 1,0 4.9,0a2.45,2.45 0 1,0 -4.9,0M157.29,288.06a2.45,2.45 0 1,0 4.9,0a2.45,2.45 0 1,0 -4.9,0M162.36,288.13a2.45,2.45 0 1,0 4.9,0a2.45,2.45 0 1,0 -4.9,0M167.52,288.2a2.45,2.45 0 1,0 4.9,0a2.45,2.45 0 1,0 -4.9,0M172.77,288.27a2.45,2.45 0 1,0 4.9,0a2.45,2.45 0 1,0 -4.9,0M178.11,288.34a2.45,2.45 0 1,0 4.9,0a2.45,2.45 0 1,0 -4.9,0M183.53,288.41a2.45,2.45 0 1,0 4.9,0a2.45,2.45 0 1,0 -4.9,0M189.03,288.47a2.45,2.45 0 1,0 4.9,0a2.45,2.45 0 1,0 -4.9,0M194.62,288.53a2.45,2.45 0 1,0 4.9,0a2.45,2.45 0 1,0 -4.9,0M200.29,288.59a2.45,2.45 0 1,0 4.9,0a2.45,2.45 0 1,0 -4.9,0M206.04,288.65a2.45,2.45 0 1,0 4.9,0a2.45,2.45 0 1,0 -4.9,0M211.87,288.71a2.45,2.45 0 1,0 4.9,0a2.45,2.45 0 1,0 -4.9,0M217.77,288.77a2.45,2.45 0 1,0 4.9,0a2.45,2.45 0 1,0 -4.9,0M223.76,288.82a2.45,2.45 0 1,0 4.9,0a2.45,2.45 0 1,0 -4.9,0M229.82,288.88a2.45,2.45 0 1,0 4.9,0a2.45,2.45 0 1,0 -4.9,0M235.96,288.93a2.45,2.45 0 1,0 4.9,0a2.45,2.45 0 1,0 -4.9,0M242.17,288.98a2.45,2.45 0 1,0 4.9,0a2.45,2.45 0 1,0 -4.9,0M248.46,289.03a2.45,2.45 0 1,0 4.9,0a2.45,2.45 0 1,0 -4.9,0M254.82,289.08a2.45,2.45 0 1,0 4.9,0a2.45,2.45 0 1,0 -4.9,0M261.26,289.13a2.45,2.45 0 1,0 4.9,0a2.45,2.45 0 1,0 -4.9,0M267.76,289.17a2.45,2.45 0 1,0 4.9,0a2.45,2.45 0 1,0 -4.9,0M274.34,289.22a2.45,2.45 0 1,0 4.9,0a2.45,2.45 0 1,0 -4.9,0M280.99,289.26a2.45,2.45 0 1,0 4.9,0a2.45,2.45 0 1,0 -4.9,0M287.7,289.31a2.45,2.45 0 1,0 4.9,0a2.45,2.45 0 1,0 -4.9,0" fill="none" stroke="#3434ff" stroke-width="0.8"/>
<path d="M96.82,334.43L99.13,338.47L94.51,338.47ZM81.83,342.17L84.14,346.22L79.52,346.22ZM74.35,345.65L76.66,349.69L72.04,349.69ZM69.34,347.98L71.65,352.02L67.03,352.02ZM65.8,349.74L68.11,353.78L63.49,353.78ZM63.28,351.14L65.59,355.18L60.97,355.18ZM61.56,352.3L63.87,356.34L59.25,356.34ZM60.49,353.29L62.8,357.33L58.18,357.33ZM59.98,354.15L62.29,358.19L57.67,358.19ZM59.95,354.91L62.26,358.95L57.64,358.95ZM60.34,355.58L62.65,359.62L58.03,359.62ZM61.12,356.18L63.43,360.23L58.81,360.23ZM62.25,356.73L64.56,360.77L59.94,360.77ZM63.71,357.23L66.02,361.27L61.4,361.27ZM65.47,357.69L67.78,361.73L63.16,361.73ZM67.52,358.12L69.83,362.16L65.21,362.16ZM69.83,358.51L72.14,362.55L67.52,362.55ZM72.39,358.87L74.7,362.92L70.08,362.92ZM75.19,359.21L77.5,363.26L72.88,363.26ZM78.22,359.53L80.53,363.58L75.91,363.58ZM81.46,359.83L83.77,363.88L79.15,363.88ZM84.92,360.12L87.23,364.16L82.61,364.16ZM88.58,360.38L90.89,364.43L86.27,364.43ZM92.43,360.64L94.74,364.68L90.12,364.68ZM96.47,360.88L98.78,364.92L94.16,364.92ZM100.7,361.1L103.01,365.15L98.39,365.15ZM105.09,361.32L107.4,365.36L102.78,365.36ZM109.66,361.53L111.97,365.57L107.35,365.57ZM114.4,361.72L116.71,365.76L112.09,365.76ZM119.29,361.91L121.6,365.95L116.98,365.95ZM124.35,362.09L126.66,366.13L122.04,366.13ZM129.55,362.26L131.86,366.31L127.24,366.31ZM134.91,362.43L137.22,366.47L132.6,366.47ZM140.42,362.59L142.73,366.63L138.11,366.63ZM146.06,362.74L148.37,366.78L143.75,366.78ZM151.85,362.89L154.16,366.93L149.54,366.93ZM157.78,363.03L160.09,367.07L155.47,367.07ZM163.84,363.17L166.15,367.21L161.53,367.21ZM170.03,363.3L172.34,367.34L167.72,367.34ZM176.36,363.43L178.67,367.47L174.05,367.47ZM182.81,363.55L185.12,367.59L180.5,367.59ZM189.38,363.67L191.69,367.71L187.07,367.71ZM196.08,363.78L198.39,367.83L193.77,367.83ZM202.91,363.9L205.22,367.94L200.6,367.94ZM209.85,364L212.16,368.05L207.54,368.05ZM216.91,364.11L219.22,368.15L214.6,368.15ZM224.08,364.21L226.39,368.25L221.77,368.25ZM231.37,364.31L233.68,368.35L229.06,368.35ZM238.77,364.41L241.08,368.45L236.46,368.45ZM246.29,364.5L248.6,368.54L243.98,368.54ZM253.91,364.59L256.22,368.63L251.6,368.63ZM261.64,364.68L263.95,368.72L259.33,368.72ZM269.48,364.77L271.79,368.81L267.17,368.81ZM277.43,364.85L279.74,368.89L275.12,368.89ZM285.47,364.93L287.78,368.97L283.16,368.97ZM293.63,365.01L295.94,369.05L291.32,369.05Z" fill="none" stroke="#e86a3a" stroke-width="0.8"/>
<path d="M96.22,360.22h3.68v3.68h-3.68ZM81.51,366.97h3.68v3.68h-3.68ZM74.17,369.88h3.68v3.68h-3.68ZM69.26,371.8h3.68v3.68h-3.68ZM65.78,373.21h3.68v3.68h-3.68ZM63.31,374.33h3.68v3.68h-3.68ZM61.62,375.25h3.68v3.68h-3.68ZM60.58,376.03h3.68v3.68h-3.68ZM60.07,376.7h3.68v3.68h-3.68ZM60.04,377.28h3.68v3.68h-3.68ZM60.43,377.8h3.68v3.68h-3.68ZM61.19,378.26h3.68v3.68h-3.68ZM62.3,378.68h3.68v3.68h-3.68ZM63.73,379.06h3.68v3.68h-3.68ZM65.46,379.41h3.68v3.68h-3.68ZM67.47,379.73h3.68v3.68h-3.68ZM69.73,380.02h3.68v3.68h-3.68ZM72.25,380.29h3.68v3.68h-3.68ZM75,380.55h3.68v3.68h-3.68ZM77.97,380.78h3.68v3.68h-3.68ZM81.16,381h3.68v3.68h-3.68ZM84.55,381.21h3.68v3.68h-3.68ZM88.14,381.41h3.68v3.68h-3.68ZM91.92,381.59h3.68v3.68h-3.68ZM95.89,381.77h3.68v3.68h-3.68ZM100.03,381.94h3.68v3.68h-3.68ZM104.35,382.09h3.68v3.68h-3.68ZM108.83,382.24h3.68v3.68h-3.68ZM113.47,382.39h3.68v3.68h-3.68ZM118.28,382.52h3.68v3.68h-3.68ZM123.24,382.65h3.68v3.68h-3.68ZM128.35,382.78h3.68v3.68h-3.68ZM133.61,382.9h3.68v3.68h-3.68ZM139.01,383.01h3.68v3.68h-3.68ZM144.55,383.12h3.68v3.68h-3.68ZM150.23,383.23h3.68v3.68h-3.68ZM156.05,383.33h3.68v3.68h-3.68ZM162,383.43h3.68v3.68h-3.68ZM168.08,383.52h3.68v3.68h-3.68ZM174.28,383.61h3.68v3.68h-3.68ZM180.61,383.7h3.68v3.68h-3.68ZM187.07,383.79h3.68v3.68h-3.68ZM193.64,383.87h3.68v3.68h-3.68ZM200.34,383.95h3.68v3.68h-3.68ZM207.15,384.02h3.68v3.68h-3.68ZM214.08,384.1h3.68v3.68h-3.68ZM221.12,384.17h3.68v3.68h-3.68ZM228.28,384.24h3.68v3.68h-3.68ZM235.54,384.31h3.68v3.68h-3.68ZM242.91,384.37h3.68v3.68h-3.68ZM250.4,384.44h3.68v3.68h-3.68ZM257.98,384.5h3.68v3.68h-3.68ZM265.68,384.56h3.68v3.68h-3.68ZM273.47,384.62h3.68v3.68h-3.68ZM281.37,384.68h3.68v3.68h-3.68ZM289.37,384.73h3.68v3.68h-3.68Z" fill="none" stroke="#fcc830" stroke-width="0.8"/>
<path d="M163.82,224.5 L163.79,224.62 L163.75,224.84 L163.68,225.14 L163.61,225.48 L163.53,225.87 L163.43,226.3 L163.33,226.76 L163.23,227.26 L163.11,227.78 L162.99,228.33 L162.86,228.91 L162.73,229.51 L162.59,230.13 L162.45,230.76 L162.3,231.42 L162.14,232.09 L161.98,232.78 L161.82,233.48 L161.65,234.2 L161.48,234.92 L161.3,235.66 L161.12,236.41 L160.94,237.16 L160.75,237.93 L160.55,238.7 L160.36,239.48 L160.16,240.26 L159.96,241.05 L159.75,241.85 L159.54,242.65 L159.32,243.45 L159.11,244.26 L158.89,245.07 L158.67,245.88 L158.44,246.7 L158.21,247.51 L157.98,248.33 L157.74,249.14 L157.51,249.96 L157.27,250.78 L157.02,251.59 L156.78,252.41 L156.53,253.22 L156.28,254.04 L156.02,254.85 L155.77,255.66 L155.51,256.46 L155.25,257.27 L154.98,258.07 L154.72,258.87 L154.45,259.66 L154.18,260.46 L153.91,261.25 L153.63,262.03 L153.36,262.81 L153.08,263.59 L152.8,264.37 L152.51,265.14 L152.23,265.9 L151.94,266.66 L151.65,267.42 L151.36,268.17 L151.07,268.92 L150.78,269.66 L150.48,270.4 L150.18,271.14 L149.88,271.87 L149.58,272.59 L149.28,273.31 L148.97,274.02 L148.66,274.73 L148.36,275.44 L148.05,276.13 L147.73,276.83 L147.42,277.52 L147.11,278.2 L146.79,278.88 L146.47,279.55 L146.15,280.22 L145.83,280.88 L145.51,281.53 L145.19,282.19 L144.86,282.83 L144.54,283.47 L144.21,284.11 L143.88,284.74 L143.55,285.36 L143.22,285.98 L142.89,286.6 L142.55,287.21 L142.22,287.81 L141.88,288.41 L141.55,289.01 L141.21,289.59 L140.87,290.18 L140.53,290.76 L140.19,291.33 L139.84,291.9 L139.5,292.46 L139.16,293.02 L138.81,293.57 L138.46,294.12 L138.12,294.67 L137.77,295.21 L137.42,295.74 L137.07,296.27 L136.72,296.79 L136.37,297.31 L136.01,297.83 L135.66,298.34 L135.31,298.85 L134.95,299.35 L134.6,299.85 L134.24,300.34 L133.88,300.83 L133.53,301.31 L133.17,301.79 L132.81,302.26 L132.45,302.73 L132.09,303.2 L131.73,303.66 L131.37,304.12 L131,304.57 L130.64,305.02 L130.28,305.47 L129.91,305.91 L129.55,306.35 L129.18,306.78 L128.82,307.21 L128.45,307.64 L128.09,308.06 L127.72,308.48 L127.36,308.89 L126.99,309.3 L126.62,309.71 L126.25,310.11 L125.88,310.51 L125.52,310.91 L125.15,311.3 L124.78,311.69 L124.41,312.07 L124.04,312.45 L123.67,312.83 L123.3,313.21 L122.93,313.58 L122.56,313.95 L122.19,314.31 L121.82,314.67 L121.45,315.03 L121.07,315.39 L120.7,315.74 L120.33,316.09 L119.96,316.43 L119.59,316.77 L119.22,317.11 L118.85,317.45 L118.47,317.78 L118.1,318.12 L117.73,318.44 L117.36,318.77 L116.99,319.09 L116.62,319.41 L116.25,319.73 L115.87,320.04 L115.5,320.35 L115.13,320.66 L114.76,320.96 L114.39,321.27 L114.02,321.57 L113.65,321.86 L113.28,322.16 L112.91,322.45 L112.54,322.74 L112.17,323.03 L111.8,323.31 L111.43,323.6 L111.06,323.88 L110.69,324.15 L110.33,324.43 L109.96,324.7 L109.59,324.97 L109.22,325.24 L108.86,325.51 L108.49,325.77 L108.12,326.03 L107.76,326.29 L107.39,326.55 L107.03,326.81 L106.66,327.06 L106.3,327.31 L105.93,327.56 L105.57,327.8 L105.21,328.05 L104.85,328.29 L104.49,328.53 L104.12,328.77 L103.76,329.01 L103.4,329.24 L103.04,329.48 L102.69,329.71 L102.33,329.94 L101.97,330.16 L101.61,330.39 L101.26,330.61 L100.9,330.83 L100.55,331.05 L100.19,331.27 L99.84,331.49 L99.49,331.7 L99.13,331.92 L98.78,332.13 L98.43,332.34 L98.08,332.54 L97.73,332.75 L97.39,332.96 L97.04,333.16 L96.69,333.36 L96.35,333.56 L96,333.76 L95.66,333.96 L95.31,334.15 L94.97,334.34 L94.63,334.54 L94.29,334.73 L93.95,334.92 L93.61,335.1 L93.27,335.29 L92.94,335.48 L92.6,335.66 L92.27,335.84 L91.93,336.02 L91.6,336.2 L91.27,336.38 L90.94,336.56 L90.61,336.73 L90.28,336.9 L89.95,337.08 L89.62,337.25 L89.3,337.42 L88.98,337.59 L88.65,337.76 L88.33,337.92 L88.01,338.09 L87.69,338.25 L87.37,338.41 L87.05,338.57 L86.74,338.73 L86.42,338.89 L86.11,339.05 L85.8,339.21 L85.49,339.36 L85.18,339.52 L84.87,339.67 L84.56,339.82 L84.25,339.98 L83.95,340.13 L83.65,340.27 L83.34,340.42 L83.04,340.57 L82.74,340.71 L82.45,340.86 L82.15,341 L81.86,341.15 L81.56,341.29 L81.27,341.43 L80.98,341.57 L80.69,341.71 L80.4,341.84 L80.11,341.98 L79.83,342.12 L79.55,342.25 L79.26,342.39 L78.98,342.52 L78.7,342.65 L78.43,342.78 L78.15,342.91 L77.88,343.04 L77.61,343.17 L77.33,343.3 L77.06,343.42 L76.8,343.55 L76.53,343.67 L76.27,343.8 L76,343.92 L75.74,344.04 L75.48,344.17 L75.23,344.29 L74.97,344.41 L74.71,344.53 L74.46,344.64 L74.21,344.76 L73.96,344.88 L73.71,345 L73.47,345.11 L73.23,345.23 L72.98,345.34 L72.74,345.45 L72.5,345.56 L72.27,345.68 L72.03,345.79 L71.8,345.9 L71.57,346.01 L71.34,346.11 L71.11,346.22 L70.89,346.33 L70.67,346.44 L70.44,346.54 L70.22,346.65 L70.01,346.75 L69.79,346.86 L69.58,346.96 L69.37,347.06 L69.16,347.16 L68.95,347.26 L68.74,347.37 L68.54,347.47 L68.34,347.56 L68.14,347.66 L67.94,347.76 L67.75,347.86 L67.55,347.96 L67.36,348.05 L67.17,348.15 L66.99,348.24 L66.8,348.34 L66.62,348.43 L66.44,348.52 L66.26,348.62 L66.09,348.71 L65.91,348.8 L65.74,348.89 L65.57,348.98 L65.41,349.07 L65.24,349.16 L65.08,349.25 L64.92,349.34 L64.76,349.43 L64.6,349.51 L64.45,349.6 L64.3,349.69 L64.15,349.77 L64.01,349.86 L63.86,349.94 L63.72,350.03 L63.58,350.11 L63.44,350.19 L63.31,350.28 L63.18,350.36 L63.05,350.44 L62.92,350.52 L62.8,350.6 L62.67,350.68 L62.55,350.76 L62.44,350.84 L62.32,350.92 L62.21,351 L62.1,351.08 L61.99,351.15 L61.89,351.23 L61.79,351.31 L61.69,351.38 L61.59,351.46 L61.5,351.54 L61.4,351.61 L61.31,351.68 L61.23,351.76 L61.14,351.83 L61.06,351.91 L60.98,351.98 L60.91,352.05 L60.83,352.12 L60.76,352.19 L60.7,352.26 L60.63,352.34 L60.57,352.41 L60.51,352.48 L60.45,352.55 L60.4,352.61 L60.35,352.68 L60.3,352.75 L60.25,352.82 L60.21,352.89 L60.17,352.95 L60.13,353.02 L60.1,353.09 L60.06,353.15 L60.04,353.22 L60.01,353.29 L59.99,353.35 L59.97,353.42 L59.95,353.48 L59.93,353.54 L59.92,353.61 L59.91,353.67 L59.91,353.73 L59.91,353.8 L59.91,353.86 L59.91,353.92 L59.92,353.98 L59.92,354.04 L59.94,354.11 L59.95,354.17 L59.97,354.23 L59.99,354.29 L60.02,354.35 L60.04,354.41 L60.07,354.46 L60.11,354.52 L60.14,354.58 L60.18,354.64 L60.23,354.7 L60.27,354.76 L60.32,354.81 L60.38,354.87 L60.43,354.93 L60.49,354.98 L60.55,355.04 L60.62,355.1 L60.69,355.15 L60.76,355.21 L60.83,355.26 L60.91,355.32 L60.99,355.37 L61.08,355.42 L61.17,355.48 L61.26,355.53 L61.35,355.58 L61.45,355.64 L61.55,355.69 L61.65,355.74 L61.76,355.8 L61.87,355.85 L61.99,355.9 L62.11,355.95 L62.23,356 L62.35,356.05 L62.48,356.1 L62.61,356.15 L62.75,356.2 L62.89,356.25 L63.03,356.3 L63.17,356.35 L63.32,356.4 L63.48,356.45 L63.63,356.5 L63.79,356.55 L63.96,356.6 L64.12,356.64 L64.29,356.69 L64.47,356.74 L64.64,356.79 L64.82,356.83 L65.01,356.88 L65.2,356.93 L65.39,356.97 L65.58,357.02 L65.78,357.07 L65.99,357.11 L66.19,357.16 L66.4,357.2 L66.62,357.25 L66.83,357.29 L67.05,357.34 L67.28,357.38 L67.51,357.43 L67.74,357.47 L67.98,357.51 L68.21,357.56 L68.46,357.6 L68.71,357.64 L68.96,357.69 L69.21,357.73 L69.47,357.77 L69.73,357.82 L70,357.86 L70.27,357.9 L70.54,357.94 L70.82,357.98 L71.1,358.02 L71.39,358.07 L71.68,358.11 L71.97,358.15 L72.27,358.19 L72.57,358.23 L72.88,358.27 L73.19,358.31 L73.5,358.35 L73.82,358.39 L74.14,358.43 L74.46,358.47 L74.79,358.51 L75.13,358.55 L75.46,358.59 L75.8,358.62 L76.15,358.66 L76.5,358.7 L76.85,358.74 L77.21,358.78 L77.57,358.82 L77.94,358.85 L78.31,358.89 L78.68,358.93 L79.06,358.96 L79.44,359 L79.83,359.04 L80.22,359.08 L80.62,359.11 L81.01,359.15 L81.42,359.18 L81.83,359.22 L82.24,359.26 L82.65,359.29 L83.07,359.33 L83.5,359.36 L83.93,359.4 L84.36,359.43 L84.8,359.47 L85.24,359.5 L85.68,359.54 L86.14,359.57 L86.59,359.61 L87.05,359.64 L87.51,359.67 L87.98,359.71 L88.45,359.74 L88.93,359.78 L89.41,359.81 L89.9,359.84 L90.38,359.88 L90.88,359.91 L91.38,359.94 L91.88,359.97 L92.39,360.01 L92.9,360.04 L93.42,360.07 L93.94,360.1 L94.46,360.14 L94.99,360.17 L95.53,360.2 L96.07,360.23 L96.61,360.26 L97.16,360.3 L97.71,360.33 L98.27,360.36 L98.83,360.39 L99.4,360.42 L99.97,360.45 L100.55,360.48 L101.13,360.51 L101.71,360.54 L102.3,360.57 L102.9,360.6 L103.5,360.63 L104.1,360.66 L104.71,360.69 L105.32,360.72 L105.94,360.75 L106.56,360.78 L107.19,360.81 L107.82,360.84 L108.46,360.87 L109.1,360.9 L109.75,360.93 L110.4,360.95 L111.06,360.98 L111.72,361.01 L112.38,361.04 L113.05,361.07 L113.73,361.1 L114.41,361.12 L115.1,361.15 L115.79,361.18 L116.48,361.21 L117.18,361.24 L117.89,361.26 L118.6,361.29 L119.31,361.32 L120.03,361.34 L120.76,361.37 L121.49,361.4 L122.22,361.43 L122.96,361.45 L123.7,361.48 L124.45,361.51 L125.21,361.53 L125.97,361.56 L126.73,361.58 L127.5,361.61 L128.28,361.64 L129.06,361.66 L129.84,361.69 L130.64,361.71 L131.43,361.74 L132.23,361.77 L133.04,361.79 L133.85,361.82 L134.66,361.84 L135.48,361.87 L136.31,361.89 L137.14,361.92 L137.98,361.94 L138.82,361.97 L139.67,361.99 L140.52,362.01 L141.38,362.04 L142.24,362.06 L143.11,362.09 L143.98,362.11 L144.86,362.14 L145.75,362.16 L146.63,362.18 L147.53,362.21 L148.43,362.23 L149.33,362.26 L150.25,362.28 L151.16,362.3 L152.08,362.33 L153.01,362.35 L153.94,362.37 L154.88,362.4 L155.82,362.42 L156.77,362.44 L157.72,362.46 L158.68,362.49 L159.65,362.51 L160.62,362.53 L161.59,362.55 L162.58,362.58 L163.56,362.6 L164.55,362.62 L165.55,362.64 L166.56,362.67 L167.56,362.69 L168.58,362.71 L169.6,362.73 L170.62,362.75 L171.65,362.78 L172.69,362.8 L173.73,362.82 L174.78,362.84 L175.83,362.86 L176.89,362.88 L177.96,362.9 L179.03,362.93 L180.1,362.95 L181.19,362.97 L182.27,362.99 L183.37,363.01 L184.47,363.03 L185.57,363.05 L186.68,363.07 L187.8,363.09 L188.92,363.11 L190.05,363.13 L191.18,363.15 L192.32,363.17 L193.46,363.19 L194.61,363.21 L195.77,363.23 L196.93,363.25 L198.1,363.27 L199.27,363.29 L200.45,363.31 L201.64,363.33 L202.83,363.35 L204.03,363.37 L205.23,363.39 L206.44,363.41 L207.66,363.43 L208.88,363.45 L210.11,363.47 L211.34,363.49 L212.58,363.51 L213.82,363.53 L215.07,363.55 L216.33,363.56 L217.59,363.58 L218.86,363.6 L220.14,363.62 L221.42,363.64 L222.71,363.66 L224,363.68 L225.3,363.7 L226.6,363.71 L227.92,363.73 L229.23,363.75 L230.56,363.77 L231.89,363.79 L233.22,363.8 L234.56,363.82 L235.91,363.84 L237.27,363.86 L238.63,363.88 L239.99,363.89 L241.37,363.91 L242.75,363.93 L244.13,363.95 L245.52,363.96 L246.92,363.98 L248.33,364 L249.74,364.02 L251.15,364.03 L252.58,364.05 L254,364.07 L255.44,364.09 L256.88,364.1 L258.33,364.12 L259.78,364.14 L261.25,364.15 L262.71,364.17 L264.19,364.19 L265.67,364.2 L267.15,364.22 L268.64,364.24 L270.14,364.25 L271.65,364.27 L273.16,364.29 L274.68,364.3 L276.2,364.32 L277.74,364.34 L279.27,364.35 L280.82,364.37 L282.37,364.39 L283.93,364.4 L285.49,364.42 L287.06,364.43 L288.64,364.45 L290.22,364.47 L291.81,364.48 L293.41,364.5 L295.01,364.51 L296.62,364.53 L298.23,364.54 L299.86,364.56 L301.49,364.58" fill="none" stroke="#e0561a" stroke-width="1.8"/>
<path d="M163.82,224.5 L163.79,224.65 L163.75,224.94 L163.69,225.34 L163.61,225.82 L163.53,226.37 L163.44,226.99 L163.34,227.66 L163.24,228.39 L163.12,229.16 L163,229.98 L162.88,230.84 L162.75,231.73 L162.61,232.66 L162.47,233.62 L162.32,234.61 L162.17,235.62 L162.02,236.65 L161.86,237.71 L161.69,238.79 L161.52,239.88 L161.35,240.99 L161.17,242.12 L160.99,243.25 L160.8,244.4 L160.62,245.56 L160.42,246.73 L160.23,247.9 L160.03,249.08 L159.82,250.26 L159.62,251.45 L159.41,252.64 L159.2,253.83 L158.98,255.02 L158.76,256.21 L158.54,257.4 L158.31,258.59 L158.09,259.78 L157.86,260.97 L157.62,262.15 L157.39,263.32 L157.15,264.49 L156.91,265.66 L156.66,266.82 L156.42,267.97 L156.17,269.12 L155.92,270.26 L155.66,271.4 L155.41,272.52 L155.15,273.64 L154.89,274.75 L154.62,275.85 L154.36,276.94 L154.09,278.03 L153.82,279.1 L153.55,280.17 L153.28,281.22 L153,282.27 L152.72,283.31 L152.44,284.33 L152.16,285.35 L151.88,286.36 L151.59,287.36 L151.31,288.35 L151.02,289.32 L150.73,290.29 L150.43,291.25 L150.14,292.2 L149.84,293.14 L149.55,294.06 L149.25,294.98 L148.95,295.89 L148.64,296.79 L148.34,297.67 L148.03,298.55 L147.73,299.42 L147.42,300.28 L147.11,301.13 L146.79,301.97 L146.48,302.79 L146.17,303.61 L145.85,304.42 L145.53,305.23 L145.21,306.02 L144.89,306.8 L144.57,307.57 L144.25,308.33 L143.93,309.09 L143.6,309.83 L143.28,310.57 L142.95,311.3 L142.62,312.02 L142.29,312.73 L141.96,313.43 L141.63,314.13 L141.29,314.81 L140.96,315.49 L140.63,316.16 L140.29,316.82 L139.95,317.47 L139.61,318.12 L139.28,318.75 L138.94,319.38 L138.59,320.01 L138.25,320.62 L137.91,321.23 L137.57,321.83 L137.22,322.42 L136.88,323.01 L136.53,323.59 L136.18,324.16 L135.84,324.72 L135.49,325.28 L135.14,325.83 L134.79,326.38 L134.44,326.91 L134.09,327.45 L133.74,327.97 L133.38,328.49 L133.03,329 L132.68,329.51 L132.32,330.01 L131.97,330.51 L131.61,331 L131.26,331.48 L130.9,331.96 L130.54,332.43 L130.19,332.9 L129.83,333.36 L129.47,333.81 L129.11,334.27 L128.75,334.71 L128.39,335.15 L128.03,335.59 L127.67,336.02 L127.31,336.44 L126.95,336.86 L126.59,337.28 L126.23,337.69 L125.87,338.09 L125.5,338.49 L125.14,338.89 L124.78,339.28 L124.42,339.67 L124.05,340.05 L123.69,340.43 L123.33,340.81 L122.96,341.18 L122.6,341.55 L122.23,341.91 L121.87,342.27 L121.5,342.62 L121.14,342.97 L120.78,343.32 L120.41,343.66 L120.05,344 L119.68,344.34 L119.32,344.67 L118.95,345 L118.59,345.32 L118.22,345.64 L117.86,345.96 L117.49,346.27 L117.13,346.58 L116.77,346.89 L116.4,347.19 L116.04,347.5 L115.67,347.79 L115.31,348.09 L114.95,348.38 L114.58,348.67 L114.22,348.95 L113.86,349.24 L113.49,349.51 L113.13,349.79 L112.77,350.06 L112.4,350.34 L112.04,350.6 L111.68,350.87 L111.32,351.13 L110.96,351.39 L110.6,351.65 L110.24,351.9 L109.88,352.15 L109.52,352.4 L109.16,352.65 L108.8,352.9 L108.44,353.14 L108.08,353.38 L107.73,353.61 L107.37,353.85 L107.01,354.08 L106.65,354.31 L106.3,354.54 L105.94,354.76 L105.59,354.99 L105.23,355.21 L104.88,355.43 L104.53,355.64 L104.17,355.86 L103.82,356.07 L103.47,356.28 L103.12,356.49 L102.77,356.7 L102.42,356.9 L102.07,357.11 L101.72,357.31 L101.38,357.51 L101.03,357.7 L100.68,357.9 L100.34,358.09 L99.99,358.28 L99.65,358.47 L99.31,358.66 L98.96,358.85 L98.62,359.03 L98.28,359.21 L97.94,359.4 L97.6,359.57 L97.26,359.75 L96.92,359.93 L96.59,360.1 L96.25,360.28 L95.92,360.45 L95.58,360.62 L95.25,360.79 L94.92,360.95 L94.59,361.12 L94.25,361.28 L93.93,361.44 L93.6,361.61 L93.27,361.77 L92.94,361.92 L92.62,362.08 L92.29,362.24 L91.97,362.39 L91.65,362.54 L91.32,362.69 L91,362.84 L90.69,362.99 L90.37,363.14 L90.05,363.29 L89.73,363.43 L89.42,363.57 L89.11,363.72 L88.79,363.86 L88.48,364 L88.17,364.14 L87.86,364.28 L87.55,364.41 L87.25,364.55 L86.94,364.68 L86.64,364.81 L86.34,364.95 L86.03,365.08 L85.73,365.21 L85.43,365.34 L85.14,365.46 L84.84,365.59 L84.55,365.72 L84.25,365.84 L83.96,365.96 L83.67,366.09 L83.38,366.21 L83.09,366.33 L82.8,366.45 L82.52,366.57 L82.23,366.69 L81.95,366.8 L81.67,366.92 L81.39,367.03 L81.11,367.15 L80.84,367.26 L80.56,367.37 L80.29,367.48 L80.02,367.59 L79.74,367.7 L79.48,367.81 L79.21,367.92 L78.94,368.03 L78.68,368.13 L78.42,368.24 L78.15,368.34 L77.89,368.45 L77.64,368.55 L77.38,368.65 L77.13,368.76 L76.87,368.86 L76.62,368.96 L76.37,369.06 L76.12,369.15 L75.88,369.25 L75.63,369.35 L75.39,369.44 L75.15,369.54 L74.91,369.64 L74.67,369.73 L74.44,369.82 L74.2,369.92 L73.97,370.01 L73.74,370.1 L73.51,370.19 L73.29,370.28 L73.06,370.37 L72.84,370.46 L72.62,370.55 L72.4,370.63 L72.18,370.72 L71.96,370.81 L71.75,370.89 L71.54,370.98 L71.33,371.06 L71.12,371.15 L70.92,371.23 L70.71,371.31 L70.51,371.39 L70.31,371.47 L70.11,371.56 L69.92,371.64 L69.73,371.71 L69.53,371.79 L69.34,371.87 L69.16,371.95 L68.97,372.03 L68.79,372.11 L68.61,372.18 L68.43,372.26 L68.25,372.33 L68.08,372.41 L67.9,372.48 L67.73,372.56 L67.57,372.63 L67.4,372.7 L67.24,372.77 L67.07,372.85 L66.91,372.92 L66.76,372.99 L66.6,373.06 L66.45,373.13 L66.3,373.2 L66.15,373.27 L66.01,373.34 L65.86,373.4 L65.72,373.47 L65.58,373.54 L65.45,373.61 L65.31,373.67 L65.18,373.74 L65.05,373.8 L64.92,373.87 L64.8,373.93 L64.68,374 L64.56,374.06 L64.44,374.13 L64.32,374.19 L64.21,374.25 L64.1,374.31 L63.99,374.37 L63.89,374.44 L63.78,374.5 L63.68,374.56 L63.59,374.62 L63.49,374.68 L63.4,374.74 L63.31,374.8 L63.22,374.85 L63.14,374.91 L63.05,374.97 L62.97,375.03 L62.9,375.09 L62.82,375.14 L62.75,375.2 L62.68,375.26 L62.61,375.31 L62.55,375.37 L62.49,375.42 L62.43,375.48 L62.37,375.53 L62.32,375.59 L62.27,375.64 L62.22,375.69 L62.18,375.75 L62.14,375.8 L62.1,375.85 L62.06,375.9 L62.02,375.96 L61.99,376.01 L61.97,376.06 L61.94,376.11 L61.92,376.16 L61.9,376.21 L61.88,376.26 L61.87,376.31 L61.85,376.36 L61.85,376.41 L61.84,376.46 L61.84,376.51 L61.84,376.56 L61.84,376.6 L61.85,376.65 L61.86,376.7 L61.87,376.75 L61.88,376.79 L61.9,376.84 L61.92,376.89 L61.95,376.93 L61.97,376.98 L62,377.02 L62.04,377.07 L62.07,377.11 L62.11,377.16 L62.15,377.2 L62.2,377.25 L62.25,377.29 L62.3,377.34 L62.35,377.38 L62.41,377.42 L62.47,377.47 L62.54,377.51 L62.6,377.55 L62.67,377.59 L62.75,377.63 L62.82,377.68 L62.9,377.72 L62.99,377.76 L63.07,377.8 L63.16,377.84 L63.26,377.88 L63.35,377.92 L63.45,377.96 L63.55,378 L63.66,378.04 L63.77,378.08 L63.88,378.12 L64,378.16 L64.12,378.2 L64.24,378.24 L64.37,378.28 L64.5,378.32 L64.63,378.35 L64.76,378.39 L64.9,378.43 L65.05,378.47 L65.19,378.51 L65.34,378.54 L65.5,378.58 L65.65,378.62 L65.81,378.65 L65.98,378.69 L66.14,378.73 L66.31,378.76 L66.49,378.8 L66.66,378.83 L66.85,378.87 L67.03,378.9 L67.22,378.94 L67.41,378.97 L67.61,379.01 L67.8,379.04 L68.01,379.08 L68.21,379.11 L68.42,379.14 L68.64,379.18 L68.85,379.21 L69.07,379.25 L69.3,379.28 L69.53,379.31 L69.76,379.35 L69.99,379.38 L70.23,379.41 L70.47,379.44 L70.72,379.48 L70.97,379.51 L71.22,379.54 L71.48,379.57 L71.74,379.6 L72.01,379.63 L72.28,379.67 L72.55,379.7 L72.83,379.73 L73.11,379.76 L73.39,379.79 L73.68,379.82 L73.97,379.85 L74.27,379.88 L74.57,379.91 L74.87,379.94 L75.18,379.97 L75.49,380 L75.81,380.03 L76.12,380.06 L76.45,380.09 L76.77,380.12 L77.11,380.15 L77.44,380.17 L77.78,380.2 L78.12,380.23 L78.47,380.26 L78.82,380.29 L79.18,380.32 L79.53,380.34 L79.9,380.37 L80.27,380.4 L80.64,380.43 L81.01,380.46 L81.39,380.48 L81.77,380.51 L82.16,380.54 L82.55,380.56 L82.95,380.59 L83.35,380.62 L83.75,380.64 L84.16,380.67 L84.57,380.7 L84.99,380.72 L85.41,380.75 L85.84,380.77 L86.27,380.8 L86.7,380.83 L87.14,380.85 L87.58,380.88 L88.03,380.9 L88.48,380.93 L88.93,380.95 L89.39,380.98 L89.85,381 L90.32,381.03 L90.79,381.05 L91.27,381.08 L91.75,381.1 L92.24,381.13 L92.72,381.15 L93.22,381.17 L93.72,381.2 L94.22,381.22 L94.73,381.25 L95.24,381.27 L95.75,381.29 L96.27,381.32 L96.8,381.34 L97.33,381.36 L97.86,381.39 L98.4,381.41 L98.94,381.43 L99.49,381.45 L100.04,381.48 L100.6,381.5 L101.16,381.52 L101.72,381.54 L102.29,381.57 L102.87,381.59 L103.45,381.61 L104.03,381.63 L104.62,381.66 L105.21,381.68 L105.81,381.7 L106.41,381.72 L107.02,381.74 L107.63,381.76 L108.24,381.78 L108.86,381.81 L109.49,381.83 L110.12,381.85 L110.75,381.87 L111.39,381.89 L112.04,381.91 L112.69,381.93 L113.34,381.95 L114,381.97 L114.66,381.99 L115.33,382.01 L116,382.03 L116.68,382.05 L117.36,382.07 L118.05,382.09 L118.74,382.11 L119.44,382.13 L120.14,382.15 L120.85,382.17 L121.56,382.19 L122.27,382.21 L122.99,382.23 L123.72,382.25 L124.45,382.27 L125.19,382.29 L125.93,382.31 L126.67,382.33 L127.42,382.35 L128.18,382.37 L128.94,382.38 L129.71,382.4 L130.48,382.42 L131.25,382.44 L132.03,382.46 L132.82,382.48 L133.61,382.5 L134.4,382.51 L135.21,382.53 L136.01,382.55 L136.82,382.57 L137.64,382.59 L138.46,382.6 L139.29,382.62 L140.12,382.64 L140.95,382.66 L141.8,382.68 L142.64,382.69 L143.49,382.71 L144.35,382.73 L145.21,382.75 L146.08,382.76 L146.95,382.78 L147.83,382.8 L148.72,382.81 L149.6,382.83 L150.5,382.85 L151.4,382.86 L152.3,382.88 L153.21,382.9 L154.13,382.91 L155.05,382.93 L155.97,382.95 L156.9,382.96 L157.84,382.98 L158.78,383 L159.73,383.01 L160.68,383.03 L161.64,383.05 L162.6,383.06 L163.57,383.08 L164.54,383.09 L165.52,383.11 L166.5,383.13 L167.49,383.14 L168.49,383.16 L169.49,383.17 L170.5,383.19 L171.51,383.2 L172.53,383.22 L173.55,383.23 L174.58,383.25 L175.61,383.27 L176.65,383.28 L177.7,383.3 L178.75,383.31 L179.8,383.33 L180.86,383.34 L181.93,383.36 L183,383.37 L184.08,383.39 L185.17,383.4 L186.26,383.41 L187.35,383.43 L188.45,383.44 L189.56,383.46 L190.67,383.47 L191.79,383.49 L192.91,383.5 L194.04,383.52 L195.18,383.53 L196.32,383.54 L197.46,383.56 L198.62,383.57 L199.77,383.59 L200.94,383.6 L202.11,383.62 L203.28,383.63 L204.46,383.64 L205.65,383.66 L206.84,383.67 L208.04,383.68 L209.25,383.7 L210.46,383.71 L211.67,383.72 L212.89,383.74 L214.12,383.75 L215.35,383.77 L216.59,383.78 L217.84,383.79 L219.09,383.81 L220.35,383.82 L221.61,383.83 L222.88,383.84 L224.16,383.86 L225.44,383.87 L226.72,383.88 L228.02,383.9 L229.32,383.91 L230.62,383.92 L231.93,383.94 L233.25,383.95 L234.57,383.96 L235.9,383.97 L237.24,383.99 L238.58,384 L239.93,384.01 L241.28,384.02 L242.64,384.04 L244,384.05 L245.38,384.06 L246.75,384.07 L248.14,384.09 L249.53,384.1 L250.92,384.11 L252.33,384.12 L253.74,384.13 L255.15,384.15 L256.57,384.16 L258,384.17 L259.43,384.18 L260.87,384.19 L262.32,384.21 L263.77,384.22 L265.23,384.23 L266.7,384.24 L268.17,384.25 L269.64,384.26 L271.13,384.28 L272.62,384.29 L274.11,384.3 L275.62,384.31 L277.13,384.32 L278.64,384.33 L280.16,384.34 L281.69,384.36 L283.23,384.37 L284.77,384.38 L286.32,384.39 L287.87,384.4 L289.43,384.41 L291,384.42 L292.57,384.43 L294.15,384.44 L295.74,384.46 L297.33,384.47 L298.93,384.48 L300.53,384.49" fill="none" stroke="#fcc21a" stroke-width="1.8"/>
<path d="M163.82,224.5 L163.79,224.52 L163.74,224.57 L163.68,224.63 L163.6,224.7 L163.52,224.79 L163.42,224.89 L163.32,225 L163.21,225.11 L163.09,225.24 L162.96,225.37 L162.83,225.51 L162.69,225.66 L162.55,225.82 L162.4,225.98 L162.25,226.15 L162.09,226.32 L161.93,226.5 L161.76,226.69 L161.58,226.88 L161.41,227.08 L161.22,227.28 L161.04,227.48 L160.85,227.69 L160.65,227.91 L160.45,228.12 L160.25,228.34 L160.05,228.57 L159.84,228.8 L159.62,229.03 L159.41,229.26 L159.19,229.5 L158.96,229.74 L158.74,229.99 L158.51,230.23 L158.27,230.48 L158.04,230.73 L157.8,230.99 L157.56,231.24 L157.31,231.5 L157.06,231.76 L156.81,232.02 L156.56,232.28 L156.31,232.54 L156.05,232.81 L155.78,233.07 L155.52,233.34 L155.25,233.61 L154.99,233.88 L154.71,234.15 L154.44,234.42 L154.16,234.69 L153.89,234.97 L153.61,235.24 L153.32,235.51 L153.04,235.79 L152.75,236.06 L152.46,236.34 L152.17,236.61 L151.88,236.89 L151.58,237.16 L151.28,237.44 L150.98,237.71 L150.68,237.99 L150.38,238.26 L150.07,238.54 L149.76,238.82 L149.45,239.09 L149.14,239.36 L148.83,239.64 L148.52,239.91 L148.2,240.19 L147.88,240.46 L147.56,240.73 L147.24,241 L146.92,241.27 L146.6,241.54 L146.27,241.81 L145.94,242.08 L145.61,242.35 L145.28,242.62 L144.95,242.89 L144.62,243.15 L144.28,243.42 L143.95,243.68 L143.61,243.94 L143.27,244.21 L142.93,244.47 L142.59,244.73 L142.25,244.99 L141.9,245.25 L141.56,245.5 L141.21,245.76 L140.87,246.01 L140.52,246.27 L140.17,246.52 L139.82,246.77 L139.46,247.02 L139.11,247.27 L138.76,247.52 L138.4,247.77 L138.05,248.02 L137.69,248.26 L137.33,248.5 L136.97,248.75 L136.61,248.99 L136.25,249.23 L135.89,249.47 L135.53,249.71 L135.17,249.94 L134.8,250.18 L134.44,250.41 L134.07,250.64 L133.7,250.87 L133.34,251.1 L132.97,251.33 L132.6,251.56 L132.23,251.79 L131.86,252.01 L131.49,252.24 L131.12,252.46 L130.75,252.68 L130.37,252.9 L130,253.12 L129.63,253.33 L129.25,253.55 L128.88,253.76 L128.5,253.98 L128.13,254.19 L127.75,254.4 L127.37,254.61 L127,254.82 L126.62,255.03 L126.24,255.23 L125.86,255.44 L125.48,255.64 L125.11,255.84 L124.73,256.04 L124.35,256.24 L123.97,256.44 L123.59,256.64 L123.2,256.83 L122.82,257.03 L122.44,257.22 L122.06,257.41 L121.68,257.6 L121.3,257.79 L120.92,257.98 L120.53,258.17 L120.15,258.35 L119.77,258.54 L119.39,258.72 L119,258.9 L118.62,259.08 L118.24,259.26 L117.86,259.44 L117.47,259.62 L117.09,259.79 L116.71,259.97 L116.32,260.14 L115.94,260.32 L115.56,260.49 L115.18,260.66 L114.79,260.83 L114.41,261 L114.03,261.16 L113.65,261.33 L113.26,261.5 L112.88,261.66 L112.5,261.82 L112.12,261.98 L111.74,262.14 L111.35,262.3 L110.97,262.46 L110.59,262.62 L110.21,262.78 L109.83,262.93 L109.45,263.09 L109.07,263.24 L108.69,263.39 L108.31,263.54 L107.93,263.69 L107.56,263.84 L107.18,263.99 L106.8,264.14 L106.42,264.28 L106.05,264.43 L105.67,264.57 L105.29,264.72 L104.92,264.86 L104.54,265 L104.17,265.14 L103.79,265.28 L103.42,265.42 L103.05,265.56 L102.67,265.69 L102.3,265.83 L101.93,265.96 L101.56,266.1 L101.19,266.23 L100.82,266.36 L100.45,266.49 L100.08,266.62 L99.71,266.75 L99.35,266.88 L98.98,267.01 L98.62,267.14 L98.25,267.26 L97.89,267.39 L97.52,267.51 L97.16,267.64 L96.8,267.76 L96.44,267.88 L96.08,268 L95.72,268.12 L95.36,268.24 L95,268.36 L94.64,268.48 L94.29,268.6 L93.93,268.71 L93.58,268.83 L93.22,268.94 L92.87,269.06 L92.52,269.17 L92.17,269.29 L91.82,269.4 L91.47,269.51 L91.12,269.62 L90.77,269.73 L90.43,269.84 L90.08,269.95 L89.74,270.05 L89.39,270.16 L89.05,270.27 L88.71,270.37 L88.37,270.48 L88.03,270.58 L87.7,270.68 L87.36,270.79 L87.02,270.89 L86.69,270.99 L86.36,271.09 L86.03,271.19 L85.69,271.29 L85.37,271.39 L85.04,271.49 L84.71,271.59 L84.38,271.68 L84.06,271.78 L83.74,271.88 L83.42,271.97 L83.09,272.07 L82.78,272.16 L82.46,272.25 L82.14,272.35 L81.83,272.44 L81.51,272.53 L81.2,272.62 L80.89,272.71 L80.58,272.8 L80.27,272.89 L79.96,272.98 L79.66,273.07 L79.35,273.15 L79.05,273.24 L78.75,273.33 L78.45,273.41 L78.15,273.5 L77.85,273.58 L77.56,273.67 L77.27,273.75 L76.97,273.84 L76.68,273.92 L76.39,274 L76.11,274.08 L75.82,274.16 L75.54,274.25 L75.25,274.33 L74.97,274.41 L74.69,274.48 L74.42,274.56 L74.14,274.64 L73.87,274.72 L73.59,274.8 L73.32,274.87 L73.05,274.95 L72.79,275.03 L72.52,275.1 L72.26,275.18 L71.99,275.25 L71.73,275.33 L71.48,275.4 L71.22,275.47 L70.96,275.55 L70.71,275.62 L70.46,275.69 L70.21,275.76 L69.96,275.83 L69.72,275.9 L69.47,275.97 L69.23,276.04 L68.99,276.11 L68.75,276.18 L68.52,276.25 L68.28,276.32 L68.05,276.39 L67.82,276.45 L67.59,276.52 L67.37,276.59 L67.14,276.65 L66.92,276.72 L66.7,276.79 L66.48,276.85 L66.27,276.91 L66.05,276.98 L65.84,277.04 L65.63,277.11 L65.42,277.17 L65.22,277.23 L65.02,277.3 L64.81,277.36 L64.62,277.42 L64.42,277.48 L64.22,277.54 L64.03,277.6 L63.84,277.66 L63.65,277.72 L63.47,277.78 L63.28,277.84 L63.1,277.9 L62.92,277.96 L62.75,278.02 L62.57,278.08 L62.4,278.13 L62.23,278.19 L62.06,278.25 L61.9,278.3 L61.74,278.36 L61.58,278.42 L61.42,278.47 L61.26,278.53 L61.11,278.58 L60.96,278.64 L60.81,278.69 L60.66,278.75 L60.52,278.8 L60.38,278.85 L60.24,278.91 L60.11,278.96 L59.97,279.01 L59.84,279.06 L59.71,279.12 L59.59,279.17 L59.46,279.22 L59.34,279.27 L59.22,279.32 L59.11,279.37 L58.99,279.42 L58.88,279.47 L58.78,279.52 L58.67,279.57 L58.57,279.62 L58.47,279.67 L58.37,279.72 L58.28,279.77 L58.19,279.82 L58.1,279.87 L58.01,279.91 L57.93,279.96 L57.84,280.01 L57.77,280.06 L57.69,280.1 L57.62,280.15 L57.55,280.19 L57.48,280.24 L57.42,280.29 L57.35,280.33 L57.3,280.38 L57.24,280.42 L57.19,280.47 L57.14,280.51 L57.09,280.56 L57.05,280.6 L57,280.64 L56.96,280.69 L56.93,280.73 L56.9,280.77 L56.87,280.82 L56.84,280.86 L56.82,280.9 L56.79,280.95 L56.78,280.99 L56.76,281.03 L56.75,281.07 L56.74,281.11 L56.74,281.15 L56.73,281.19 L56.73,281.24 L56.74,281.28 L56.74,281.32 L56.75,281.36 L56.76,281.4 L56.78,281.44 L56.8,281.48 L56.82,281.52 L56.85,281.55 L56.88,281.59 L56.91,281.63 L56.94,281.67 L56.98,281.71 L57.02,281.75 L57.06,281.79 L57.11,281.82 L57.16,281.86 L57.22,281.9 L57.27,281.94 L57.34,281.97 L57.4,282.01 L57.47,282.05 L57.54,282.08 L57.61,282.12 L57.69,282.16 L57.77,282.19 L57.85,282.23 L57.94,282.26 L58.03,282.3 L58.13,282.33 L58.22,282.37 L58.32,282.4 L58.43,282.44 L58.54,282.47 L58.65,282.51 L58.76,282.54 L58.88,282.58 L59,282.61 L59.13,282.64 L59.26,282.68 L59.39,282.71 L59.52,282.75 L59.66,282.78 L59.81,282.81 L59.95,282.84 L60.1,282.88 L60.26,282.91 L60.41,282.94 L60.57,282.97 L60.74,283.01 L60.91,283.04 L61.08,283.07 L61.25,283.1 L61.43,283.13 L61.61,283.16 L61.8,283.2 L61.99,283.23 L62.19,283.26 L62.38,283.29 L62.58,283.32 L62.79,283.35 L63,283.38 L63.21,283.41 L63.43,283.44 L63.65,283.47 L63.87,283.5 L64.1,283.53 L64.33,283.56 L64.57,283.59 L64.81,283.62 L65.05,283.65 L65.3,283.68 L65.55,283.7 L65.8,283.73 L66.06,283.76 L66.32,283.79 L66.59,283.82 L66.86,283.85 L67.13,283.87 L67.41,283.9 L67.7,283.93 L67.98,283.96 L68.27,283.99 L68.57,284.01 L68.87,284.04 L69.17,284.07 L69.47,284.09 L69.79,284.12 L70.1,284.15 L70.42,284.17 L70.74,284.2 L71.07,284.23 L71.4,284.25 L71.73,284.28 L72.07,284.31 L72.42,284.33 L72.77,284.36 L73.12,284.38 L73.47,284.41 L73.83,284.43 L74.2,284.46 L74.57,284.49 L74.94,284.51 L75.32,284.54 L75.7,284.56 L76.08,284.59 L76.47,284.61 L76.87,284.64 L77.26,284.66 L77.67,284.68 L78.07,284.71 L78.49,284.73 L78.9,284.76 L79.32,284.78 L79.75,284.8 L80.17,284.83 L80.61,284.85 L81.05,284.88 L81.49,284.9 L81.93,284.92 L82.38,284.95 L82.84,284.97 L83.3,284.99 L83.76,285.02 L84.23,285.04 L84.7,285.06 L85.18,285.08 L85.66,285.11 L86.15,285.13 L86.64,285.15 L87.14,285.17 L87.64,285.2 L88.14,285.22 L88.65,285.24 L89.17,285.26 L89.68,285.28 L90.21,285.31 L90.74,285.33 L91.27,285.35 L91.8,285.37 L92.35,285.39 L92.89,285.41 L93.44,285.44 L94,285.46 L94.56,285.48 L95.12,285.5 L95.69,285.52 L96.27,285.54 L96.85,285.56 L97.43,285.58 L98.02,285.6 L98.61,285.62 L99.21,285.64 L99.82,285.66 L100.42,285.68 L101.04,285.7 L101.65,285.72 L102.28,285.74 L102.9,285.76 L103.54,285.78 L104.17,285.8 L104.81,285.82 L105.46,285.84 L106.11,285.86 L106.77,285.88 L107.43,285.9 L108.1,285.92 L108.77,285.94 L109.45,285.96 L110.13,285.98 L110.81,286 L111.5,286.02 L112.2,286.03 L112.9,286.05 L113.61,286.07 L114.32,286.09 L115.04,286.11 L115.76,286.13 L116.48,286.15 L117.22,286.16 L117.95,286.18 L118.69,286.2 L119.44,286.22 L120.19,286.24 L120.95,286.25 L121.71,286.27 L122.48,286.29 L123.25,286.31 L124.03,286.33 L124.81,286.34 L125.6,286.36 L126.4,286.38 L127.19,286.4 L128,286.41 L128.81,286.43 L129.62,286.45 L130.44,286.47 L131.27,286.48 L132.1,286.5 L132.93,286.52 L133.77,286.53 L134.62,286.55 L135.47,286.57 L136.33,286.58 L137.19,286.6 L138.06,286.62 L138.93,286.63 L139.81,286.65 L140.69,286.67 L141.58,286.68 L142.48,286.7 L143.38,286.71 L144.28,286.73 L145.19,286.75 L146.11,286.76 L147.03,286.78 L147.96,286.79 L148.89,286.81 L149.83,286.83 L150.77,286.84 L151.72,286.86 L152.68,286.87 L153.64,286.89 L154.61,286.9 L155.58,286.92 L156.56,286.94 L157.54,286.95 L158.53,286.97 L159.52,286.98 L160.52,287 L161.53,287.01 L162.54,287.03 L163.55,287.04 L164.58,287.06 L165.6,287.07 L166.64,287.09 L167.68,287.1 L168.72,287.12 L169.77,287.13 L170.83,287.14 L171.89,287.16 L172.96,287.17 L174.04,287.19 L175.12,287.2 L176.2,287.22 L177.29,287.23 L178.39,287.25 L179.49,287.26 L180.6,287.27 L181.72,287.29 L182.84,287.3 L183.96,287.32 L185.1,287.33 L186.23,287.34 L187.38,287.36 L188.53,287.37 L189.68,287.39 L190.85,287.4 L192.01,287.41 L193.19,287.43 L194.37,287.44 L195.55,287.45 L196.75,287.47 L197.94,287.48 L199.15,287.49 L200.36,287.51 L201.57,287.52 L202.8,287.53 L204.02,287.55 L205.26,287.56 L206.5,287.57 L207.74,287.59 L209,287.6 L210.25,287.61 L211.52,287.62 L212.79,287.64 L214.07,287.65 L215.35,287.66 L216.64,287.68 L217.93,287.69 L219.24,287.7 L220.54,287.71 L221.86,287.73 L223.18,287.74 L224.5,287.75 L225.84,287.76 L227.18,287.78 L228.52,287.79 L229.87,287.8 L231.23,287.81 L232.59,287.83 L233.96,287.84 L235.34,287.85 L236.72,287.86 L238.11,287.87 L239.51,287.89 L240.91,287.9 L242.32,287.91 L243.74,287.92 L245.16,287.93 L246.58,287.95 L248.02,287.96 L249.46,287.97 L250.91,287.98 L252.36,287.99 L253.82,288 L255.29,288.02 L256.76,288.03 L258.24,288.04 L259.72,288.05 L261.22,288.06 L262.71,288.07 L264.22,288.08 L265.73,288.1 L267.25,288.11 L268.78,288.12 L270.31,288.13 L271.85,288.14 L273.39,288.15 L274.94,288.16 L276.5,288.17 L278.06,288.18 L279.64,288.2 L281.21,288.21 L282.8,288.22 L284.39,288.23 L285.99,288.24 L287.59,288.25 L289.2,288.26 L290.82,288.27 L292.45,288.28 L294.08,288.29 L295.72,288.3 L297.36,288.31 L299.01,288.32 L300.67,288.33" fill="none" stroke="#1414f5" stroke-width="1.8"/>
<path d="M113.63,325.77 L113.31,326.03 L112.99,326.29 L112.68,326.55 L112.36,326.81 L112.04,327.06 L111.73,327.31 L111.41,327.56 L111.1,327.8 L110.79,328.05 L110.47,328.29 L110.16,328.53 L109.85,328.77 L109.54,329.01 L109.23,329.24 L108.92,329.48 L108.61,329.71 L108.3,329.94 L107.99,330.16 L107.68,330.39 L107.38,330.61 L107.07,330.83 L106.77,331.05 L106.46,331.27 L106.16,331.49 L105.86,331.7 L105.55,331.92 L105.25,332.13 L104.95,332.34 L104.65,332.54 L104.36,332.75 L104.06,332.96 L103.76,333.16 L103.46,333.36 L103.17,333.56 L102.87,333.76 L102.58,333.96 L102.29,334.15 L102,334.34 L101.71,334.54 L101.42,334.73 L101.13,334.92 L100.84,335.1 L100.55,335.29 L100.27,335.48 L99.98,335.66 L99.7,335.84 L99.42,336.02 L99.13,336.2 L98.85,336.38 L98.57,336.56 L98.29,336.73 L98.02,336.9 L97.74,337.08 L97.46,337.25 L97.19,337.42 L96.92,337.59 L96.64,337.76 L96.37,337.92 L96.1,338.09 L95.83,338.25 L95.57,338.41 L95.3,338.57 L95.04,338.73 L94.77,338.89 L94.51,339.05 L94.25,339.21 L93.99,339.36 L93.73,339.52 L93.47,339.67 L93.21,339.82 L92.96,339.98 L92.7,340.13 L92.45,340.27 L92.2,340.42 L91.95,340.57 L91.7,340.71 L91.45,340.86 L91.2,341 L90.96,341.15 L90.72,341.29 L90.47,341.43 L90.23,341.57 L89.99,341.71 L89.75,341.84 L89.52,341.98 L89.28,342.12 L89.05,342.25 L88.82,342.39 L88.58,342.52 L88.35,342.65 L88.13,342.78 L87.9,342.91 L87.67,343.04 L87.45,343.17 L87.23,343.3 L87.01,343.42 L86.79,343.55 L86.57,343.67 L86.35,343.8 L86.14,343.92 L85.93,344.04 L85.72,344.17 L85.51,344.29 L85.3,344.41 L85.09,344.53 L84.88,344.64 L84.68,344.76 L84.48,344.88 L84.28,345 L84.08,345.11 L83.88,345.23 L83.69,345.34 L83.49,345.45 L83.3,345.56 L83.11,345.68 L82.92,345.79 L82.74,345.9 L82.55,346.01 L82.37,346.11 L82.18,346.22 L82,346.33 L81.83,346.44 L81.65,346.54 L81.48,346.65 L81.3,346.75 L81.13,346.86 L80.96,346.96 L80.79,347.06 L80.63,347.16 L80.46,347.26 L80.3,347.37 L80.14,347.47 L79.98,347.56 L79.83,347.66 L79.67,347.76 L79.52,347.86 L79.37,347.96 L79.22,348.05 L79.07,348.15 L78.93,348.24 L78.78,348.34 L78.64,348.43 L78.5,348.52 L78.36,348.62 L78.23,348.71 L78.1,348.8 L77.96,348.89 L77.83,348.98 L77.71,349.07 L77.58,349.16 L77.46,349.25 L77.34,349.34 L77.22,349.43 L77.1,349.51 L76.98,349.6 L76.87,349.69 L76.76,349.77 L76.65,349.86 L76.54,349.94 L76.44,350.03 L76.33,350.11 L76.23,350.19 L76.13,350.28 L76.04,350.36 L75.94,350.44 L75.85,350.52 L75.76,350.6 L75.67,350.68 L75.59,350.76 L75.5,350.84 L75.42,350.92 L75.34,351 L75.26,351.08 L75.19,351.15 L75.12,351.23 L75.05,351.31 L74.98,351.38 L74.91,351.46 L74.85,351.54 L74.79,351.61 L74.73,351.68 L74.67,351.76 L74.62,351.83 L74.56,351.91 L74.51,351.98 L74.47,352.05 L74.42,352.12 L74.38,352.19 L74.34,352.26 L74.3,352.34 L74.26,352.41 L74.23,352.48 L74.2,352.55 L74.17,352.61 L74.14,352.68 L74.12,352.75 L74.1,352.82 L74.08,352.89 L74.06,352.95 L74.05,353.02 L74.04,353.09 L74.03,353.15 L74.02,353.22 L74.01,353.29 L74.01,353.35 L74.01,353.42 L74.02,353.48 L74.02,353.54 L74.03,353.61 L74.04,353.67 L74.05,353.73 L74.04,353.8 L74.04,353.86 L74.05,353.92 L74.05,353.98 L74.06,354.04 L74.07,354.11 L74.08,354.17 L74.1,354.23 L74.12,354.29 L74.14,354.35 L74.16,354.41 L74.19,354.46 L74.22,354.52 L74.25,354.58 L74.28,354.64 L74.32,354.7 L74.36,354.76 L74.4,354.81 L74.45,354.87 L74.5,354.93 L74.55,354.98 L74.6,355.04 L74.66,355.1 L74.72,355.15 L74.78,355.21 L74.84,355.26 L74.91,355.32 L74.98,355.37 L75.06,355.42 L75.13,355.48 L75.21,355.53 L75.29,355.58 L75.38,355.64 L75.46,355.69 L75.55,355.74 L75.65,355.8 L75.74,355.85 L75.84,355.9 L75.95,355.95 L76.05,356 L76.16,356.05 L76.27,356.1 L76.38,356.15 L76.5,356.2 L76.62,356.25 L76.74,356.3 L76.87,356.35 L77,356.4 L77.13,356.45 L77.26,356.5 L77.4,356.55 L77.54,356.6 L77.69,356.64 L77.83,356.69 L77.98,356.74 L78.14,356.79 L78.29,356.83 L78.45,356.88 L78.61,356.93 L78.78,356.97 L78.95,357.02 L79.12,357.07 L79.3,357.11 L79.47,357.16 L79.66,357.2 L79.84,357.25 L80.03,357.29 L80.22,357.34 L80.41,357.38 L80.61,357.43 L80.81,357.47 L81.01,357.51 L81.22,357.56 L81.43,357.6 L81.65,357.64 L81.86,357.69 L82.08,357.73 L82.31,357.77 L82.53,357.82 L82.76,357.86 L83,357.9 L83.23,357.94 L83.47,357.98 L83.72,358.02 L83.96,358.07 L84.21,358.11 L84.47,358.15 L84.73,358.19 L84.99,358.23 L85.25,358.27 L85.52,358.31 L85.79,358.35 L86.06,358.39 L86.34,358.43 L86.62,358.47 L86.9,358.51 L87.19,358.55 L87.48,358.59 L87.78,358.62 L88.08,358.66 L88.38,358.7 L88.68,358.74 L88.99,358.78 L89.31,358.82 L89.62,358.85 L89.94,358.89 L90.27,358.93 L90.59,358.96 L90.92,359 L91.26,359.04 L91.59,359.08 L91.94,359.11 L92.28,359.15 L92.63,359.18 L92.98,359.22 L93.34,359.26 L93.7,359.29 L94.06,359.33 L94.43,359.36 L94.8,359.4 L95.17,359.43 L95.55,359.47 L95.93,359.5 L96.32,359.54 L96.7,359.57 L97.1,359.61 L97.49,359.64 L97.89,359.67 L98.3,359.71 L98.71,359.74 L99.12,359.78 L99.53,359.81 L99.95,359.84 L100.38,359.88 L100.8,359.91 L101.23,359.94 L101.67,359.97 L102.11,360.01 L102.55,360.04 L103,360.07 L103.45,360.1 L103.9,360.14 L104.36,360.17 L104.82,360.2 L105.29,360.23 L105.76,360.26 L106.23,360.3 L106.71,360.33 L107.19,360.36 L107.67,360.39 L108.16,360.42 L108.66,360.45 L109.15,360.48 L109.66,360.51 L110.16,360.54 L110.67,360.57 L111.19,360.6 L111.7,360.63 L112.22,360.66 L112.75,360.69 L113.28,360.72 L113.81,360.75 L114.35,360.78 L114.89,360.81 L115.44,360.84 L115.99,360.87 L116.55,360.9 L117.1,360.93 L117.67,360.95 L118.23,360.98 L118.81,361.01 L119.38,361.04 L119.96,361.07 L120.54,361.1 L121.13,361.12 L121.72,361.15 L122.32,361.18 L122.92,361.21 L123.53,361.24 L124.14,361.26 L124.75,361.29 L125.37,361.32 L125.99,361.34 L126.61,361.37 L127.25,361.4 L127.88,361.43 L128.52,361.45 L129.16,361.48 L129.81,361.51 L130.46,361.53 L131.12,361.56 L131.78,361.58 L132.45,361.61 L133.11,361.64 L133.79,361.66 L134.47,361.69 L135.15,361.71 L135.84,361.74 L136.53,361.77 L137.22,361.79 L137.93,361.82 L138.63,361.84 L139.34,361.87 L140.05,361.89 L140.77,361.92 L141.49,361.94 L142.22,361.97 L142.95,361.99 L143.69,362.01 L144.43,362.04 L145.18,362.06 L145.93,362.09 L146.68,362.11 L147.44,362.14 L148.2,362.16 L148.97,362.18 L149.75,362.21 L150.52,362.23 L151.31,362.26 L152.09,362.28 L152.88,362.3 L153.68,362.33 L154.48,362.35 L155.29,362.37 L156.1,362.4 L156.91,362.42 L157.73,362.44 L158.55,362.46 L159.38,362.49 L160.22,362.51 L161.05,362.53 L161.9,362.55 L162.74,362.58 L163.6,362.6 L164.45,362.62 L165.32,362.64 L166.18,362.67 L167.05,362.69 L167.93,362.71 L168.81,362.73 L169.7,362.75 L170.59,362.78 L171.48,362.8 L172.38,362.82 L173.29,362.84 L174.2,362.86 L175.11,362.88 L176.03,362.9 L176.96,362.93 L177.89,362.95 L178.82,362.97 L179.76,362.99 L180.71,363.01 L181.66,363.03 L182.61,363.05 L183.57,363.07 L184.53,363.09 L185.5,363.11 L186.48,363.13 L187.46,363.15 L188.44,363.17 L189.43,363.19 L190.42,363.21 L191.42,363.23 L192.43,363.25 L193.44,363.27 L194.45,363.29 L195.47,363.31 L196.49,363.33 L197.52,363.35 L198.56,363.37 L199.6,363.39 L200.64,363.41 L201.69,363.43 L202.75,363.45 L203.81,363.47 L204.87,363.49 L205.94,363.51 L207.02,363.53 L208.1,363.55 L209.19,363.56 L210.28,363.58 L211.37,363.6 L212.48,363.62 L213.58,363.64 L214.69,363.66 L215.81,363.68 L216.93,363.7 L218.06,363.71 L219.2,363.73 L220.33,363.75 L221.48,363.77 L222.63,363.79 L223.78,363.8 L224.94,363.82 L226.1,363.84 L227.27,363.86 L228.45,363.88 L229.63,363.89 L230.82,363.91 L232.01,363.93 L233.21,363.95 L234.41,363.96 L235.62,363.98 L236.83,364 L238.05,364.02 L239.27,364.03 L240.5,364.05 L241.73,364.07 L242.97,364.09 L244.22,364.1 L245.47,364.12 L246.73,364.14 L247.99,364.15 L249.26,364.17 L250.53,364.19 L251.81,364.2 L253.09,364.22 L254.38,364.24 L255.68,364.25 L256.98,364.27 L258.29,364.29 L259.6,364.3 L260.91,364.32 L262.24,364.34 L263.57,364.35 L264.9,364.37 L266.24,364.39 L267.58,364.4 L268.94,364.42 L270.29,364.43 L271.65,364.45 L273.02,364.47 L274.4,364.48 L275.78,364.5 L277.16,364.51 L278.55,364.53 L279.95,364.54 L281.35,364.56 L282.76,364.58 L284.17,364.59 L285.59,364.61 L287.01,364.62 L288.45,364.64 L289.88,364.65 L291.32,364.67 L292.77,364.68 L294.23,364.7 L295.69,364.71 L297.15,364.73 L298.62,364.74 L300.1,364.76" fill="none" stroke="#f1a98f" stroke-width="1.7" stroke-dasharray="3.4,2.6"/>
<path d="M138.3,325.83 L138.01,326.38 L137.71,326.91 L137.41,327.45 L137.11,327.97 L136.82,328.49 L136.52,329 L136.22,329.51 L135.92,330.01 L135.62,330.51 L135.32,331 L135.02,331.48 L134.72,331.96 L134.42,332.43 L134.12,332.9 L133.82,333.36 L133.52,333.81 L133.22,334.27 L132.92,334.71 L132.62,335.15 L132.32,335.59 L132.01,336.02 L131.71,336.44 L131.41,336.86 L131.11,337.28 L130.81,337.69 L130.51,338.09 L130.21,338.49 L129.91,338.89 L129.61,339.28 L129.3,339.67 L129,340.05 L128.7,340.43 L128.4,340.81 L128.1,341.18 L127.8,341.55 L127.5,341.91 L127.2,342.27 L126.9,342.62 L126.6,342.97 L126.3,343.32 L126,343.66 L125.7,344 L125.4,344.34 L125.1,344.67 L124.81,345 L124.51,345.32 L124.21,345.64 L123.91,345.96 L123.61,346.27 L123.32,346.58 L123.02,346.89 L122.72,347.19 L122.43,347.5 L122.13,347.79 L121.83,348.09 L121.54,348.38 L121.24,348.67 L120.95,348.95 L120.66,349.24 L120.36,349.51 L120.07,349.79 L119.78,350.06 L119.48,350.34 L119.19,350.6 L118.9,350.87 L118.61,351.13 L118.32,351.39 L118.03,351.65 L117.74,351.9 L117.45,352.15 L117.16,352.4 L116.87,352.65 L116.59,352.9 L116.3,353.14 L116.01,353.38 L115.73,353.61 L115.44,353.85 L115.16,354.08 L114.87,354.31 L114.59,354.54 L114.31,354.76 L114.03,354.99 L113.75,355.21 L113.46,355.43 L113.18,355.64 L112.91,355.86 L112.63,356.07 L112.35,356.28 L112.07,356.49 L111.8,356.7 L111.52,356.9 L111.25,357.11 L110.97,357.31 L110.7,357.51 L110.43,357.7 L110.15,357.9 L109.88,358.09 L109.61,358.28 L109.34,358.47 L109.08,358.66 L108.81,358.85 L108.54,359.03 L108.28,359.21 L108.01,359.4 L107.75,359.57 L107.48,359.75 L107.22,359.93 L106.96,360.1 L106.7,360.28 L106.44,360.45 L106.18,360.62 L105.92,360.79 L105.67,360.95 L105.41,361.12 L105.15,361.28 L104.9,361.44 L104.65,361.61 L104.4,361.77 L104.14,361.92 L103.89,362.08 L103.65,362.24 L103.4,362.39 L103.15,362.54 L102.91,362.69 L102.66,362.84 L102.42,362.99 L102.17,363.14 L101.93,363.29 L101.69,363.43 L101.45,363.57 L101.22,363.72 L100.98,363.86 L100.74,364 L100.51,364.14 L100.27,364.28 L100.04,364.41 L99.81,364.55 L99.58,364.68 L99.35,364.81 L99.12,364.95 L98.9,365.08 L98.67,365.21 L98.45,365.34 L98.23,365.46 L98,365.59 L97.78,365.72 L97.57,365.84 L97.35,365.96 L97.13,366.09 L96.92,366.21 L96.7,366.33 L96.49,366.45 L96.28,366.57 L96.07,366.69 L95.86,366.8 L95.65,366.92 L95.45,367.03 L95.24,367.15 L95.04,367.26 L94.84,367.37 L94.64,367.48 L94.44,367.59 L94.24,367.7 L94.04,367.81 L93.85,367.92 L93.65,368.03 L93.46,368.13 L93.27,368.24 L93.08,368.34 L92.89,368.45 L92.71,368.55 L92.52,368.65 L92.34,368.76 L92.16,368.86 L91.98,368.96 L91.8,369.06 L91.62,369.15 L91.44,369.25 L91.27,369.35 L91.1,369.44 L90.93,369.54 L90.76,369.64 L90.59,369.73 L90.42,369.82 L90.26,369.92 L90.09,370.01 L89.93,370.1 L89.77,370.19 L89.61,370.28 L89.45,370.37 L89.3,370.46 L89.14,370.55 L88.99,370.63 L88.84,370.72 L88.69,370.81 L88.55,370.89 L88.4,370.98 L88.26,371.06 L88.11,371.15 L87.97,371.23 L87.83,371.31 L87.7,371.39 L87.56,371.47 L87.43,371.56 L87.29,371.64 L87.16,371.71 L87.04,371.79 L86.91,371.87 L86.78,371.95 L86.66,372.03 L86.54,372.11 L86.42,372.18 L86.3,372.26 L86.18,372.33 L86.07,372.41 L85.96,372.48 L85.85,372.56 L85.74,372.63 L85.63,372.7 L85.52,372.77 L85.42,372.85 L85.32,372.92 L85.22,372.99 L85.12,373.06 L85.03,373.13 L84.93,373.2 L84.84,373.27 L84.75,373.34 L84.66,373.4 L84.57,373.47 L84.49,373.54 L84.41,373.61 L84.32,373.67 L84.25,373.74 L84.17,373.8 L84.09,373.87 L84.02,373.93 L83.95,374 L83.88,374.06 L83.81,374.13 L83.75,374.19 L83.68,374.25 L83.62,374.31 L83.56,374.37 L83.51,374.44 L83.45,374.5 L83.4,374.56 L83.35,374.62 L83.3,374.68 L83.25,374.74 L83.21,374.8 L83.16,374.85 L83.12,374.91 L83.08,374.97 L83.05,375.03 L83.01,375.09 L82.98,375.14 L82.95,375.2 L82.92,375.26 L82.9,375.31 L82.87,375.37 L82.85,375.42 L82.83,375.48 L82.81,375.53 L82.8,375.59 L82.78,375.64 L82.77,375.69 L82.76,375.75 L82.76,375.8 L82.75,375.85 L82.75,375.9 L82.75,375.96 L82.75,376.01 L82.76,376.06 L82.76,376.11 L82.77,376.16 L82.78,376.21 L82.8,376.26 L82.81,376.31 L82.83,376.36 L82.85,376.41 L82.86,376.46 L82.86,376.51 L82.86,376.56 L82.86,376.6 L82.87,376.65 L82.87,376.7 L82.88,376.75 L82.89,376.79 L82.91,376.84 L82.93,376.89 L82.94,376.93 L82.97,376.98 L82.99,377.02 L83.02,377.07 L83.04,377.11 L83.08,377.16 L83.11,377.2 L83.15,377.25 L83.18,377.29 L83.22,377.34 L83.27,377.38 L83.31,377.42 L83.36,377.47 L83.41,377.51 L83.47,377.55 L83.52,377.59 L83.58,377.63 L83.64,377.68 L83.7,377.72 L83.77,377.76 L83.84,377.8 L83.91,377.84 L83.98,377.88 L84.06,377.92 L84.14,377.96 L84.22,378 L84.31,378.04 L84.39,378.08 L84.48,378.12 L84.57,378.16 L84.67,378.2 L84.77,378.24 L84.87,378.28 L84.97,378.32 L85.07,378.35 L85.18,378.39 L85.29,378.43 L85.41,378.47 L85.52,378.51 L85.64,378.54 L85.76,378.58 L85.89,378.62 L86.01,378.65 L86.14,378.69 L86.28,378.73 L86.41,378.76 L86.55,378.8 L86.69,378.83 L86.83,378.87 L86.98,378.9 L87.13,378.94 L87.28,378.97 L87.44,379.01 L87.59,379.04 L87.76,379.08 L87.92,379.11 L88.09,379.14 L88.25,379.18 L88.43,379.21 L88.6,379.25 L88.78,379.28 L88.96,379.31 L89.15,379.35 L89.33,379.38 L89.52,379.41 L89.71,379.44 L89.91,379.48 L90.11,379.51 L90.31,379.54 L90.51,379.57 L90.72,379.6 L90.93,379.63 L91.15,379.67 L91.36,379.7 L91.58,379.73 L91.81,379.76 L92.03,379.79 L92.26,379.82 L92.49,379.85 L92.73,379.88 L92.96,379.91 L93.21,379.94 L93.45,379.97 L93.7,380 L93.95,380.03 L94.2,380.06 L94.46,380.09 L94.72,380.12 L94.98,380.15 L95.24,380.17 L95.51,380.2 L95.79,380.23 L96.06,380.26 L96.34,380.29 L96.62,380.32 L96.91,380.34 L97.2,380.37 L97.49,380.4 L97.78,380.43 L98.08,380.46 L98.38,380.48 L98.69,380.51 L98.99,380.54 L99.3,380.56 L99.62,380.59 L99.94,380.62 L100.26,380.64 L100.58,380.67 L100.91,380.7 L101.24,380.72 L101.57,380.75 L101.91,380.77 L102.25,380.8 L102.6,380.83 L102.94,380.85 L103.29,380.88 L103.65,380.9 L104.01,380.93 L104.37,380.95 L104.73,380.98 L105.1,381 L105.47,381.03 L105.85,381.05 L106.22,381.08 L106.61,381.1 L106.99,381.13 L107.38,381.15 L107.77,381.17 L108.17,381.2 L108.57,381.22 L108.97,381.25 L109.37,381.27 L109.78,381.29 L110.2,381.32 L110.61,381.34 L111.03,381.36 L111.46,381.39 L111.88,381.41 L112.31,381.43 L112.75,381.45 L113.19,381.48 L113.63,381.5 L114.07,381.52 L114.52,381.54 L114.97,381.57 L115.43,381.59 L115.89,381.61 L116.35,381.63 L116.82,381.66 L117.29,381.68 L117.76,381.7 L118.24,381.72 L118.72,381.74 L119.21,381.76 L119.7,381.78 L120.19,381.81 L120.69,381.83 L121.19,381.85 L121.69,381.87 L122.2,381.89 L122.71,381.91 L123.23,381.93 L123.74,381.95 L124.27,381.97 L124.79,381.99 L125.32,382.01 L125.86,382.03 L126.4,382.05 L126.94,382.07 L127.48,382.09 L128.03,382.11 L128.59,382.13 L129.14,382.15 L129.7,382.17 L130.27,382.19 L130.84,382.21 L131.41,382.23 L131.99,382.25 L132.57,382.27 L133.15,382.29 L133.74,382.31 L134.33,382.33 L134.93,382.35 L135.53,382.37 L136.13,382.38 L136.74,382.4 L137.35,382.42 L137.96,382.44 L138.58,382.46 L139.21,382.48 L139.84,382.5 L140.47,382.51 L141.1,382.53 L141.74,382.55 L142.39,382.57 L143.04,382.59 L143.69,382.6 L144.34,382.62 L145,382.64 L145.67,382.66 L146.34,382.68 L147.01,382.69 L147.68,382.71 L148.36,382.73 L149.05,382.75 L149.74,382.76 L150.43,382.78 L151.13,382.8 L151.83,382.81 L152.53,382.83 L153.24,382.85 L153.96,382.86 L154.68,382.88 L155.4,382.9 L156.12,382.91 L156.85,382.93 L157.59,382.95 L158.33,382.96 L159.07,382.98 L159.82,383 L160.57,383.01 L161.33,383.03 L162.09,383.05 L162.85,383.06 L163.62,383.08 L164.39,383.09 L165.17,383.11 L165.95,383.13 L166.74,383.14 L167.53,383.16 L168.32,383.17 L169.12,383.19 L169.92,383.2 L170.73,383.22 L171.54,383.23 L172.36,383.25 L173.18,383.27 L174.01,383.28 L174.84,383.3 L175.67,383.31 L176.51,383.33 L177.35,383.34 L178.2,383.36 L179.05,383.37 L179.91,383.39 L180.77,383.4 L181.63,383.41 L182.5,383.43 L183.37,383.44 L184.25,383.46 L185.14,383.47 L186.02,383.49 L186.92,383.5 L187.81,383.52 L188.71,383.53 L189.62,383.54 L190.53,383.56 L191.44,383.57 L192.36,383.59 L193.29,383.6 L194.22,383.62 L195.15,383.63 L196.09,383.64 L197.03,383.66 L197.97,383.67 L198.93,383.68 L199.88,383.7 L200.84,383.71 L201.81,383.72 L202.78,383.74 L203.75,383.75 L204.73,383.77 L205.72,383.78 L206.71,383.79 L207.7,383.81 L208.7,383.82 L209.7,383.83 L210.71,383.84 L211.72,383.86 L212.74,383.87 L213.76,383.88 L214.78,383.9 L215.82,383.91 L216.85,383.92 L217.89,383.94 L218.94,383.95 L219.99,383.96 L221.04,383.97 L222.1,383.99 L223.17,384 L224.24,384.01 L225.31,384.02 L226.39,384.04 L227.48,384.05 L228.57,384.06 L229.66,384.07 L230.76,384.09 L231.86,384.1 L232.97,384.11 L234.08,384.12 L235.2,384.13 L236.33,384.15 L237.45,384.16 L238.59,384.17 L239.73,384.18 L240.87,384.19 L242.02,384.21 L243.17,384.22 L244.33,384.23 L245.49,384.24 L246.66,384.25 L247.83,384.26 L249.01,384.28 L250.19,384.29 L251.38,384.3 L252.57,384.31 L253.77,384.32 L254.98,384.33 L256.18,384.34 L257.4,384.36 L258.62,384.37 L259.84,384.38 L261.07,384.39 L262.3,384.4 L263.54,384.41 L264.78,384.42 L266.03,384.43 L267.29,384.44 L268.55,384.46 L269.81,384.47 L271.08,384.48 L272.35,384.49 L273.63,384.5 L274.92,384.51 L276.21,384.52 L277.5,384.53 L278.81,384.54 L280.11,384.55 L281.42,384.56 L282.74,384.57 L284.06,384.58 L285.39,384.6 L286.72,384.61 L288.06,384.62 L289.4,384.63 L290.75,384.64 L292.1,384.65 L293.46,384.66 L294.82,384.67 L296.19,384.68 L297.57,384.69 L298.94,384.7 L300.33,384.71" fill="none" stroke="#fddc80" stroke-width="1.7" stroke-dasharray="3.4,2.6"/>
</g>
<path d="M35,396.4v-2.6M35,224.5v2.6" stroke="#707070" stroke-width="0.7"/>
<path d="M77.94,396.4v-2.6M77.94,224.5v2.6" stroke="#707070" stroke-width="0.7"/>
<path d="M120.88,396.4v-2.6M120.88,224.5v2.6" stroke="#707070" stroke-width="0.7"/>
<path d="M163.82,396.4v-2.6M163.82,224.5v2.6" stroke="#707070" stroke-width="0.7"/>
<path d="M206.76,396.4v-2.6M206.76,224.5v2.6" stroke="#707070" stroke-width="0.7"/>
<path d="M249.7,396.4v-2.6M249.7,224.5v2.6" stroke="#707070" stroke-width="0.7"/>
<path d="M292.64,396.4v-2.6M292.64,224.5v2.6" stroke="#707070" stroke-width="0.7"/>
<path d="M45.73,396.4v-1.5M45.73,224.5v1.5" stroke="#707070" stroke-width="0.7"/>
<path d="M56.47,396.4v-1.5M56.47,224.5v1.5" stroke="#707070" stroke-width="0.7"/>
<path d="M67.2,396.4v-1.5M67.2,224.5v1.5" stroke="#707070" stroke-width="0.7"/>
<path d="M88.67,396.4v-1.5M88.67,224.5v1.5" stroke="#707070" stroke-width="0.7"/>
<path d="M99.41,396.4v-1.5M99.41,224.5v1.5" stroke="#707070" stroke-width="0.7"/>
<path d="M110.14,396.4v-1.5M110.14,224.5v1.5" stroke="#707070" stroke-width="0.7"/>
<path d="M131.61,396.4v-1.5M131.61,224.5v1.5" stroke="#707070" stroke-width="0.7"/>
<path d="M142.35,396.4v-1.5M142.35,224.5v1.5" stroke="#707070" stroke-width="0.7"/>
<path d="M153.08,396.4v-1.5M153.08,224.5v1.5" stroke="#707070" stroke-width="0.7"/>
<path d="M174.56,396.4v-1.5M174.56,224.5v1.5" stroke="#707070" stroke-width="0.7"/>
<path d="M185.29,396.4v-1.5M185.29,224.5v1.5" stroke="#707070" stroke-width="0.7"/>
<path d="M196.02,396.4v-1.5M196.02,224.5v1.5" stroke="#707070" stroke-width="0.7"/>
<path d="M217.49,396.4v-1.5M217.49,224.5v1.5" stroke="#707070" stroke-width="0.7"/>
<path d="M228.23,396.4v-1.5M228.23,224.5v1.5" stroke="#707070" stroke-width="0.7"/>
<path d="M238.96,396.4v-1.5M238.96,224.5v1.5" stroke="#707070" stroke-width="0.7"/>
<path d="M260.44,396.4v-1.5M260.44,224.5v1.5" stroke="#707070" stroke-width="0.7"/>
<path d="M271.17,396.4v-1.5M271.17,224.5v1.5" stroke="#707070" stroke-width="0.7"/>
<path d="M281.9,396.4v-1.5M281.9,224.5v1.5" stroke="#707070" stroke-width="0.7"/>
<path d="M35,377.3h2.6M292.6,377.3h-2.6" stroke="#707070" stroke-width="0.7"/>
<path d="M35,339.1h2.6M292.6,339.1h-2.6" stroke="#707070" stroke-width="0.7"/>
<path d="M35,300.9h2.6M292.6,300.9h-2.6" stroke="#707070" stroke-width="0.7"/>
<path d="M35,262.7h2.6M292.6,262.7h-2.6" stroke="#707070" stroke-width="0.7"/>
<path d="M35,224.5h2.6M292.6,224.5h-2.6" stroke="#707070" stroke-width="0.7"/>
<path d="M35,386.85h1.5M292.6,386.85h-1.5" stroke="#707070" stroke-width="0.7"/>
<path d="M35,367.75h1.5M292.6,367.75h-1.5" stroke="#707070" stroke-width="0.7"/>
<path d="M35,358.2h1.5M292.6,358.2h-1.5" stroke="#707070" stroke-width="0.7"/>
<path d="M35,348.65h1.5M292.6,348.65h-1.5" stroke="#707070" stroke-width="0.7"/>
<path d="M35,329.55h1.5M292.6,329.55h-1.5" stroke="#707070" stroke-width="0.7"/>
<path d="M35,320h1.5M292.6,320h-1.5" stroke="#707070" stroke-width="0.7"/>
<path d="M35,310.45h1.5M292.6,310.45h-1.5" stroke="#707070" stroke-width="0.7"/>
<path d="M35,291.35h1.5M292.6,291.35h-1.5" stroke="#707070" stroke-width="0.7"/>
<path d="M35,281.8h1.5M292.6,281.8h-1.5" stroke="#707070" stroke-width="0.7"/>
<path d="M35,272.25h1.5M292.6,272.25h-1.5" stroke="#707070" stroke-width="0.7"/>
<path d="M35,253.15h1.5M292.6,253.15h-1.5" stroke="#707070" stroke-width="0.7"/>
<path d="M35,243.6h1.5M292.6,243.6h-1.5" stroke="#707070" stroke-width="0.7"/>
<path d="M35,234.05h1.5M292.6,234.05h-1.5" stroke="#707070" stroke-width="0.7"/>
<rect x="35" y="224.5" width="257.6" height="171.9" fill="none" stroke="#858585" stroke-width="1.0"/>
<text transform="translate(35,408.1) scale(0.92,1)" font-size="12.4" text-anchor="middle" font-family="Liberation Serif" letter-spacing="-0.2" stroke="#000" stroke-width="0.18">−0.6</text>
<text transform="translate(77.94,408.1) scale(0.92,1)" font-size="12.4" text-anchor="middle" font-family="Liberation Serif" letter-spacing="-0.2" stroke="#000" stroke-width="0.18">−0.4</text>
<text transform="translate(120.88,408.1) scale(0.92,1)" font-size="12.4" text-anchor="middle" font-family="Liberation Serif" letter-spacing="-0.2" stroke="#000" stroke-width="0.18">−0.2</text>
<text transform="translate(163.82,408.1) scale(0.92,1)" font-size="12.4" text-anchor="middle" font-family="Liberation Serif" letter-spacing="-0.2" stroke="#000" stroke-width="0.18">0.0</text>
<text transform="translate(206.76,408.1) scale(0.92,1)" font-size="12.4" text-anchor="middle" font-family="Liberation Serif" letter-spacing="-0.2" stroke="#000" stroke-width="0.18">0.2</text>
<text transform="translate(249.7,408.1) scale(0.92,1)" font-size="12.4" text-anchor="middle" font-family="Liberation Serif" letter-spacing="-0.2" stroke="#000" stroke-width="0.18">0.4</text>
<text transform="translate(292.64,408.1) scale(0.92,1)" font-size="12.4" text-anchor="middle" font-family="Liberation Serif" letter-spacing="-0.2" stroke="#000" stroke-width="0.18">0.6</text>
<text transform="translate(32.7,381) scale(0.92,1)" font-size="12.4" text-anchor="end" font-family="Liberation Serif" letter-spacing="-0.2" stroke="#000" stroke-width="0.18">0.2</text>
<text transform="translate(32.7,342.8) scale(0.92,1)" font-size="12.4" text-anchor="end" font-family="Liberation Serif" letter-spacing="-0.2" stroke="#000" stroke-width="0.18">0.4</text>
<text transform="translate(32.7,304.6) scale(0.92,1)" font-size="12.4" text-anchor="end" font-family="Liberation Serif" letter-spacing="-0.2" stroke="#000" stroke-width="0.18">0.6</text>
<text transform="translate(32.7,266.4) scale(0.92,1)" font-size="12.4" text-anchor="end" font-family="Liberation Serif" letter-spacing="-0.2" stroke="#000" stroke-width="0.18">0.8</text>
<text transform="translate(32.7,228.2) scale(0.92,1)" font-size="12.4" text-anchor="end" font-family="Liberation Serif" letter-spacing="-0.2" stroke="#000" stroke-width="0.18">1.0</text>
<text x="185" y="420" font-size="15" text-anchor="middle" font-family="Liberation Serif" font-style="italic">W</text>
<path d="M182.6,409.4H186.8" stroke="#000" stroke-width="0.9"/>
<g transform="translate(16,319.5) rotate(-90)"><text x="0" y="0" font-size="16" text-anchor="middle" font-family="Liberation Serif" font-style="italic">g</text></g>
<text x="0" y="215" font-size="17" text-anchor="start" font-family="Liberation Serif" letter-spacing="0" font-style="italic">c)</text>
<g clip-path="url(#cd)">
<path d="M361,396.34 L363.28,396.25 L365.56,396.07 L367.83,395.81 L370.11,395.46 L372.39,395.04 L374.67,394.55 L376.95,393.98 L379.22,393.34 L381.5,392.64 L383.78,391.87 L386.06,391.04 L388.34,390.16 L390.61,389.22 L392.89,388.22 L395.17,387.18 L397.45,386.09 L399.73,384.96 L402,383.79 L404.28,382.58 L406.56,381.33 L408.84,380.05 L411.12,378.75 L413.39,377.41 L415.67,376.05 L417.95,374.67 L420.23,373.27 L422.51,371.85 L424.78,370.41 L427.06,368.96 L429.34,367.5 L431.62,366.02 L433.9,364.54 L436.17,363.05 L438.45,361.55 L440.73,360.05 L443.01,358.54 L445.29,357.03 L447.56,355.51 L449.84,354 L452.12,352.47 L454.4,350.95 L456.68,349.43 L458.95,347.91 L461.23,346.39 L463.51,344.87 L465.79,343.35 L468.07,341.83 L470.34,340.32 L472.62,338.81 L474.9,337.3 L477.18,335.8 L479.46,334.3 L481.73,332.8 L484.01,331.31 L486.29,329.82 L488.57,328.34 L490.84,326.87 L493.12,325.39 L495.4,323.93 L497.68,322.47 L499.96,321.01 L502.23,319.57 L504.51,318.12 L506.79,316.69 L509.07,315.26 L511.35,313.84 L513.62,312.43 L515.9,311.02 L518.18,309.63 L520.46,308.24 L522.74,306.86 L525.01,305.49 L527.29,304.13 L529.57,302.77 L531.85,301.43 L534.13,300.1 L536.4,298.77 L538.68,297.46 L540.96,296.16 L543.24,294.87 L545.52,293.58 L547.79,292.31 L550.07,291.05 L552.35,289.79 L554.63,288.54 L556.91,287.3 L559.18,286.07 L561.46,284.84 L563.74,283.62 L566.02,282.41 L568.3,281.2 L570.57,279.99 L572.85,278.79 L575.13,277.59 L577.41,276.4 L579.69,275.21 L581.96,274.02 L584.24,272.84 L586.52,271.65 L588.8,270.47 L591.08,269.28 L593.35,268.1 L595.63,266.92 L597.91,265.73 L600.19,264.55 L602.47,263.36 L604.74,262.17 L607.02,260.98 L609.3,259.78" fill="none" stroke="#000" stroke-width="1.8"/>
<path d="M361,396.78 L363.28,396.61 L365.56,396.43 L367.83,396.24 L370.11,396.03 L372.39,395.82 L374.67,395.59 L376.95,395.35 L379.22,395.1 L381.5,394.84 L383.78,394.57 L386.06,394.29 L388.34,394 L390.61,393.7 L392.89,393.39 L395.17,393.08 L397.45,392.75 L399.73,392.41 L402,392.07 L404.28,391.72 L406.56,391.36 L408.84,390.99 L411.12,390.62 L413.39,390.23 L415.67,389.85 L417.95,389.45 L420.23,389.05 L422.51,388.64 L424.78,388.22 L427.06,387.8 L429.34,387.38 L431.62,386.95 L433.9,386.51 L436.17,386.07 L438.45,385.62 L440.73,385.17 L443.01,384.71 L445.29,384.26 L447.56,383.79 L449.84,383.33 L452.12,382.86 L454.4,382.38 L456.68,381.91 L458.95,381.43 L461.23,380.95 L463.51,380.46 L465.79,379.98 L468.07,379.49 L470.34,379 L472.62,378.51 L474.9,378.02 L477.18,377.53 L479.46,377.03 L481.73,376.54 L484.01,376.04 L486.29,375.54 L488.57,375.05 L490.84,374.55 L493.12,374.05 L495.4,373.55 L497.68,373.05 L499.96,372.55 L502.23,372.05 L504.51,371.56 L506.79,371.06 L509.07,370.56 L511.35,370.07 L513.62,369.57 L515.9,369.08 L518.18,368.59 L520.46,368.1 L522.74,367.61 L525.01,367.12 L527.29,366.63 L529.57,366.15 L531.85,365.67 L534.13,365.19 L536.4,364.71 L538.68,364.24 L540.96,363.77 L543.24,363.3 L545.52,362.84 L547.79,362.37 L550.07,361.92 L552.35,361.46 L554.63,361.01 L556.91,360.56 L559.18,360.12 L561.46,359.68 L563.74,359.24 L566.02,358.81 L568.3,358.39 L570.57,357.97 L572.85,357.55 L575.13,357.14 L577.41,356.73 L579.69,356.33 L581.96,355.94 L584.24,355.55 L586.52,355.16 L588.8,354.78 L591.08,354.41 L593.35,354.04 L595.63,353.68 L597.91,353.33 L600.19,352.98 L602.47,352.64 L604.74,352.31 L607.02,351.99 L609.3,351.67" fill="none" stroke="#10a810" stroke-width="1.8"/>
</g>
<path d="M402.38,396v-2.6M402.38,231v2.6" stroke="#707070" stroke-width="0.7"/>
<path d="M454.11,396v-2.6M454.11,231v2.6" stroke="#707070" stroke-width="0.7"/>
<path d="M505.84,396v-2.6M505.84,231v2.6" stroke="#707070" stroke-width="0.7"/>
<path d="M557.57,396v-2.6M557.57,231v2.6" stroke="#707070" stroke-width="0.7"/>
<path d="M609.3,396v-2.6M609.3,231v2.6" stroke="#707070" stroke-width="0.7"/>
<path d="M361,396v-1.5M361,231v1.5" stroke="#707070" stroke-width="0.7"/>
<path d="M371.35,396v-1.5M371.35,231v1.5" stroke="#707070" stroke-width="0.7"/>
<path d="M381.69,396v-1.5M381.69,231v1.5" stroke="#707070" stroke-width="0.7"/>
<path d="M392.04,396v-1.5M392.04,231v1.5" stroke="#707070" stroke-width="0.7"/>
<path d="M412.73,396v-1.5M412.73,231v1.5" stroke="#707070" stroke-width="0.7"/>
<path d="M423.08,396v-1.5M423.08,231v1.5" stroke="#707070" stroke-width="0.7"/>
<path d="M433.42,396v-1.5M433.42,231v1.5" stroke="#707070" stroke-width="0.7"/>
<path d="M443.77,396v-1.5M443.77,231v1.5" stroke="#707070" stroke-width="0.7"/>
<path d="M464.46,396v-1.5M464.46,231v1.5" stroke="#707070" stroke-width="0.7"/>
<path d="M474.81,396v-1.5M474.81,231v1.5" stroke="#707070" stroke-width="0.7"/>
<path d="M485.15,396v-1.5M485.15,231v1.5" stroke="#707070" stroke-width="0.7"/>
<path d="M495.5,396v-1.5M495.5,231v1.5" stroke="#707070" stroke-width="0.7"/>
<path d="M516.19,396v-1.5M516.19,231v1.5" stroke="#707070" stroke-width="0.7"/>
<path d="M526.54,396v-1.5M526.54,231v1.5" stroke="#707070" stroke-width="0.7"/>
<path d="M536.88,396v-1.5M536.88,231v1.5" stroke="#707070" stroke-width="0.7"/>
<path d="M547.23,396v-1.5M547.23,231v1.5" stroke="#707070" stroke-width="0.7"/>
<path d="M567.92,396v-1.5M567.92,231v1.5" stroke="#707070" stroke-width="0.7"/>
<path d="M578.27,396v-1.5M578.27,231v1.5" stroke="#707070" stroke-width="0.7"/>
<path d="M588.61,396v-1.5M588.61,231v1.5" stroke="#707070" stroke-width="0.7"/>
<path d="M598.96,396v-1.5M598.96,231v1.5" stroke="#707070" stroke-width="0.7"/>
<path d="M361,396h2.6M609.3,396h-2.6" stroke="#707070" stroke-width="0.7"/>
<path d="M361,368.5h2.6M609.3,368.5h-2.6" stroke="#707070" stroke-width="0.7"/>
<path d="M361,341h2.6M609.3,341h-2.6" stroke="#707070" stroke-width="0.7"/>
<path d="M361,313.5h2.6M609.3,313.5h-2.6" stroke="#707070" stroke-width="0.7"/>
<path d="M361,286h2.6M609.3,286h-2.6" stroke="#707070" stroke-width="0.7"/>
<path d="M361,258.5h2.6M609.3,258.5h-2.6" stroke="#707070" stroke-width="0.7"/>
<path d="M361,231h2.6M609.3,231h-2.6" stroke="#707070" stroke-width="0.7"/>
<path d="M361,390.5h1.5M609.3,390.5h-1.5" stroke="#707070" stroke-width="0.7"/>
<path d="M361,385h1.5M609.3,385h-1.5" stroke="#707070" stroke-width="0.7"/>
<path d="M361,379.5h1.5M609.3,379.5h-1.5" stroke="#707070" stroke-width="0.7"/>
<path d="M361,374h1.5M609.3,374h-1.5" stroke="#707070" stroke-width="0.7"/>
<path d="M361,363h1.5M609.3,363h-1.5" stroke="#707070" stroke-width="0.7"/>
<path d="M361,357.5h1.5M609.3,357.5h-1.5" stroke="#707070" stroke-width="0.7"/>
<path d="M361,352h1.5M609.3,352h-1.5" stroke="#707070" stroke-width="0.7"/>
<path d="M361,346.5h1.5M609.3,346.5h-1.5" stroke="#707070" stroke-width="0.7"/>
<path d="M361,335.5h1.5M609.3,335.5h-1.5" stroke="#707070" stroke-width="0.7"/>
<path d="M361,330h1.5M609.3,330h-1.5" stroke="#707070" stroke-width="0.7"/>
<path d="M361,324.5h1.5M609.3,324.5h-1.5" stroke="#707070" stroke-width="0.7"/>
<path d="M361,319h1.5M609.3,319h-1.5" stroke="#707070" stroke-width="0.7"/>
<path d="M361,308h1.5M609.3,308h-1.5" stroke="#707070" stroke-width="0.7"/>
<path d="M361,302.5h1.5M609.3,302.5h-1.5" stroke="#707070" stroke-width="0.7"/>
<path d="M361,297h1.5M609.3,297h-1.5" stroke="#707070" stroke-width="0.7"/>
<path d="M361,291.5h1.5M609.3,291.5h-1.5" stroke="#707070" stroke-width="0.7"/>
<path d="M361,280.5h1.5M609.3,280.5h-1.5" stroke="#707070" stroke-width="0.7"/>
<path d="M361,275h1.5M609.3,275h-1.5" stroke="#707070" stroke-width="0.7"/>
<path d="M361,269.5h1.5M609.3,269.5h-1.5" stroke="#707070" stroke-width="0.7"/>
<path d="M361,264h1.5M609.3,264h-1.5" stroke="#707070" stroke-width="0.7"/>
<path d="M361,253h1.5M609.3,253h-1.5" stroke="#707070" stroke-width="0.7"/>
<path d="M361,247.5h1.5M609.3,247.5h-1.5" stroke="#707070" stroke-width="0.7"/>
<path d="M361,242h1.5M609.3,242h-1.5" stroke="#707070" stroke-width="0.7"/>
<path d="M361,236.5h1.5M609.3,236.5h-1.5" stroke="#707070" stroke-width="0.7"/>
<rect x="361" y="231" width="248.3" height="165" fill="none" stroke="#858585" stroke-width="1.0"/>
<text transform="translate(402.38,408.4) scale(0.92,1)" font-size="12.4" text-anchor="middle" font-family="Liberation Serif" letter-spacing="-0.2" stroke="#000" stroke-width="0.18">5</text>
<text transform="translate(454.11,408.4) scale(0.92,1)" font-size="12.4" text-anchor="middle" font-family="Liberation Serif" letter-spacing="-0.2" stroke="#000" stroke-width="0.18">10</text>
<text transform="translate(505.84,408.4) scale(0.92,1)" font-size="12.4" text-anchor="middle" font-family="Liberation Serif" letter-spacing="-0.2" stroke="#000" stroke-width="0.18">15</text>
<text transform="translate(557.57,408.4) scale(0.92,1)" font-size="12.4" text-anchor="middle" font-family="Liberation Serif" letter-spacing="-0.2" stroke="#000" stroke-width="0.18">20</text>
<text transform="translate(609.3,408.4) scale(0.92,1)" font-size="12.4" text-anchor="middle" font-family="Liberation Serif" letter-spacing="-0.2" stroke="#000" stroke-width="0.18">25</text>
<text transform="translate(358.8,399.6) scale(0.92,1)" font-size="12.4" text-anchor="end" font-family="Liberation Serif" letter-spacing="-0.2" stroke="#000" stroke-width="0.18">0.000</text>
<text transform="translate(358.8,372.1) scale(0.92,1)" font-size="12.4" text-anchor="end" font-family="Liberation Serif" letter-spacing="-0.2" stroke="#000" stroke-width="0.18">0.005</text>
<text transform="translate(358.8,344.6) scale(0.92,1)" font-size="12.4" text-anchor="end" font-family="Liberation Serif" letter-spacing="-0.2" stroke="#000" stroke-width="0.18">0.010</text>
<text transform="translate(358.8,317.1) scale(0.92,1)" font-size="12.4" text-anchor="end" font-family="Liberation Serif" letter-spacing="-0.2" stroke="#000" stroke-width="0.18">0.015</text>
<text transform="translate(358.8,289.6) scale(0.92,1)" font-size="12.4" text-anchor="end" font-family="Liberation Serif" letter-spacing="-0.2" stroke="#000" stroke-width="0.18">0.020</text>
<text transform="translate(358.8,262.1) scale(0.92,1)" font-size="12.4" text-anchor="end" font-family="Liberation Serif" letter-spacing="-0.2" stroke="#000" stroke-width="0.18">0.025</text>
<text transform="translate(358.8,234.6) scale(0.92,1)" font-size="12.4" text-anchor="end" font-family="Liberation Serif" letter-spacing="-0.2" stroke="#000" stroke-width="0.18">0.030</text>
<rect x="362" y="233" width="98" height="28.4" fill="#fff" stroke="#2a3d4f" stroke-width="1.1"/>
<path d="M369.1,241.2H386.4" stroke="#222" stroke-width="1.8"/>
<path d="M369.1,254H386.4" stroke="#3cc060" stroke-width="1.8"/>
<text x="399.7" y="245" font-size="10.8" text-anchor="start" font-family="Liberation Serif" letter-spacing="0" textLength="50.4" lengthAdjust="spacingAndGlyphs">JG solution</text>
<text x="399.7" y="257.3" font-size="10.8" text-anchor="start" font-family="Liberation Serif" letter-spacing="0" textLength="44.6" lengthAdjust="spacingAndGlyphs">our theory</text>
<g transform="translate(462,418.8) scale(1.22,1)"><text x="0" y="0" font-size="14.6" font-family="Liberation Serif" font-style="italic">R<tspan font-size="10" dy="2.2">A</tspan><tspan dy="-2.2">/R</tspan><tspan font-size="10" dy="2.2">B</tspan></text></g>
<g transform="translate(326.5,349.6) rotate(-90) scale(1.17,1)"><text x="0" y="0" font-size="13.6" font-family="Liberation Serif">Var(<tspan font-style="italic">K</tspan>)/<tspan font-style="italic">K</tspan><tspan font-size="9.5" dy="2.8" font-style="italic">c</tspan><tspan font-size="9.5" dy="-9.5" dx="-4.3">2</tspan></text></g>
<text x="306.5" y="215.5" font-size="17" text-anchor="start" font-family="Liberation Serif" letter-spacing="0" font-style="italic">d)</text>
</svg>
</body></html>
